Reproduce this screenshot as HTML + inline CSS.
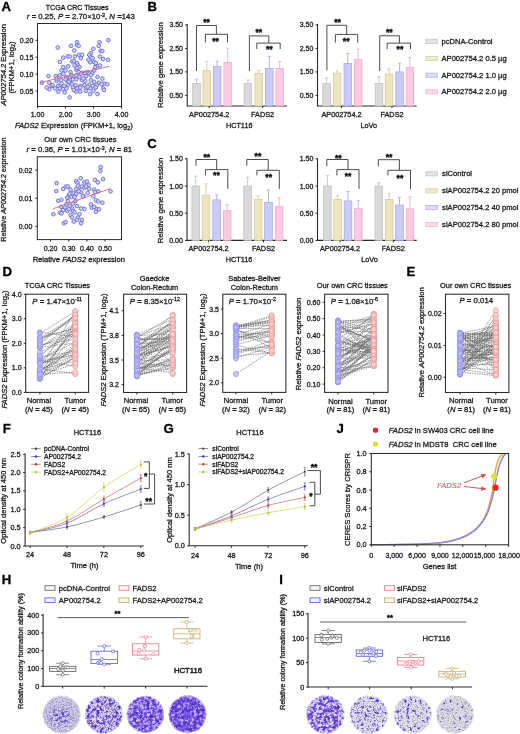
<!DOCTYPE html>
<html><head><meta charset="utf-8"><title>Figure</title>
<style>
html,body{margin:0;padding:0;background:#fff;}
body{width:520px;height:734px;overflow:hidden;}
svg{display:block;filter:blur(0.25px);}
svg text{font-family:'Liberation Sans', Arial, Helvetica, sans-serif;stroke-width:0.3px;}
</style></head><body>
<svg width="520" height="734" viewBox="0 0 520 734" fill="#1e1e1e">
<rect x="0" y="0" width="520" height="734" fill="#fff"/>
<text x="1.60" y="10.60" font-size="13.2" font-weight="bold" fill="#000" stroke="#000">A</text>
<text x="147.60" y="10.60" font-size="13.2" font-weight="bold" fill="#000" stroke="#000">B</text>
<text x="147.20" y="148.30" font-size="13.2" font-weight="bold" fill="#000" stroke="#000">C</text>
<text x="2.60" y="276.30" font-size="13.2" font-weight="bold" fill="#000" stroke="#000">D</text>
<text x="406.40" y="276.40" font-size="13.2" font-weight="bold" fill="#000" stroke="#000">E</text>
<text x="2.80" y="433.00" font-size="13.2" font-weight="bold" fill="#000" stroke="#000">F</text>
<text x="163.40" y="433.00" font-size="13.2" font-weight="bold" fill="#000" stroke="#000">G</text>
<text x="1.80" y="584.20" font-size="13.2" font-weight="bold" fill="#000" stroke="#000">H</text>
<text x="279.30" y="584.20" font-size="13.2" font-weight="bold" fill="#000" stroke="#000">I</text>
<text x="336.60" y="433.00" font-size="13.2" font-weight="bold" fill="#000" stroke="#000">J</text>
<rect x="37.50" y="23.50" width="84.00" height="83.00" fill="none" stroke="#2a2a2a" stroke-width="1"/>
<line x1="37.50" y1="106.50" x2="37.50" y2="108.50" stroke="#2a2a2a" stroke-width="1"/>
<text x="37.50" y="117.20" font-size="7.0" text-anchor="middle" stroke="#1e1e1e">1.00</text>
<line x1="65.50" y1="106.50" x2="65.50" y2="108.50" stroke="#2a2a2a" stroke-width="1"/>
<text x="65.50" y="117.20" font-size="7.0" text-anchor="middle" stroke="#1e1e1e">2.00</text>
<line x1="93.50" y1="106.50" x2="93.50" y2="108.50" stroke="#2a2a2a" stroke-width="1"/>
<text x="93.50" y="117.20" font-size="7.0" text-anchor="middle" stroke="#1e1e1e">3.00</text>
<line x1="121.50" y1="106.50" x2="121.50" y2="108.50" stroke="#2a2a2a" stroke-width="1"/>
<text x="121.50" y="117.20" font-size="7.0" text-anchor="middle" stroke="#1e1e1e">4.00</text>
<line x1="35.50" y1="40.30" x2="37.50" y2="40.30" stroke="#2a2a2a" stroke-width="1"/>
<text x="33.40" y="42.80" font-size="7.0" text-anchor="end" stroke="#1e1e1e">0.20</text>
<line x1="35.50" y1="57.20" x2="37.50" y2="57.20" stroke="#2a2a2a" stroke-width="1"/>
<text x="33.40" y="59.70" font-size="7.0" text-anchor="end" stroke="#1e1e1e">0.15</text>
<line x1="35.50" y1="74.10" x2="37.50" y2="74.10" stroke="#2a2a2a" stroke-width="1"/>
<text x="33.40" y="76.60" font-size="7.0" text-anchor="end" stroke="#1e1e1e">0.10</text>
<line x1="35.50" y1="91.00" x2="37.50" y2="91.00" stroke="#2a2a2a" stroke-width="1"/>
<text x="33.40" y="93.50" font-size="7.0" text-anchor="end" stroke="#1e1e1e">0.05</text>
<text x="77.10" y="9.50" font-size="7.1" text-anchor="middle" stroke="#1e1e1e">TCGA CRC Tissues</text>
<text x="80.80" y="19.00" font-size="7.8" text-anchor="middle" stroke="#1e1e1e"><tspan font-style="italic">r</tspan> = 0.25, <tspan font-style="italic">P</tspan> = 2.70×10<tspan font-size="5.2" dy="-2.34">-3</tspan><tspan dy="2.34">, </tspan><tspan font-style="italic">N</tspan> =143</text>
<text transform="translate(5.90,64.80) rotate(-90)" font-size="7.6" text-anchor="middle" stroke="#1e1e1e"><tspan font-style="italic">AP002754.2</tspan> Expression</text>
<text transform="translate(13.60,67.50) rotate(-90)" font-size="7.6" text-anchor="middle" stroke="#1e1e1e">(FPKM+1, log<tspan font-size="5.5" dy="1.65">2</tspan><tspan dy="-1.65">)</tspan></text>
<text x="73.90" y="128.30" font-size="7.6" text-anchor="middle" stroke="#1e1e1e"><tspan font-style="italic">FADS2</tspan> Expression (FPKM+1, log<tspan font-size="5.5" dy="1.65">2</tspan><tspan dy="-1.65">)</tspan></text>
<circle cx="108.41" cy="40.16" r="1.85" fill="#d2d2f6" stroke="#6c6cd4" stroke-width="0.9"/>
<circle cx="99.58" cy="42.28" r="1.85" fill="#d2d2f6" stroke="#6c6cd4" stroke-width="0.9"/>
<circle cx="77.03" cy="42.28" r="1.85" fill="#d2d2f6" stroke="#6c6cd4" stroke-width="0.9"/>
<circle cx="57.75" cy="47.51" r="1.85" fill="#d2d2f6" stroke="#6c6cd4" stroke-width="0.9"/>
<circle cx="70.99" cy="45.88" r="1.85" fill="#d2d2f6" stroke="#6c6cd4" stroke-width="0.9"/>
<circle cx="77.03" cy="45.06" r="1.85" fill="#d2d2f6" stroke="#6c6cd4" stroke-width="0.9"/>
<circle cx="78.67" cy="45.88" r="1.85" fill="#d2d2f6" stroke="#6c6cd4" stroke-width="0.9"/>
<circle cx="98.76" cy="45.88" r="1.85" fill="#d2d2f6" stroke="#6c6cd4" stroke-width="0.9"/>
<circle cx="93.37" cy="48.82" r="1.85" fill="#d2d2f6" stroke="#6c6cd4" stroke-width="0.9"/>
<circle cx="74.25" cy="50.45" r="1.85" fill="#d2d2f6" stroke="#6c6cd4" stroke-width="0.9"/>
<circle cx="100.73" cy="50.78" r="1.85" fill="#d2d2f6" stroke="#6c6cd4" stroke-width="0.9"/>
<circle cx="102.36" cy="51.10" r="1.85" fill="#d2d2f6" stroke="#6c6cd4" stroke-width="0.9"/>
<circle cx="90.92" cy="53.23" r="1.85" fill="#d2d2f6" stroke="#6c6cd4" stroke-width="0.9"/>
<circle cx="89.29" cy="54.86" r="1.85" fill="#d2d2f6" stroke="#6c6cd4" stroke-width="0.9"/>
<circle cx="79.16" cy="54.86" r="1.85" fill="#d2d2f6" stroke="#6c6cd4" stroke-width="0.9"/>
<circle cx="81.93" cy="54.86" r="1.85" fill="#d2d2f6" stroke="#6c6cd4" stroke-width="0.9"/>
<circle cx="67.72" cy="56.50" r="1.85" fill="#d2d2f6" stroke="#6c6cd4" stroke-width="0.9"/>
<circle cx="69.68" cy="56.50" r="1.85" fill="#d2d2f6" stroke="#6c6cd4" stroke-width="0.9"/>
<circle cx="74.91" cy="56.50" r="1.85" fill="#d2d2f6" stroke="#6c6cd4" stroke-width="0.9"/>
<circle cx="63.14" cy="57.64" r="1.85" fill="#d2d2f6" stroke="#6c6cd4" stroke-width="0.9"/>
<circle cx="80.79" cy="58.13" r="1.85" fill="#d2d2f6" stroke="#6c6cd4" stroke-width="0.9"/>
<circle cx="90.92" cy="57.31" r="1.85" fill="#d2d2f6" stroke="#6c6cd4" stroke-width="0.9"/>
<circle cx="92.56" cy="58.13" r="1.85" fill="#d2d2f6" stroke="#6c6cd4" stroke-width="0.9"/>
<circle cx="99.91" cy="56.50" r="1.85" fill="#d2d2f6" stroke="#6c6cd4" stroke-width="0.9"/>
<circle cx="103.18" cy="58.95" r="1.85" fill="#d2d2f6" stroke="#6c6cd4" stroke-width="0.9"/>
<circle cx="108.08" cy="59.76" r="1.85" fill="#d2d2f6" stroke="#6c6cd4" stroke-width="0.9"/>
<circle cx="59.88" cy="61.89" r="1.85" fill="#d2d2f6" stroke="#6c6cd4" stroke-width="0.9"/>
<circle cx="72.13" cy="61.40" r="1.85" fill="#d2d2f6" stroke="#6c6cd4" stroke-width="0.9"/>
<circle cx="73.76" cy="60.91" r="1.85" fill="#d2d2f6" stroke="#6c6cd4" stroke-width="0.9"/>
<circle cx="77.03" cy="63.03" r="1.85" fill="#d2d2f6" stroke="#6c6cd4" stroke-width="0.9"/>
<circle cx="90.10" cy="62.22" r="1.85" fill="#d2d2f6" stroke="#6c6cd4" stroke-width="0.9"/>
<circle cx="88.47" cy="59.76" r="1.85" fill="#d2d2f6" stroke="#6c6cd4" stroke-width="0.9"/>
<circle cx="94.19" cy="62.22" r="1.85" fill="#d2d2f6" stroke="#6c6cd4" stroke-width="0.9"/>
<circle cx="95.82" cy="63.03" r="1.85" fill="#d2d2f6" stroke="#6c6cd4" stroke-width="0.9"/>
<circle cx="77.85" cy="65.48" r="1.85" fill="#d2d2f6" stroke="#6c6cd4" stroke-width="0.9"/>
<circle cx="79.48" cy="67.12" r="1.85" fill="#d2d2f6" stroke="#6c6cd4" stroke-width="0.9"/>
<circle cx="97.46" cy="66.30" r="1.85" fill="#d2d2f6" stroke="#6c6cd4" stroke-width="0.9"/>
<circle cx="99.91" cy="65.48" r="1.85" fill="#d2d2f6" stroke="#6c6cd4" stroke-width="0.9"/>
<circle cx="63.14" cy="67.12" r="1.85" fill="#d2d2f6" stroke="#6c6cd4" stroke-width="0.9"/>
<circle cx="68.05" cy="66.30" r="1.85" fill="#d2d2f6" stroke="#6c6cd4" stroke-width="0.9"/>
<circle cx="95.01" cy="67.12" r="1.85" fill="#d2d2f6" stroke="#6c6cd4" stroke-width="0.9"/>
<circle cx="61.51" cy="70.39" r="1.85" fill="#d2d2f6" stroke="#6c6cd4" stroke-width="0.9"/>
<circle cx="65.59" cy="70.39" r="1.85" fill="#d2d2f6" stroke="#6c6cd4" stroke-width="0.9"/>
<circle cx="70.50" cy="72.02" r="1.85" fill="#d2d2f6" stroke="#6c6cd4" stroke-width="0.9"/>
<circle cx="76.22" cy="69.57" r="1.85" fill="#d2d2f6" stroke="#6c6cd4" stroke-width="0.9"/>
<circle cx="78.67" cy="72.02" r="1.85" fill="#d2d2f6" stroke="#6c6cd4" stroke-width="0.9"/>
<circle cx="82.75" cy="72.84" r="1.85" fill="#d2d2f6" stroke="#6c6cd4" stroke-width="0.9"/>
<circle cx="85.20" cy="72.84" r="1.85" fill="#d2d2f6" stroke="#6c6cd4" stroke-width="0.9"/>
<circle cx="87.65" cy="72.02" r="1.85" fill="#d2d2f6" stroke="#6c6cd4" stroke-width="0.9"/>
<circle cx="89.29" cy="73.65" r="1.85" fill="#d2d2f6" stroke="#6c6cd4" stroke-width="0.9"/>
<circle cx="92.56" cy="72.84" r="1.85" fill="#d2d2f6" stroke="#6c6cd4" stroke-width="0.9"/>
<circle cx="48.44" cy="76.10" r="1.85" fill="#d2d2f6" stroke="#6c6cd4" stroke-width="0.9"/>
<circle cx="55.79" cy="76.10" r="1.85" fill="#d2d2f6" stroke="#6c6cd4" stroke-width="0.9"/>
<circle cx="59.88" cy="75.29" r="1.85" fill="#d2d2f6" stroke="#6c6cd4" stroke-width="0.9"/>
<circle cx="63.14" cy="73.65" r="1.85" fill="#d2d2f6" stroke="#6c6cd4" stroke-width="0.9"/>
<circle cx="66.41" cy="76.92" r="1.85" fill="#d2d2f6" stroke="#6c6cd4" stroke-width="0.9"/>
<circle cx="69.68" cy="77.74" r="1.85" fill="#d2d2f6" stroke="#6c6cd4" stroke-width="0.9"/>
<circle cx="73.76" cy="76.10" r="1.85" fill="#d2d2f6" stroke="#6c6cd4" stroke-width="0.9"/>
<circle cx="76.22" cy="75.29" r="1.85" fill="#d2d2f6" stroke="#6c6cd4" stroke-width="0.9"/>
<circle cx="79.48" cy="76.92" r="1.85" fill="#d2d2f6" stroke="#6c6cd4" stroke-width="0.9"/>
<circle cx="86.02" cy="76.10" r="1.85" fill="#d2d2f6" stroke="#6c6cd4" stroke-width="0.9"/>
<circle cx="90.92" cy="75.29" r="1.85" fill="#d2d2f6" stroke="#6c6cd4" stroke-width="0.9"/>
<circle cx="97.46" cy="76.92" r="1.85" fill="#d2d2f6" stroke="#6c6cd4" stroke-width="0.9"/>
<circle cx="102.36" cy="78.56" r="1.85" fill="#d2d2f6" stroke="#6c6cd4" stroke-width="0.9"/>
<circle cx="41.90" cy="82.64" r="1.85" fill="#d2d2f6" stroke="#6c6cd4" stroke-width="0.9"/>
<circle cx="49.25" cy="82.64" r="1.85" fill="#d2d2f6" stroke="#6c6cd4" stroke-width="0.9"/>
<circle cx="56.61" cy="81.01" r="1.85" fill="#d2d2f6" stroke="#6c6cd4" stroke-width="0.9"/>
<circle cx="61.18" cy="80.19" r="1.85" fill="#d2d2f6" stroke="#6c6cd4" stroke-width="0.9"/>
<circle cx="67.23" cy="81.01" r="1.85" fill="#d2d2f6" stroke="#6c6cd4" stroke-width="0.9"/>
<circle cx="70.50" cy="80.19" r="1.85" fill="#d2d2f6" stroke="#6c6cd4" stroke-width="0.9"/>
<circle cx="72.95" cy="79.37" r="1.85" fill="#d2d2f6" stroke="#6c6cd4" stroke-width="0.9"/>
<circle cx="76.22" cy="79.37" r="1.85" fill="#d2d2f6" stroke="#6c6cd4" stroke-width="0.9"/>
<circle cx="81.93" cy="80.19" r="1.85" fill="#d2d2f6" stroke="#6c6cd4" stroke-width="0.9"/>
<circle cx="85.20" cy="81.01" r="1.85" fill="#d2d2f6" stroke="#6c6cd4" stroke-width="0.9"/>
<circle cx="94.19" cy="81.82" r="1.85" fill="#d2d2f6" stroke="#6c6cd4" stroke-width="0.9"/>
<circle cx="99.09" cy="82.64" r="1.85" fill="#d2d2f6" stroke="#6c6cd4" stroke-width="0.9"/>
<circle cx="103.99" cy="83.46" r="1.85" fill="#d2d2f6" stroke="#6c6cd4" stroke-width="0.9"/>
<circle cx="107.26" cy="84.27" r="1.85" fill="#d2d2f6" stroke="#6c6cd4" stroke-width="0.9"/>
<circle cx="51.71" cy="85.91" r="1.85" fill="#d2d2f6" stroke="#6c6cd4" stroke-width="0.9"/>
<circle cx="58.24" cy="85.91" r="1.85" fill="#d2d2f6" stroke="#6c6cd4" stroke-width="0.9"/>
<circle cx="60.69" cy="85.09" r="1.85" fill="#d2d2f6" stroke="#6c6cd4" stroke-width="0.9"/>
<circle cx="63.96" cy="85.91" r="1.85" fill="#d2d2f6" stroke="#6c6cd4" stroke-width="0.9"/>
<circle cx="68.05" cy="85.09" r="1.85" fill="#d2d2f6" stroke="#6c6cd4" stroke-width="0.9"/>
<circle cx="72.13" cy="84.27" r="1.85" fill="#d2d2f6" stroke="#6c6cd4" stroke-width="0.9"/>
<circle cx="75.40" cy="85.09" r="1.85" fill="#d2d2f6" stroke="#6c6cd4" stroke-width="0.9"/>
<circle cx="80.30" cy="85.91" r="1.85" fill="#d2d2f6" stroke="#6c6cd4" stroke-width="0.9"/>
<circle cx="84.39" cy="85.09" r="1.85" fill="#d2d2f6" stroke="#6c6cd4" stroke-width="0.9"/>
<circle cx="89.29" cy="84.76" r="1.85" fill="#d2d2f6" stroke="#6c6cd4" stroke-width="0.9"/>
<circle cx="92.56" cy="85.91" r="1.85" fill="#d2d2f6" stroke="#6c6cd4" stroke-width="0.9"/>
<circle cx="96.64" cy="85.09" r="1.85" fill="#d2d2f6" stroke="#6c6cd4" stroke-width="0.9"/>
<circle cx="101.54" cy="84.27" r="1.85" fill="#d2d2f6" stroke="#6c6cd4" stroke-width="0.9"/>
<circle cx="49.25" cy="89.18" r="1.85" fill="#d2d2f6" stroke="#6c6cd4" stroke-width="0.9"/>
<circle cx="54.97" cy="88.36" r="1.85" fill="#d2d2f6" stroke="#6c6cd4" stroke-width="0.9"/>
<circle cx="59.88" cy="88.36" r="1.85" fill="#d2d2f6" stroke="#6c6cd4" stroke-width="0.9"/>
<circle cx="63.14" cy="89.18" r="1.85" fill="#d2d2f6" stroke="#6c6cd4" stroke-width="0.9"/>
<circle cx="72.95" cy="87.54" r="1.85" fill="#d2d2f6" stroke="#6c6cd4" stroke-width="0.9"/>
<circle cx="77.03" cy="88.36" r="1.85" fill="#d2d2f6" stroke="#6c6cd4" stroke-width="0.9"/>
<circle cx="80.30" cy="87.54" r="1.85" fill="#d2d2f6" stroke="#6c6cd4" stroke-width="0.9"/>
<circle cx="86.02" cy="88.36" r="1.85" fill="#d2d2f6" stroke="#6c6cd4" stroke-width="0.9"/>
<circle cx="90.10" cy="88.36" r="1.85" fill="#d2d2f6" stroke="#6c6cd4" stroke-width="0.9"/>
<circle cx="95.82" cy="87.54" r="1.85" fill="#d2d2f6" stroke="#6c6cd4" stroke-width="0.9"/>
<circle cx="103.18" cy="88.36" r="1.85" fill="#d2d2f6" stroke="#6c6cd4" stroke-width="0.9"/>
<circle cx="58.24" cy="91.63" r="1.85" fill="#d2d2f6" stroke="#6c6cd4" stroke-width="0.9"/>
<circle cx="64.78" cy="92.44" r="1.85" fill="#d2d2f6" stroke="#6c6cd4" stroke-width="0.9"/>
<circle cx="76.22" cy="91.63" r="1.85" fill="#d2d2f6" stroke="#6c6cd4" stroke-width="0.9"/>
<circle cx="80.30" cy="91.63" r="1.85" fill="#d2d2f6" stroke="#6c6cd4" stroke-width="0.9"/>
<circle cx="86.02" cy="90.81" r="1.85" fill="#d2d2f6" stroke="#6c6cd4" stroke-width="0.9"/>
<circle cx="93.37" cy="90.81" r="1.85" fill="#d2d2f6" stroke="#6c6cd4" stroke-width="0.9"/>
<circle cx="103.99" cy="89.99" r="1.85" fill="#d2d2f6" stroke="#6c6cd4" stroke-width="0.9"/>
<circle cx="69.68" cy="97.35" r="1.85" fill="#d2d2f6" stroke="#6c6cd4" stroke-width="0.9"/>
<circle cx="90.10" cy="94.08" r="1.85" fill="#d2d2f6" stroke="#6c6cd4" stroke-width="0.9"/>
<circle cx="97.46" cy="94.08" r="1.85" fill="#d2d2f6" stroke="#6c6cd4" stroke-width="0.9"/>
<circle cx="52.52" cy="85.09" r="1.85" fill="#d2d2f6" stroke="#6c6cd4" stroke-width="0.9"/>
<circle cx="46.80" cy="87.54" r="1.85" fill="#d2d2f6" stroke="#6c6cd4" stroke-width="0.9"/>
<circle cx="74.58" cy="65.48" r="1.85" fill="#d2d2f6" stroke="#6c6cd4" stroke-width="0.9"/>
<circle cx="77.03" cy="67.93" r="1.85" fill="#d2d2f6" stroke="#6c6cd4" stroke-width="0.9"/>
<circle cx="71.31" cy="75.29" r="1.85" fill="#d2d2f6" stroke="#6c6cd4" stroke-width="0.9"/>
<circle cx="68.86" cy="81.82" r="1.85" fill="#d2d2f6" stroke="#6c6cd4" stroke-width="0.9"/>
<circle cx="81.12" cy="73.65" r="1.85" fill="#d2d2f6" stroke="#6c6cd4" stroke-width="0.9"/>
<circle cx="83.57" cy="78.56" r="1.85" fill="#d2d2f6" stroke="#6c6cd4" stroke-width="0.9"/>
<circle cx="90.92" cy="80.19" r="1.85" fill="#d2d2f6" stroke="#6c6cd4" stroke-width="0.9"/>
<circle cx="61.51" cy="83.46" r="1.85" fill="#d2d2f6" stroke="#6c6cd4" stroke-width="0.9"/>
<circle cx="66.41" cy="88.36" r="1.85" fill="#d2d2f6" stroke="#6c6cd4" stroke-width="0.9"/>
<circle cx="87.65" cy="86.73" r="1.85" fill="#d2d2f6" stroke="#6c6cd4" stroke-width="0.9"/>
<circle cx="73.76" cy="89.99" r="1.85" fill="#d2d2f6" stroke="#6c6cd4" stroke-width="0.9"/>
<circle cx="94.19" cy="70.39" r="1.85" fill="#d2d2f6" stroke="#6c6cd4" stroke-width="0.9"/>
<circle cx="56.61" cy="78.56" r="1.85" fill="#d2d2f6" stroke="#6c6cd4" stroke-width="0.9"/>
<circle cx="65.59" cy="79.37" r="1.85" fill="#d2d2f6" stroke="#6c6cd4" stroke-width="0.9"/>
<line x1="40.00" y1="82.60" x2="109.00" y2="66.40" stroke="#e0647a" stroke-width="0.9"/>
<rect x="37.30" y="156.80" width="84.20" height="82.80" fill="none" stroke="#2a2a2a" stroke-width="1"/>
<line x1="50.50" y1="239.60" x2="50.50" y2="241.60" stroke="#2a2a2a" stroke-width="1"/>
<text x="50.50" y="251.00" font-size="7.0" text-anchor="middle" stroke="#1e1e1e">0.20</text>
<line x1="68.70" y1="239.60" x2="68.70" y2="241.60" stroke="#2a2a2a" stroke-width="1"/>
<text x="68.70" y="251.00" font-size="7.0" text-anchor="middle" stroke="#1e1e1e">0.30</text>
<line x1="86.90" y1="239.60" x2="86.90" y2="241.60" stroke="#2a2a2a" stroke-width="1"/>
<text x="86.90" y="251.00" font-size="7.0" text-anchor="middle" stroke="#1e1e1e">0.40</text>
<line x1="105.10" y1="239.60" x2="105.10" y2="241.60" stroke="#2a2a2a" stroke-width="1"/>
<text x="105.10" y="251.00" font-size="7.0" text-anchor="middle" stroke="#1e1e1e">0.50</text>
<line x1="35.30" y1="170.10" x2="37.30" y2="170.10" stroke="#2a2a2a" stroke-width="1"/>
<text x="32.40" y="172.60" font-size="7.0" text-anchor="end" stroke="#1e1e1e">0.02</text>
<line x1="35.30" y1="198.20" x2="37.30" y2="198.20" stroke="#2a2a2a" stroke-width="1"/>
<text x="32.40" y="200.70" font-size="7.0" text-anchor="end" stroke="#1e1e1e">0.01</text>
<line x1="35.30" y1="226.30" x2="37.30" y2="226.30" stroke="#2a2a2a" stroke-width="1"/>
<text x="32.40" y="228.80" font-size="7.0" text-anchor="end" stroke="#1e1e1e">0.00</text>
<text x="80.40" y="141.50" font-size="7.5" text-anchor="middle" stroke="#1e1e1e">Our own CRC tissues</text>
<text x="79.30" y="151.90" font-size="7.8" text-anchor="middle" stroke="#1e1e1e"><tspan font-style="italic">r</tspan> = 0.36, <tspan font-style="italic">P</tspan> = 1.01×10<tspan font-size="5.2" dy="-2.34">-3</tspan><tspan dy="2.34">, </tspan><tspan font-style="italic">N</tspan> = 81</text>
<text transform="translate(6.40,189.60) rotate(-90)" font-size="7.2" text-anchor="middle" stroke="#1e1e1e">Relative <tspan font-style="italic">AP002754.2</tspan> expression</text>
<text x="78.80" y="262.00" font-size="7.6" text-anchor="middle" stroke="#1e1e1e">Relative <tspan font-style="italic">FADS2</tspan> expression</text>
<circle cx="100.73" cy="167.13" r="1.85" fill="#d2d2f6" stroke="#6c6cd4" stroke-width="0.9"/>
<circle cx="100.40" cy="170.89" r="1.85" fill="#d2d2f6" stroke="#6c6cd4" stroke-width="0.9"/>
<circle cx="80.79" cy="178.24" r="1.85" fill="#d2d2f6" stroke="#6c6cd4" stroke-width="0.9"/>
<circle cx="103.18" cy="179.06" r="1.85" fill="#d2d2f6" stroke="#6c6cd4" stroke-width="0.9"/>
<circle cx="56.61" cy="183.14" r="1.85" fill="#d2d2f6" stroke="#6c6cd4" stroke-width="0.9"/>
<circle cx="76.22" cy="181.18" r="1.85" fill="#d2d2f6" stroke="#6c6cd4" stroke-width="0.9"/>
<circle cx="77.52" cy="182.82" r="1.85" fill="#d2d2f6" stroke="#6c6cd4" stroke-width="0.9"/>
<circle cx="95.01" cy="179.88" r="1.85" fill="#d2d2f6" stroke="#6c6cd4" stroke-width="0.9"/>
<circle cx="97.78" cy="182.33" r="1.85" fill="#d2d2f6" stroke="#6c6cd4" stroke-width="0.9"/>
<circle cx="84.39" cy="182.33" r="1.85" fill="#d2d2f6" stroke="#6c6cd4" stroke-width="0.9"/>
<circle cx="86.84" cy="181.51" r="1.85" fill="#d2d2f6" stroke="#6c6cd4" stroke-width="0.9"/>
<circle cx="88.47" cy="184.78" r="1.85" fill="#d2d2f6" stroke="#6c6cd4" stroke-width="0.9"/>
<circle cx="65.59" cy="186.74" r="1.85" fill="#d2d2f6" stroke="#6c6cd4" stroke-width="0.9"/>
<circle cx="63.14" cy="188.86" r="1.85" fill="#d2d2f6" stroke="#6c6cd4" stroke-width="0.9"/>
<circle cx="67.72" cy="186.41" r="1.85" fill="#d2d2f6" stroke="#6c6cd4" stroke-width="0.9"/>
<circle cx="70.50" cy="189.68" r="1.85" fill="#d2d2f6" stroke="#6c6cd4" stroke-width="0.9"/>
<circle cx="76.22" cy="188.86" r="1.85" fill="#d2d2f6" stroke="#6c6cd4" stroke-width="0.9"/>
<circle cx="79.81" cy="187.23" r="1.85" fill="#d2d2f6" stroke="#6c6cd4" stroke-width="0.9"/>
<circle cx="81.93" cy="186.41" r="1.85" fill="#d2d2f6" stroke="#6c6cd4" stroke-width="0.9"/>
<circle cx="84.39" cy="188.05" r="1.85" fill="#d2d2f6" stroke="#6c6cd4" stroke-width="0.9"/>
<circle cx="86.02" cy="186.41" r="1.85" fill="#d2d2f6" stroke="#6c6cd4" stroke-width="0.9"/>
<circle cx="56.28" cy="190.99" r="1.85" fill="#d2d2f6" stroke="#6c6cd4" stroke-width="0.9"/>
<circle cx="94.19" cy="189.68" r="1.85" fill="#d2d2f6" stroke="#6c6cd4" stroke-width="0.9"/>
<circle cx="98.27" cy="191.31" r="1.85" fill="#d2d2f6" stroke="#6c6cd4" stroke-width="0.9"/>
<circle cx="95.01" cy="192.13" r="1.85" fill="#d2d2f6" stroke="#6c6cd4" stroke-width="0.9"/>
<circle cx="110.53" cy="191.31" r="1.85" fill="#d2d2f6" stroke="#6c6cd4" stroke-width="0.9"/>
<circle cx="73.76" cy="192.95" r="1.85" fill="#d2d2f6" stroke="#6c6cd4" stroke-width="0.9"/>
<circle cx="76.22" cy="193.76" r="1.85" fill="#d2d2f6" stroke="#6c6cd4" stroke-width="0.9"/>
<circle cx="68.86" cy="195.40" r="1.85" fill="#d2d2f6" stroke="#6c6cd4" stroke-width="0.9"/>
<circle cx="83.57" cy="196.22" r="1.85" fill="#d2d2f6" stroke="#6c6cd4" stroke-width="0.9"/>
<circle cx="81.12" cy="192.13" r="1.85" fill="#d2d2f6" stroke="#6c6cd4" stroke-width="0.9"/>
<circle cx="71.31" cy="197.03" r="1.85" fill="#d2d2f6" stroke="#6c6cd4" stroke-width="0.9"/>
<circle cx="67.23" cy="197.85" r="1.85" fill="#d2d2f6" stroke="#6c6cd4" stroke-width="0.9"/>
<circle cx="74.58" cy="197.03" r="1.85" fill="#d2d2f6" stroke="#6c6cd4" stroke-width="0.9"/>
<circle cx="58.24" cy="200.79" r="1.85" fill="#d2d2f6" stroke="#6c6cd4" stroke-width="0.9"/>
<circle cx="61.51" cy="199.81" r="1.85" fill="#d2d2f6" stroke="#6c6cd4" stroke-width="0.9"/>
<circle cx="68.05" cy="201.12" r="1.85" fill="#d2d2f6" stroke="#6c6cd4" stroke-width="0.9"/>
<circle cx="95.82" cy="200.30" r="1.85" fill="#d2d2f6" stroke="#6c6cd4" stroke-width="0.9"/>
<circle cx="98.27" cy="201.44" r="1.85" fill="#d2d2f6" stroke="#6c6cd4" stroke-width="0.9"/>
<circle cx="102.36" cy="202.75" r="1.85" fill="#d2d2f6" stroke="#6c6cd4" stroke-width="0.9"/>
<circle cx="75.40" cy="201.12" r="1.85" fill="#d2d2f6" stroke="#6c6cd4" stroke-width="0.9"/>
<circle cx="61.18" cy="206.84" r="1.85" fill="#d2d2f6" stroke="#6c6cd4" stroke-width="0.9"/>
<circle cx="64.78" cy="207.65" r="1.85" fill="#d2d2f6" stroke="#6c6cd4" stroke-width="0.9"/>
<circle cx="69.68" cy="206.02" r="1.85" fill="#d2d2f6" stroke="#6c6cd4" stroke-width="0.9"/>
<circle cx="72.13" cy="208.47" r="1.85" fill="#d2d2f6" stroke="#6c6cd4" stroke-width="0.9"/>
<circle cx="77.03" cy="206.02" r="1.85" fill="#d2d2f6" stroke="#6c6cd4" stroke-width="0.9"/>
<circle cx="81.12" cy="208.47" r="1.85" fill="#d2d2f6" stroke="#6c6cd4" stroke-width="0.9"/>
<circle cx="84.39" cy="208.96" r="1.85" fill="#d2d2f6" stroke="#6c6cd4" stroke-width="0.9"/>
<circle cx="91.74" cy="207.65" r="1.85" fill="#d2d2f6" stroke="#6c6cd4" stroke-width="0.9"/>
<circle cx="94.19" cy="206.84" r="1.85" fill="#d2d2f6" stroke="#6c6cd4" stroke-width="0.9"/>
<circle cx="96.64" cy="209.29" r="1.85" fill="#d2d2f6" stroke="#6c6cd4" stroke-width="0.9"/>
<circle cx="99.09" cy="209.29" r="1.85" fill="#d2d2f6" stroke="#6c6cd4" stroke-width="0.9"/>
<circle cx="63.14" cy="210.10" r="1.85" fill="#d2d2f6" stroke="#6c6cd4" stroke-width="0.9"/>
<circle cx="67.23" cy="210.92" r="1.85" fill="#d2d2f6" stroke="#6c6cd4" stroke-width="0.9"/>
<circle cx="59.88" cy="212.56" r="1.85" fill="#d2d2f6" stroke="#6c6cd4" stroke-width="0.9"/>
<circle cx="72.95" cy="210.92" r="1.85" fill="#d2d2f6" stroke="#6c6cd4" stroke-width="0.9"/>
<circle cx="95.82" cy="211.74" r="1.85" fill="#d2d2f6" stroke="#6c6cd4" stroke-width="0.9"/>
<circle cx="53.34" cy="214.19" r="1.85" fill="#d2d2f6" stroke="#6c6cd4" stroke-width="0.9"/>
<circle cx="61.51" cy="213.37" r="1.85" fill="#d2d2f6" stroke="#6c6cd4" stroke-width="0.9"/>
<circle cx="70.50" cy="215.01" r="1.85" fill="#d2d2f6" stroke="#6c6cd4" stroke-width="0.9"/>
<circle cx="72.13" cy="217.46" r="1.85" fill="#d2d2f6" stroke="#6c6cd4" stroke-width="0.9"/>
<circle cx="77.85" cy="217.46" r="1.85" fill="#d2d2f6" stroke="#6c6cd4" stroke-width="0.9"/>
<circle cx="73.76" cy="221.54" r="1.85" fill="#d2d2f6" stroke="#6c6cd4" stroke-width="0.9"/>
<circle cx="77.03" cy="219.91" r="1.85" fill="#d2d2f6" stroke="#6c6cd4" stroke-width="0.9"/>
<circle cx="81.93" cy="219.91" r="1.85" fill="#d2d2f6" stroke="#6c6cd4" stroke-width="0.9"/>
<circle cx="81.12" cy="223.18" r="1.85" fill="#d2d2f6" stroke="#6c6cd4" stroke-width="0.9"/>
<circle cx="63.96" cy="223.18" r="1.85" fill="#d2d2f6" stroke="#6c6cd4" stroke-width="0.9"/>
<circle cx="65.59" cy="222.03" r="1.85" fill="#d2d2f6" stroke="#6c6cd4" stroke-width="0.9"/>
<circle cx="82.75" cy="196.22" r="1.85" fill="#d2d2f6" stroke="#6c6cd4" stroke-width="0.9"/>
<circle cx="89.29" cy="188.86" r="1.85" fill="#d2d2f6" stroke="#6c6cd4" stroke-width="0.9"/>
<circle cx="78.67" cy="191.31" r="1.85" fill="#d2d2f6" stroke="#6c6cd4" stroke-width="0.9"/>
<circle cx="69.68" cy="193.76" r="1.85" fill="#d2d2f6" stroke="#6c6cd4" stroke-width="0.9"/>
<circle cx="87.65" cy="192.95" r="1.85" fill="#d2d2f6" stroke="#6c6cd4" stroke-width="0.9"/>
<circle cx="66.41" cy="204.39" r="1.85" fill="#d2d2f6" stroke="#6c6cd4" stroke-width="0.9"/>
<circle cx="74.58" cy="212.56" r="1.85" fill="#d2d2f6" stroke="#6c6cd4" stroke-width="0.9"/>
<circle cx="79.48" cy="214.19" r="1.85" fill="#d2d2f6" stroke="#6c6cd4" stroke-width="0.9"/>
<circle cx="93.37" cy="196.22" r="1.85" fill="#d2d2f6" stroke="#6c6cd4" stroke-width="0.9"/>
<circle cx="77.85" cy="185.59" r="1.85" fill="#d2d2f6" stroke="#6c6cd4" stroke-width="0.9"/>
<circle cx="72.95" cy="203.57" r="1.85" fill="#d2d2f6" stroke="#6c6cd4" stroke-width="0.9"/>
<circle cx="90.92" cy="204.39" r="1.85" fill="#d2d2f6" stroke="#6c6cd4" stroke-width="0.9"/>
<circle cx="68.86" cy="209.29" r="1.85" fill="#d2d2f6" stroke="#6c6cd4" stroke-width="0.9"/>
<line x1="53.10" y1="208.70" x2="110.40" y2="188.50" stroke="#e0647a" stroke-width="0.9"/>
<line x1="187.20" y1="24.00" x2="187.20" y2="106.50" stroke="#2a2a2a" stroke-width="1.1"/>
<line x1="187.20" y1="106.00" x2="287.00" y2="106.00" stroke="#2a2a2a" stroke-width="1.1"/>
<line x1="185.20" y1="24.95" x2="187.20" y2="24.95" stroke="#2a2a2a" stroke-width="1"/>
<text x="183.00" y="27.45" font-size="7.0" text-anchor="end" stroke="#1e1e1e">3.50</text>
<line x1="185.20" y1="48.42" x2="187.20" y2="48.42" stroke="#2a2a2a" stroke-width="1"/>
<text x="183.00" y="50.92" font-size="7.0" text-anchor="end" stroke="#1e1e1e">2.50</text>
<line x1="185.20" y1="71.89" x2="187.20" y2="71.89" stroke="#2a2a2a" stroke-width="1"/>
<text x="183.00" y="74.39" font-size="7.0" text-anchor="end" stroke="#1e1e1e">1.50</text>
<line x1="185.20" y1="95.36" x2="187.20" y2="95.36" stroke="#2a2a2a" stroke-width="1"/>
<text x="183.00" y="97.86" font-size="7.0" text-anchor="end" stroke="#1e1e1e">0.50</text>
<line x1="317.50" y1="24.00" x2="317.50" y2="106.50" stroke="#2a2a2a" stroke-width="1.1"/>
<line x1="317.50" y1="106.00" x2="416.70" y2="106.00" stroke="#2a2a2a" stroke-width="1.1"/>
<line x1="315.50" y1="24.95" x2="317.50" y2="24.95" stroke="#2a2a2a" stroke-width="1"/>
<text x="313.30" y="27.45" font-size="7.0" text-anchor="end" stroke="#1e1e1e">3.50</text>
<line x1="315.50" y1="48.42" x2="317.50" y2="48.42" stroke="#2a2a2a" stroke-width="1"/>
<text x="313.30" y="50.92" font-size="7.0" text-anchor="end" stroke="#1e1e1e">2.50</text>
<line x1="315.50" y1="71.89" x2="317.50" y2="71.89" stroke="#2a2a2a" stroke-width="1"/>
<text x="313.30" y="74.39" font-size="7.0" text-anchor="end" stroke="#1e1e1e">1.50</text>
<line x1="315.50" y1="95.36" x2="317.50" y2="95.36" stroke="#2a2a2a" stroke-width="1"/>
<text x="313.30" y="97.86" font-size="7.0" text-anchor="end" stroke="#1e1e1e">0.50</text>
<line x1="196.50" y1="79.17" x2="196.50" y2="83.63" stroke="#bdbdbd" stroke-width="0.8"/>
<line x1="194.90" y1="79.17" x2="198.10" y2="79.17" stroke="#bdbdbd" stroke-width="0.8"/>
<rect x="192.70" y="83.63" width="7.60" height="22.37" fill="#d9d9d9" stroke="#bdbdbd" stroke-width="0.7"/>
<line x1="206.80" y1="61.57" x2="206.80" y2="70.72" stroke="#d3c792" stroke-width="0.8"/>
<line x1="205.20" y1="61.57" x2="208.40" y2="61.57" stroke="#d3c792" stroke-width="0.8"/>
<rect x="203.00" y="70.72" width="7.60" height="35.28" fill="#ede5bf" stroke="#d3c792" stroke-width="0.7"/>
<line x1="217.20" y1="61.10" x2="217.20" y2="66.50" stroke="#a3a3e6" stroke-width="0.8"/>
<line x1="215.60" y1="61.10" x2="218.80" y2="61.10" stroke="#a3a3e6" stroke-width="0.8"/>
<rect x="213.40" y="66.50" width="7.60" height="39.50" fill="#cbcbf8" stroke="#a3a3e6" stroke-width="0.7"/>
<line x1="227.70" y1="48.19" x2="227.70" y2="62.51" stroke="#eea5c6" stroke-width="0.8"/>
<line x1="226.10" y1="48.19" x2="229.30" y2="48.19" stroke="#eea5c6" stroke-width="0.8"/>
<rect x="223.90" y="62.51" width="7.60" height="43.49" fill="#fdcae2" stroke="#eea5c6" stroke-width="0.7"/>
<line x1="247.90" y1="80.11" x2="247.90" y2="83.63" stroke="#bdbdbd" stroke-width="0.8"/>
<line x1="246.30" y1="80.11" x2="249.50" y2="80.11" stroke="#bdbdbd" stroke-width="0.8"/>
<rect x="244.10" y="83.63" width="7.60" height="22.37" fill="#d9d9d9" stroke="#bdbdbd" stroke-width="0.7"/>
<line x1="258.70" y1="70.25" x2="258.70" y2="73.30" stroke="#d3c792" stroke-width="0.8"/>
<line x1="257.10" y1="70.25" x2="260.30" y2="70.25" stroke="#d3c792" stroke-width="0.8"/>
<rect x="254.90" y="73.30" width="7.60" height="32.70" fill="#ede5bf" stroke="#d3c792" stroke-width="0.7"/>
<line x1="269.30" y1="56.40" x2="269.30" y2="68.61" stroke="#a3a3e6" stroke-width="0.8"/>
<line x1="267.70" y1="56.40" x2="270.90" y2="56.40" stroke="#a3a3e6" stroke-width="0.8"/>
<rect x="265.50" y="68.61" width="7.60" height="37.39" fill="#cbcbf8" stroke="#a3a3e6" stroke-width="0.7"/>
<line x1="279.70" y1="61.57" x2="279.70" y2="68.37" stroke="#eea5c6" stroke-width="0.8"/>
<line x1="278.10" y1="61.57" x2="281.30" y2="61.57" stroke="#eea5c6" stroke-width="0.8"/>
<rect x="275.90" y="68.37" width="7.60" height="37.63" fill="#fdcae2" stroke="#eea5c6" stroke-width="0.7"/>
<line x1="326.60" y1="78.00" x2="326.60" y2="83.63" stroke="#bdbdbd" stroke-width="0.8"/>
<line x1="325.00" y1="78.00" x2="328.20" y2="78.00" stroke="#bdbdbd" stroke-width="0.8"/>
<rect x="322.80" y="83.63" width="7.60" height="22.37" fill="#d9d9d9" stroke="#bdbdbd" stroke-width="0.7"/>
<line x1="337.10" y1="70.96" x2="337.10" y2="73.07" stroke="#d3c792" stroke-width="0.8"/>
<line x1="335.50" y1="70.96" x2="338.70" y2="70.96" stroke="#d3c792" stroke-width="0.8"/>
<rect x="333.30" y="73.07" width="7.60" height="32.93" fill="#ede5bf" stroke="#d3c792" stroke-width="0.7"/>
<line x1="347.80" y1="53.35" x2="347.80" y2="63.45" stroke="#a3a3e6" stroke-width="0.8"/>
<line x1="346.20" y1="53.35" x2="349.40" y2="53.35" stroke="#a3a3e6" stroke-width="0.8"/>
<rect x="344.00" y="63.45" width="7.60" height="42.55" fill="#cbcbf8" stroke="#a3a3e6" stroke-width="0.7"/>
<line x1="358.10" y1="49.13" x2="358.10" y2="59.69" stroke="#eea5c6" stroke-width="0.8"/>
<line x1="356.50" y1="49.13" x2="359.70" y2="49.13" stroke="#eea5c6" stroke-width="0.8"/>
<rect x="354.30" y="59.69" width="7.60" height="46.31" fill="#fdcae2" stroke="#eea5c6" stroke-width="0.7"/>
<line x1="379.00" y1="76.82" x2="379.00" y2="83.63" stroke="#bdbdbd" stroke-width="0.8"/>
<line x1="377.40" y1="76.82" x2="380.60" y2="76.82" stroke="#bdbdbd" stroke-width="0.8"/>
<rect x="375.20" y="83.63" width="7.60" height="22.37" fill="#d9d9d9" stroke="#bdbdbd" stroke-width="0.7"/>
<line x1="389.10" y1="69.08" x2="389.10" y2="74.01" stroke="#d3c792" stroke-width="0.8"/>
<line x1="387.50" y1="69.08" x2="390.70" y2="69.08" stroke="#d3c792" stroke-width="0.8"/>
<rect x="385.30" y="74.01" width="7.60" height="31.99" fill="#ede5bf" stroke="#d3c792" stroke-width="0.7"/>
<line x1="399.60" y1="63.21" x2="399.60" y2="71.89" stroke="#a3a3e6" stroke-width="0.8"/>
<line x1="398.00" y1="63.21" x2="401.20" y2="63.21" stroke="#a3a3e6" stroke-width="0.8"/>
<rect x="395.80" y="71.89" width="7.60" height="34.11" fill="#cbcbf8" stroke="#a3a3e6" stroke-width="0.7"/>
<line x1="409.90" y1="57.58" x2="409.90" y2="67.67" stroke="#eea5c6" stroke-width="0.8"/>
<line x1="408.30" y1="57.58" x2="411.50" y2="57.58" stroke="#eea5c6" stroke-width="0.8"/>
<rect x="406.10" y="67.67" width="7.60" height="38.33" fill="#fdcae2" stroke="#eea5c6" stroke-width="0.7"/>
<line x1="209.20" y1="106.00" x2="209.20" y2="108.00" stroke="#2a2a2a" stroke-width="1"/>
<line x1="262.60" y1="106.00" x2="262.60" y2="108.00" stroke="#2a2a2a" stroke-width="1"/>
<line x1="341.50" y1="106.00" x2="341.50" y2="108.00" stroke="#2a2a2a" stroke-width="1"/>
<line x1="392.00" y1="106.00" x2="392.00" y2="108.00" stroke="#2a2a2a" stroke-width="1"/>
<polyline points="196.50,71.00 196.50,25.50 216.40,25.50 216.40,34.30" fill="none" stroke="#3a3a3a" stroke-width="0.9"/>
<polyline points="205.40,42.40 205.40,34.30 227.50,34.30 227.50,42.40" fill="none" stroke="#3a3a3a" stroke-width="0.9"/>
<text x="206.50" y="25.39" font-size="8.6" text-anchor="middle" font-weight="bold" fill="#111" stroke="#111" style="stroke-width:0.45px;stroke-linejoin:round">**</text>
<text x="215.60" y="43.89" font-size="8.6" text-anchor="middle" font-weight="bold" fill="#111" stroke="#111" style="stroke-width:0.45px;stroke-linejoin:round">**</text>
<polyline points="249.40,71.00 249.40,35.90 268.80,35.90 268.80,43.10" fill="none" stroke="#3a3a3a" stroke-width="0.9"/>
<polyline points="256.80,49.00 256.80,43.10 280.20,43.10 280.20,49.00" fill="none" stroke="#3a3a3a" stroke-width="0.9"/>
<text x="258.80" y="35.39" font-size="8.6" text-anchor="middle" font-weight="bold" fill="#111" stroke="#111" style="stroke-width:0.45px;stroke-linejoin:round">**</text>
<text x="269.30" y="51.99" font-size="8.6" text-anchor="middle" font-weight="bold" fill="#111" stroke="#111" style="stroke-width:0.45px;stroke-linejoin:round">**</text>
<polyline points="326.90,70.30 326.90,25.30 346.70,25.30 346.70,34.40" fill="none" stroke="#3a3a3a" stroke-width="0.9"/>
<polyline points="335.40,42.60 335.40,34.40 357.70,34.40 357.70,42.60" fill="none" stroke="#3a3a3a" stroke-width="0.9"/>
<text x="337.50" y="25.49" font-size="8.6" text-anchor="middle" font-weight="bold" fill="#111" stroke="#111" style="stroke-width:0.45px;stroke-linejoin:round">**</text>
<text x="346.20" y="44.09" font-size="8.6" text-anchor="middle" font-weight="bold" fill="#111" stroke="#111" style="stroke-width:0.45px;stroke-linejoin:round">**</text>
<polyline points="379.70,71.00 379.70,35.80 399.40,35.80 399.40,43.10" fill="none" stroke="#3a3a3a" stroke-width="0.9"/>
<polyline points="387.20,49.00 387.20,43.10 410.50,43.10 410.50,49.00" fill="none" stroke="#3a3a3a" stroke-width="0.9"/>
<text x="389.30" y="35.49" font-size="8.6" text-anchor="middle" font-weight="bold" fill="#111" stroke="#111" style="stroke-width:0.45px;stroke-linejoin:round">**</text>
<text x="399.90" y="51.99" font-size="8.6" text-anchor="middle" font-weight="bold" fill="#111" stroke="#111" style="stroke-width:0.45px;stroke-linejoin:round">**</text>
<text x="209.20" y="116.90" font-size="7.3" text-anchor="middle" stroke="#1e1e1e">AP002754.2</text>
<text x="262.60" y="116.90" font-size="7.3" text-anchor="middle" stroke="#1e1e1e">FADS2</text>
<text x="341.50" y="116.90" font-size="7.3" text-anchor="middle" stroke="#1e1e1e">AP002754.2</text>
<text x="392.00" y="116.90" font-size="7.3" text-anchor="middle" stroke="#1e1e1e">FADS2</text>
<text x="239.20" y="127.90" font-size="7.3" text-anchor="middle" stroke="#1e1e1e">HCT116</text>
<text x="368.80" y="127.90" font-size="7.3" text-anchor="middle" stroke="#1e1e1e">LoVo</text>
<text transform="translate(162.90,65.00) rotate(-90)" font-size="7.6" text-anchor="middle" stroke="#1e1e1e">Relative gene expression</text>
<rect x="425.90" y="39.30" width="11.60" height="4.20" fill="#e4e4e4" stroke="#c6c6c6" stroke-width="0.8"/>
<text x="441.50" y="43.70" font-size="7.6" stroke="#1e1e1e">pcDNA-Control</text>
<rect x="425.90" y="56.40" width="11.60" height="4.20" fill="#efebcf" stroke="#d8d2a2" stroke-width="0.8"/>
<text x="441.50" y="60.80" font-size="7.6" stroke="#1e1e1e">AP002754.2 0.5 µg</text>
<rect x="425.90" y="73.10" width="11.60" height="4.20" fill="#dcdcf8" stroke="#b4b4ea" stroke-width="0.8"/>
<text x="441.50" y="77.50" font-size="7.6" stroke="#1e1e1e">AP002754.2 1.0 µg</text>
<rect x="425.90" y="89.70" width="11.60" height="4.20" fill="#fcdcea" stroke="#efb4ce" stroke-width="0.8"/>
<text x="441.50" y="94.10" font-size="7.6" stroke="#1e1e1e">AP002754.2 2.0 µg</text>
<line x1="187.00" y1="158.30" x2="187.00" y2="240.90" stroke="#2a2a2a" stroke-width="1.1"/>
<line x1="187.00" y1="240.40" x2="287.00" y2="240.40" stroke="#2a2a2a" stroke-width="1.1"/>
<line x1="185.00" y1="158.80" x2="187.00" y2="158.80" stroke="#2a2a2a" stroke-width="1"/>
<text x="182.80" y="161.30" font-size="7.0" text-anchor="end" stroke="#1e1e1e">1.50</text>
<line x1="185.00" y1="186.00" x2="187.00" y2="186.00" stroke="#2a2a2a" stroke-width="1"/>
<text x="182.80" y="188.50" font-size="7.0" text-anchor="end" stroke="#1e1e1e">1.00</text>
<line x1="185.00" y1="213.20" x2="187.00" y2="213.20" stroke="#2a2a2a" stroke-width="1"/>
<text x="182.80" y="215.70" font-size="7.0" text-anchor="end" stroke="#1e1e1e">0.50</text>
<line x1="185.00" y1="240.40" x2="187.00" y2="240.40" stroke="#2a2a2a" stroke-width="1"/>
<text x="182.80" y="242.90" font-size="7.0" text-anchor="end" stroke="#1e1e1e">0.00</text>
<line x1="317.50" y1="158.30" x2="317.50" y2="240.90" stroke="#2a2a2a" stroke-width="1.1"/>
<line x1="317.50" y1="240.40" x2="416.70" y2="240.40" stroke="#2a2a2a" stroke-width="1.1"/>
<line x1="315.50" y1="158.80" x2="317.50" y2="158.80" stroke="#2a2a2a" stroke-width="1"/>
<text x="313.30" y="161.30" font-size="7.0" text-anchor="end" stroke="#1e1e1e">1.50</text>
<line x1="315.50" y1="186.00" x2="317.50" y2="186.00" stroke="#2a2a2a" stroke-width="1"/>
<text x="313.30" y="188.50" font-size="7.0" text-anchor="end" stroke="#1e1e1e">1.00</text>
<line x1="315.50" y1="213.20" x2="317.50" y2="213.20" stroke="#2a2a2a" stroke-width="1"/>
<text x="313.30" y="215.70" font-size="7.0" text-anchor="end" stroke="#1e1e1e">0.50</text>
<line x1="315.50" y1="240.40" x2="317.50" y2="240.40" stroke="#2a2a2a" stroke-width="1"/>
<text x="313.30" y="242.90" font-size="7.0" text-anchor="end" stroke="#1e1e1e">0.00</text>
<line x1="195.70" y1="176.21" x2="195.70" y2="186.00" stroke="#bdbdbd" stroke-width="0.8"/>
<line x1="194.10" y1="176.21" x2="197.30" y2="176.21" stroke="#bdbdbd" stroke-width="0.8"/>
<rect x="191.90" y="186.00" width="7.60" height="54.40" fill="#d9d9d9" stroke="#bdbdbd" stroke-width="0.7"/>
<line x1="206.00" y1="183.82" x2="206.00" y2="195.25" stroke="#d3c792" stroke-width="0.8"/>
<line x1="204.40" y1="183.82" x2="207.60" y2="183.82" stroke="#d3c792" stroke-width="0.8"/>
<rect x="202.20" y="195.25" width="7.60" height="45.15" fill="#ede5bf" stroke="#d3c792" stroke-width="0.7"/>
<line x1="216.60" y1="194.98" x2="216.60" y2="199.87" stroke="#a3a3e6" stroke-width="0.8"/>
<line x1="215.00" y1="194.98" x2="218.20" y2="194.98" stroke="#a3a3e6" stroke-width="0.8"/>
<rect x="212.80" y="199.87" width="7.60" height="40.53" fill="#cbcbf8" stroke="#a3a3e6" stroke-width="0.7"/>
<line x1="227.20" y1="204.50" x2="227.20" y2="210.75" stroke="#eea5c6" stroke-width="0.8"/>
<line x1="225.60" y1="204.50" x2="228.80" y2="204.50" stroke="#eea5c6" stroke-width="0.8"/>
<rect x="223.40" y="210.75" width="7.60" height="29.65" fill="#fdcae2" stroke="#eea5c6" stroke-width="0.7"/>
<line x1="247.60" y1="177.30" x2="247.60" y2="186.00" stroke="#bdbdbd" stroke-width="0.8"/>
<line x1="246.00" y1="177.30" x2="249.20" y2="177.30" stroke="#bdbdbd" stroke-width="0.8"/>
<rect x="243.80" y="186.00" width="7.60" height="54.40" fill="#d9d9d9" stroke="#bdbdbd" stroke-width="0.7"/>
<line x1="258.10" y1="195.79" x2="258.10" y2="199.33" stroke="#d3c792" stroke-width="0.8"/>
<line x1="256.50" y1="195.79" x2="259.70" y2="195.79" stroke="#d3c792" stroke-width="0.8"/>
<rect x="254.30" y="199.33" width="7.60" height="41.07" fill="#ede5bf" stroke="#d3c792" stroke-width="0.7"/>
<line x1="268.50" y1="190.08" x2="268.50" y2="202.32" stroke="#a3a3e6" stroke-width="0.8"/>
<line x1="266.90" y1="190.08" x2="270.10" y2="190.08" stroke="#a3a3e6" stroke-width="0.8"/>
<rect x="264.70" y="202.32" width="7.60" height="38.08" fill="#cbcbf8" stroke="#a3a3e6" stroke-width="0.7"/>
<line x1="279.10" y1="197.97" x2="279.10" y2="206.67" stroke="#eea5c6" stroke-width="0.8"/>
<line x1="277.50" y1="197.97" x2="280.70" y2="197.97" stroke="#eea5c6" stroke-width="0.8"/>
<rect x="275.30" y="206.67" width="7.60" height="33.73" fill="#fdcae2" stroke="#eea5c6" stroke-width="0.7"/>
<line x1="327.40" y1="175.66" x2="327.40" y2="186.00" stroke="#bdbdbd" stroke-width="0.8"/>
<line x1="325.80" y1="175.66" x2="329.00" y2="175.66" stroke="#bdbdbd" stroke-width="0.8"/>
<rect x="323.60" y="186.00" width="7.60" height="54.40" fill="#d9d9d9" stroke="#bdbdbd" stroke-width="0.7"/>
<line x1="337.60" y1="195.52" x2="337.60" y2="199.33" stroke="#d3c792" stroke-width="0.8"/>
<line x1="336.00" y1="195.52" x2="339.20" y2="195.52" stroke="#d3c792" stroke-width="0.8"/>
<rect x="333.80" y="199.33" width="7.60" height="41.07" fill="#ede5bf" stroke="#d3c792" stroke-width="0.7"/>
<line x1="348.00" y1="191.44" x2="348.00" y2="200.96" stroke="#a3a3e6" stroke-width="0.8"/>
<line x1="346.40" y1="191.44" x2="349.60" y2="191.44" stroke="#a3a3e6" stroke-width="0.8"/>
<rect x="344.20" y="200.96" width="7.60" height="39.44" fill="#cbcbf8" stroke="#a3a3e6" stroke-width="0.7"/>
<line x1="358.30" y1="200.42" x2="358.30" y2="208.30" stroke="#eea5c6" stroke-width="0.8"/>
<line x1="356.70" y1="200.42" x2="359.90" y2="200.42" stroke="#eea5c6" stroke-width="0.8"/>
<rect x="354.50" y="208.30" width="7.60" height="32.10" fill="#fdcae2" stroke="#eea5c6" stroke-width="0.7"/>
<line x1="378.80" y1="182.74" x2="378.80" y2="186.00" stroke="#bdbdbd" stroke-width="0.8"/>
<line x1="377.20" y1="182.74" x2="380.40" y2="182.74" stroke="#bdbdbd" stroke-width="0.8"/>
<rect x="375.00" y="186.00" width="7.60" height="54.40" fill="#d9d9d9" stroke="#bdbdbd" stroke-width="0.7"/>
<line x1="389.20" y1="193.34" x2="389.20" y2="199.60" stroke="#d3c792" stroke-width="0.8"/>
<line x1="387.60" y1="193.34" x2="390.80" y2="193.34" stroke="#d3c792" stroke-width="0.8"/>
<rect x="385.40" y="199.60" width="7.60" height="40.80" fill="#ede5bf" stroke="#d3c792" stroke-width="0.7"/>
<line x1="399.50" y1="197.42" x2="399.50" y2="205.04" stroke="#a3a3e6" stroke-width="0.8"/>
<line x1="397.90" y1="197.42" x2="401.10" y2="197.42" stroke="#a3a3e6" stroke-width="0.8"/>
<rect x="395.70" y="205.04" width="7.60" height="35.36" fill="#cbcbf8" stroke="#a3a3e6" stroke-width="0.7"/>
<line x1="410.00" y1="196.88" x2="410.00" y2="208.85" stroke="#eea5c6" stroke-width="0.8"/>
<line x1="408.40" y1="196.88" x2="411.60" y2="196.88" stroke="#eea5c6" stroke-width="0.8"/>
<rect x="406.20" y="208.85" width="7.60" height="31.55" fill="#fdcae2" stroke="#eea5c6" stroke-width="0.7"/>
<line x1="208.60" y1="240.40" x2="208.60" y2="242.40" stroke="#2a2a2a" stroke-width="1"/>
<line x1="263.50" y1="240.40" x2="263.50" y2="242.40" stroke="#2a2a2a" stroke-width="1"/>
<line x1="340.00" y1="240.40" x2="340.00" y2="242.40" stroke="#2a2a2a" stroke-width="1"/>
<line x1="393.30" y1="240.40" x2="393.30" y2="242.40" stroke="#2a2a2a" stroke-width="1"/>
<polyline points="196.00,165.80 196.00,159.50 216.70,159.50 216.70,169.60" fill="none" stroke="#3a3a3a" stroke-width="0.9"/>
<polyline points="205.40,175.40 205.40,169.60 227.80,169.60 227.80,188.90" fill="none" stroke="#3a3a3a" stroke-width="0.9"/>
<text x="206.80" y="159.59" font-size="8.6" text-anchor="middle" font-weight="bold" fill="#111" stroke="#111" style="stroke-width:0.45px;stroke-linejoin:round">**</text>
<text x="216.40" y="178.19" font-size="8.6" text-anchor="middle" font-weight="bold" fill="#111" stroke="#111" style="stroke-width:0.45px;stroke-linejoin:round">**</text>
<polyline points="246.80,165.80 246.80,159.50 268.20,159.50 268.20,170.30" fill="none" stroke="#3a3a3a" stroke-width="0.9"/>
<polyline points="256.90,175.40 256.90,170.30 279.30,170.30 279.30,188.90" fill="none" stroke="#3a3a3a" stroke-width="0.9"/>
<text x="257.90" y="159.39" font-size="8.6" text-anchor="middle" font-weight="bold" fill="#111" stroke="#111" style="stroke-width:0.45px;stroke-linejoin:round">**</text>
<text x="268.70" y="180.29" font-size="8.6" text-anchor="middle" font-weight="bold" fill="#111" stroke="#111" style="stroke-width:0.45px;stroke-linejoin:round">**</text>
<polyline points="326.80,166.30 326.80,159.50 348.00,159.50 348.00,169.60" fill="none" stroke="#3a3a3a" stroke-width="0.9"/>
<polyline points="336.90,175.40 336.90,169.60 359.00,169.60 359.00,188.90" fill="none" stroke="#3a3a3a" stroke-width="0.9"/>
<text x="338.30" y="160.59" font-size="8.6" text-anchor="middle" font-weight="bold" fill="#111" stroke="#111" style="stroke-width:0.45px;stroke-linejoin:round">**</text>
<text x="348.00" y="179.09" font-size="8.6" text-anchor="middle" font-weight="bold" fill="#111" stroke="#111" style="stroke-width:0.45px;stroke-linejoin:round">**</text>
<polyline points="378.30,166.30 378.30,159.70 399.40,159.70 399.40,170.30" fill="none" stroke="#3a3a3a" stroke-width="0.9"/>
<polyline points="387.90,175.40 387.90,170.30 410.50,170.30 410.50,189.20" fill="none" stroke="#3a3a3a" stroke-width="0.9"/>
<text x="389.10" y="160.09" font-size="8.6" text-anchor="middle" font-weight="bold" fill="#111" stroke="#111" style="stroke-width:0.45px;stroke-linejoin:round">**</text>
<text x="399.90" y="180.79" font-size="8.6" text-anchor="middle" font-weight="bold" fill="#111" stroke="#111" style="stroke-width:0.45px;stroke-linejoin:round">**</text>
<text x="208.60" y="250.80" font-size="7.3" text-anchor="middle" stroke="#1e1e1e">AP002754.2</text>
<text x="263.50" y="250.80" font-size="7.3" text-anchor="middle" stroke="#1e1e1e">FADS2</text>
<text x="340.00" y="250.80" font-size="7.3" text-anchor="middle" stroke="#1e1e1e">AP002754.2</text>
<text x="393.30" y="250.80" font-size="7.3" text-anchor="middle" stroke="#1e1e1e">FADS2</text>
<text x="239.00" y="262.20" font-size="7.3" text-anchor="middle" stroke="#1e1e1e">HCT116</text>
<text x="369.50" y="262.20" font-size="7.3" text-anchor="middle" stroke="#1e1e1e">LoVo</text>
<text transform="translate(162.90,200.50) rotate(-90)" font-size="7.6" text-anchor="middle" stroke="#1e1e1e">Relative gene expression</text>
<rect x="425.90" y="171.70" width="11.60" height="4.20" fill="#e4e4e4" stroke="#c6c6c6" stroke-width="0.8"/>
<text x="442.10" y="176.10" font-size="7.6" stroke="#1e1e1e">siControl</text>
<rect x="425.90" y="188.70" width="11.60" height="4.20" fill="#efebcf" stroke="#d8d2a2" stroke-width="0.8"/>
<text x="442.10" y="193.10" font-size="7.6" stroke="#1e1e1e">siAP002754.2 20 pmol</text>
<rect x="425.90" y="205.50" width="11.60" height="4.20" fill="#dcdcf8" stroke="#b4b4ea" stroke-width="0.8"/>
<text x="442.10" y="209.90" font-size="7.6" stroke="#1e1e1e">siAP002754.2 40 pmol</text>
<rect x="425.90" y="222.50" width="11.60" height="4.20" fill="#fcdcea" stroke="#efb4ce" stroke-width="0.8"/>
<text x="442.10" y="226.90" font-size="7.6" stroke="#1e1e1e">siAP002754.2 80 pmol</text>
<line x1="39.90" y1="378.90" x2="75.30" y2="321.47" stroke="#666666" stroke-width="0.62" stroke-dasharray="1.6 0.8"/>
<line x1="39.90" y1="332.25" x2="75.30" y2="336.89" stroke="#666666" stroke-width="0.62" stroke-dasharray="1.6 0.8"/>
<line x1="39.90" y1="368.89" x2="75.30" y2="311.38" stroke="#666666" stroke-width="0.62" stroke-dasharray="1.6 0.8"/>
<line x1="39.90" y1="368.56" x2="75.30" y2="373.99" stroke="#666666" stroke-width="0.62" stroke-dasharray="1.6 0.8"/>
<line x1="39.90" y1="368.99" x2="75.30" y2="330.45" stroke="#666666" stroke-width="0.62" stroke-dasharray="1.6 0.8"/>
<line x1="39.90" y1="333.60" x2="75.30" y2="311.40" stroke="#666666" stroke-width="0.62" stroke-dasharray="1.6 0.8"/>
<line x1="39.90" y1="374.75" x2="75.30" y2="354.73" stroke="#666666" stroke-width="0.62" stroke-dasharray="1.6 0.8"/>
<line x1="39.90" y1="356.90" x2="75.30" y2="351.28" stroke="#666666" stroke-width="0.62" stroke-dasharray="1.6 0.8"/>
<line x1="39.90" y1="363.69" x2="75.30" y2="354.20" stroke="#666666" stroke-width="0.62" stroke-dasharray="1.6 0.8"/>
<line x1="39.90" y1="369.18" x2="75.30" y2="361.21" stroke="#666666" stroke-width="0.62" stroke-dasharray="1.6 0.8"/>
<line x1="39.90" y1="358.83" x2="75.30" y2="342.61" stroke="#666666" stroke-width="0.62" stroke-dasharray="1.6 0.8"/>
<line x1="39.90" y1="340.49" x2="75.30" y2="315.91" stroke="#666666" stroke-width="0.62" stroke-dasharray="1.6 0.8"/>
<line x1="39.90" y1="347.17" x2="75.30" y2="343.01" stroke="#666666" stroke-width="0.62" stroke-dasharray="1.6 0.8"/>
<line x1="39.90" y1="360.49" x2="75.30" y2="366.11" stroke="#666666" stroke-width="0.62" stroke-dasharray="1.6 0.8"/>
<line x1="39.90" y1="361.21" x2="75.30" y2="354.96" stroke="#666666" stroke-width="0.62" stroke-dasharray="1.6 0.8"/>
<line x1="39.90" y1="347.70" x2="75.30" y2="322.88" stroke="#666666" stroke-width="0.62" stroke-dasharray="1.6 0.8"/>
<line x1="39.90" y1="378.59" x2="75.30" y2="356.44" stroke="#666666" stroke-width="0.62" stroke-dasharray="1.6 0.8"/>
<line x1="39.90" y1="362.78" x2="75.30" y2="323.48" stroke="#666666" stroke-width="0.62" stroke-dasharray="1.6 0.8"/>
<line x1="39.90" y1="378.46" x2="75.30" y2="357.16" stroke="#666666" stroke-width="0.62" stroke-dasharray="1.6 0.8"/>
<line x1="39.90" y1="352.57" x2="75.30" y2="332.11" stroke="#666666" stroke-width="0.62" stroke-dasharray="1.6 0.8"/>
<line x1="39.90" y1="370.46" x2="75.30" y2="349.11" stroke="#666666" stroke-width="0.62" stroke-dasharray="1.6 0.8"/>
<line x1="39.90" y1="375.83" x2="75.30" y2="345.44" stroke="#666666" stroke-width="0.62" stroke-dasharray="1.6 0.8"/>
<line x1="39.90" y1="344.93" x2="75.30" y2="339.29" stroke="#666666" stroke-width="0.62" stroke-dasharray="1.6 0.8"/>
<line x1="39.90" y1="356.73" x2="75.30" y2="323.42" stroke="#666666" stroke-width="0.62" stroke-dasharray="1.6 0.8"/>
<line x1="39.90" y1="355.65" x2="75.30" y2="328.94" stroke="#666666" stroke-width="0.62" stroke-dasharray="1.6 0.8"/>
<line x1="39.90" y1="338.32" x2="75.30" y2="328.10" stroke="#666666" stroke-width="0.62" stroke-dasharray="1.6 0.8"/>
<line x1="39.90" y1="346.66" x2="75.30" y2="328.85" stroke="#666666" stroke-width="0.62" stroke-dasharray="1.6 0.8"/>
<line x1="39.90" y1="374.98" x2="75.30" y2="357.91" stroke="#666666" stroke-width="0.62" stroke-dasharray="1.6 0.8"/>
<line x1="39.90" y1="377.41" x2="75.30" y2="332.09" stroke="#666666" stroke-width="0.62" stroke-dasharray="1.6 0.8"/>
<line x1="39.90" y1="338.05" x2="75.30" y2="316.05" stroke="#666666" stroke-width="0.62" stroke-dasharray="1.6 0.8"/>
<line x1="39.90" y1="345.98" x2="75.30" y2="333.33" stroke="#666666" stroke-width="0.62" stroke-dasharray="1.6 0.8"/>
<line x1="39.90" y1="342.77" x2="75.30" y2="315.65" stroke="#666666" stroke-width="0.62" stroke-dasharray="1.6 0.8"/>
<line x1="39.90" y1="372.35" x2="75.30" y2="343.58" stroke="#666666" stroke-width="0.62" stroke-dasharray="1.6 0.8"/>
<line x1="39.90" y1="344.46" x2="75.30" y2="314.59" stroke="#666666" stroke-width="0.62" stroke-dasharray="1.6 0.8"/>
<line x1="39.90" y1="337.40" x2="75.30" y2="328.18" stroke="#666666" stroke-width="0.62" stroke-dasharray="1.6 0.8"/>
<line x1="39.90" y1="372.39" x2="75.30" y2="326.94" stroke="#666666" stroke-width="0.62" stroke-dasharray="1.6 0.8"/>
<line x1="39.90" y1="363.15" x2="75.30" y2="352.21" stroke="#666666" stroke-width="0.62" stroke-dasharray="1.6 0.8"/>
<line x1="39.90" y1="375.75" x2="75.30" y2="363.53" stroke="#666666" stroke-width="0.62" stroke-dasharray="1.6 0.8"/>
<line x1="39.90" y1="362.55" x2="75.30" y2="333.93" stroke="#666666" stroke-width="0.62" stroke-dasharray="1.6 0.8"/>
<line x1="39.90" y1="340.44" x2="75.30" y2="318.17" stroke="#666666" stroke-width="0.62" stroke-dasharray="1.6 0.8"/>
<line x1="39.90" y1="374.67" x2="75.30" y2="346.80" stroke="#666666" stroke-width="0.62" stroke-dasharray="1.6 0.8"/>
<line x1="39.90" y1="369.36" x2="75.30" y2="354.88" stroke="#666666" stroke-width="0.62" stroke-dasharray="1.6 0.8"/>
<line x1="39.90" y1="373.66" x2="75.30" y2="326.42" stroke="#666666" stroke-width="0.62" stroke-dasharray="1.6 0.8"/>
<line x1="39.90" y1="364.01" x2="75.30" y2="349.05" stroke="#666666" stroke-width="0.62" stroke-dasharray="1.6 0.8"/>
<line x1="39.90" y1="374.44" x2="75.30" y2="372.14" stroke="#666666" stroke-width="0.62" stroke-dasharray="1.6 0.8"/>
<circle cx="75.30" cy="321.47" r="2.55" fill="#f8d4d4" stroke="#e79c9c" stroke-width="0.85" fill-opacity="0.7"/>
<circle cx="75.30" cy="336.89" r="2.55" fill="#f8d4d4" stroke="#e79c9c" stroke-width="0.85" fill-opacity="0.7"/>
<circle cx="75.30" cy="311.38" r="2.55" fill="#f8d4d4" stroke="#e79c9c" stroke-width="0.85" fill-opacity="0.7"/>
<circle cx="75.30" cy="373.99" r="2.55" fill="#f8d4d4" stroke="#e79c9c" stroke-width="0.85" fill-opacity="0.7"/>
<circle cx="75.30" cy="330.45" r="2.55" fill="#f8d4d4" stroke="#e79c9c" stroke-width="0.85" fill-opacity="0.7"/>
<circle cx="75.30" cy="311.40" r="2.55" fill="#f8d4d4" stroke="#e79c9c" stroke-width="0.85" fill-opacity="0.7"/>
<circle cx="75.30" cy="354.73" r="2.55" fill="#f8d4d4" stroke="#e79c9c" stroke-width="0.85" fill-opacity="0.7"/>
<circle cx="75.30" cy="351.28" r="2.55" fill="#f8d4d4" stroke="#e79c9c" stroke-width="0.85" fill-opacity="0.7"/>
<circle cx="75.30" cy="354.20" r="2.55" fill="#f8d4d4" stroke="#e79c9c" stroke-width="0.85" fill-opacity="0.7"/>
<circle cx="75.30" cy="361.21" r="2.55" fill="#f8d4d4" stroke="#e79c9c" stroke-width="0.85" fill-opacity="0.7"/>
<circle cx="75.30" cy="342.61" r="2.55" fill="#f8d4d4" stroke="#e79c9c" stroke-width="0.85" fill-opacity="0.7"/>
<circle cx="75.30" cy="315.91" r="2.55" fill="#f8d4d4" stroke="#e79c9c" stroke-width="0.85" fill-opacity="0.7"/>
<circle cx="75.30" cy="343.01" r="2.55" fill="#f8d4d4" stroke="#e79c9c" stroke-width="0.85" fill-opacity="0.7"/>
<circle cx="75.30" cy="366.11" r="2.55" fill="#f8d4d4" stroke="#e79c9c" stroke-width="0.85" fill-opacity="0.7"/>
<circle cx="75.30" cy="354.96" r="2.55" fill="#f8d4d4" stroke="#e79c9c" stroke-width="0.85" fill-opacity="0.7"/>
<circle cx="75.30" cy="322.88" r="2.55" fill="#f8d4d4" stroke="#e79c9c" stroke-width="0.85" fill-opacity="0.7"/>
<circle cx="75.30" cy="356.44" r="2.55" fill="#f8d4d4" stroke="#e79c9c" stroke-width="0.85" fill-opacity="0.7"/>
<circle cx="75.30" cy="323.48" r="2.55" fill="#f8d4d4" stroke="#e79c9c" stroke-width="0.85" fill-opacity="0.7"/>
<circle cx="75.30" cy="357.16" r="2.55" fill="#f8d4d4" stroke="#e79c9c" stroke-width="0.85" fill-opacity="0.7"/>
<circle cx="75.30" cy="332.11" r="2.55" fill="#f8d4d4" stroke="#e79c9c" stroke-width="0.85" fill-opacity="0.7"/>
<circle cx="75.30" cy="349.11" r="2.55" fill="#f8d4d4" stroke="#e79c9c" stroke-width="0.85" fill-opacity="0.7"/>
<circle cx="75.30" cy="345.44" r="2.55" fill="#f8d4d4" stroke="#e79c9c" stroke-width="0.85" fill-opacity="0.7"/>
<circle cx="75.30" cy="339.29" r="2.55" fill="#f8d4d4" stroke="#e79c9c" stroke-width="0.85" fill-opacity="0.7"/>
<circle cx="75.30" cy="323.42" r="2.55" fill="#f8d4d4" stroke="#e79c9c" stroke-width="0.85" fill-opacity="0.7"/>
<circle cx="75.30" cy="328.94" r="2.55" fill="#f8d4d4" stroke="#e79c9c" stroke-width="0.85" fill-opacity="0.7"/>
<circle cx="75.30" cy="328.10" r="2.55" fill="#f8d4d4" stroke="#e79c9c" stroke-width="0.85" fill-opacity="0.7"/>
<circle cx="75.30" cy="328.85" r="2.55" fill="#f8d4d4" stroke="#e79c9c" stroke-width="0.85" fill-opacity="0.7"/>
<circle cx="75.30" cy="357.91" r="2.55" fill="#f8d4d4" stroke="#e79c9c" stroke-width="0.85" fill-opacity="0.7"/>
<circle cx="75.30" cy="332.09" r="2.55" fill="#f8d4d4" stroke="#e79c9c" stroke-width="0.85" fill-opacity="0.7"/>
<circle cx="75.30" cy="316.05" r="2.55" fill="#f8d4d4" stroke="#e79c9c" stroke-width="0.85" fill-opacity="0.7"/>
<circle cx="75.30" cy="333.33" r="2.55" fill="#f8d4d4" stroke="#e79c9c" stroke-width="0.85" fill-opacity="0.7"/>
<circle cx="75.30" cy="315.65" r="2.55" fill="#f8d4d4" stroke="#e79c9c" stroke-width="0.85" fill-opacity="0.7"/>
<circle cx="75.30" cy="343.58" r="2.55" fill="#f8d4d4" stroke="#e79c9c" stroke-width="0.85" fill-opacity="0.7"/>
<circle cx="75.30" cy="314.59" r="2.55" fill="#f8d4d4" stroke="#e79c9c" stroke-width="0.85" fill-opacity="0.7"/>
<circle cx="75.30" cy="328.18" r="2.55" fill="#f8d4d4" stroke="#e79c9c" stroke-width="0.85" fill-opacity="0.7"/>
<circle cx="75.30" cy="326.94" r="2.55" fill="#f8d4d4" stroke="#e79c9c" stroke-width="0.85" fill-opacity="0.7"/>
<circle cx="75.30" cy="352.21" r="2.55" fill="#f8d4d4" stroke="#e79c9c" stroke-width="0.85" fill-opacity="0.7"/>
<circle cx="75.30" cy="363.53" r="2.55" fill="#f8d4d4" stroke="#e79c9c" stroke-width="0.85" fill-opacity="0.7"/>
<circle cx="75.30" cy="333.93" r="2.55" fill="#f8d4d4" stroke="#e79c9c" stroke-width="0.85" fill-opacity="0.7"/>
<circle cx="75.30" cy="318.17" r="2.55" fill="#f8d4d4" stroke="#e79c9c" stroke-width="0.85" fill-opacity="0.7"/>
<circle cx="75.30" cy="346.80" r="2.55" fill="#f8d4d4" stroke="#e79c9c" stroke-width="0.85" fill-opacity="0.7"/>
<circle cx="75.30" cy="354.88" r="2.55" fill="#f8d4d4" stroke="#e79c9c" stroke-width="0.85" fill-opacity="0.7"/>
<circle cx="75.30" cy="326.42" r="2.55" fill="#f8d4d4" stroke="#e79c9c" stroke-width="0.85" fill-opacity="0.7"/>
<circle cx="75.30" cy="349.05" r="2.55" fill="#f8d4d4" stroke="#e79c9c" stroke-width="0.85" fill-opacity="0.7"/>
<circle cx="75.30" cy="372.14" r="2.55" fill="#f8d4d4" stroke="#e79c9c" stroke-width="0.85" fill-opacity="0.7"/>
<circle cx="39.90" cy="378.90" r="2.55" fill="#babaf4" stroke="#9898ea" stroke-width="0.85" fill-opacity="0.7"/>
<circle cx="39.90" cy="332.25" r="2.55" fill="#babaf4" stroke="#9898ea" stroke-width="0.85" fill-opacity="0.7"/>
<circle cx="39.90" cy="368.89" r="2.55" fill="#babaf4" stroke="#9898ea" stroke-width="0.85" fill-opacity="0.7"/>
<circle cx="39.90" cy="368.56" r="2.55" fill="#babaf4" stroke="#9898ea" stroke-width="0.85" fill-opacity="0.7"/>
<circle cx="39.90" cy="368.99" r="2.55" fill="#babaf4" stroke="#9898ea" stroke-width="0.85" fill-opacity="0.7"/>
<circle cx="39.90" cy="333.60" r="2.55" fill="#babaf4" stroke="#9898ea" stroke-width="0.85" fill-opacity="0.7"/>
<circle cx="39.90" cy="374.75" r="2.55" fill="#babaf4" stroke="#9898ea" stroke-width="0.85" fill-opacity="0.7"/>
<circle cx="39.90" cy="356.90" r="2.55" fill="#babaf4" stroke="#9898ea" stroke-width="0.85" fill-opacity="0.7"/>
<circle cx="39.90" cy="363.69" r="2.55" fill="#babaf4" stroke="#9898ea" stroke-width="0.85" fill-opacity="0.7"/>
<circle cx="39.90" cy="369.18" r="2.55" fill="#babaf4" stroke="#9898ea" stroke-width="0.85" fill-opacity="0.7"/>
<circle cx="39.90" cy="358.83" r="2.55" fill="#babaf4" stroke="#9898ea" stroke-width="0.85" fill-opacity="0.7"/>
<circle cx="39.90" cy="340.49" r="2.55" fill="#babaf4" stroke="#9898ea" stroke-width="0.85" fill-opacity="0.7"/>
<circle cx="39.90" cy="347.17" r="2.55" fill="#babaf4" stroke="#9898ea" stroke-width="0.85" fill-opacity="0.7"/>
<circle cx="39.90" cy="360.49" r="2.55" fill="#babaf4" stroke="#9898ea" stroke-width="0.85" fill-opacity="0.7"/>
<circle cx="39.90" cy="361.21" r="2.55" fill="#babaf4" stroke="#9898ea" stroke-width="0.85" fill-opacity="0.7"/>
<circle cx="39.90" cy="347.70" r="2.55" fill="#babaf4" stroke="#9898ea" stroke-width="0.85" fill-opacity="0.7"/>
<circle cx="39.90" cy="378.59" r="2.55" fill="#babaf4" stroke="#9898ea" stroke-width="0.85" fill-opacity="0.7"/>
<circle cx="39.90" cy="362.78" r="2.55" fill="#babaf4" stroke="#9898ea" stroke-width="0.85" fill-opacity="0.7"/>
<circle cx="39.90" cy="378.46" r="2.55" fill="#babaf4" stroke="#9898ea" stroke-width="0.85" fill-opacity="0.7"/>
<circle cx="39.90" cy="352.57" r="2.55" fill="#babaf4" stroke="#9898ea" stroke-width="0.85" fill-opacity="0.7"/>
<circle cx="39.90" cy="370.46" r="2.55" fill="#babaf4" stroke="#9898ea" stroke-width="0.85" fill-opacity="0.7"/>
<circle cx="39.90" cy="375.83" r="2.55" fill="#babaf4" stroke="#9898ea" stroke-width="0.85" fill-opacity="0.7"/>
<circle cx="39.90" cy="344.93" r="2.55" fill="#babaf4" stroke="#9898ea" stroke-width="0.85" fill-opacity="0.7"/>
<circle cx="39.90" cy="356.73" r="2.55" fill="#babaf4" stroke="#9898ea" stroke-width="0.85" fill-opacity="0.7"/>
<circle cx="39.90" cy="355.65" r="2.55" fill="#babaf4" stroke="#9898ea" stroke-width="0.85" fill-opacity="0.7"/>
<circle cx="39.90" cy="338.32" r="2.55" fill="#babaf4" stroke="#9898ea" stroke-width="0.85" fill-opacity="0.7"/>
<circle cx="39.90" cy="346.66" r="2.55" fill="#babaf4" stroke="#9898ea" stroke-width="0.85" fill-opacity="0.7"/>
<circle cx="39.90" cy="374.98" r="2.55" fill="#babaf4" stroke="#9898ea" stroke-width="0.85" fill-opacity="0.7"/>
<circle cx="39.90" cy="377.41" r="2.55" fill="#babaf4" stroke="#9898ea" stroke-width="0.85" fill-opacity="0.7"/>
<circle cx="39.90" cy="338.05" r="2.55" fill="#babaf4" stroke="#9898ea" stroke-width="0.85" fill-opacity="0.7"/>
<circle cx="39.90" cy="345.98" r="2.55" fill="#babaf4" stroke="#9898ea" stroke-width="0.85" fill-opacity="0.7"/>
<circle cx="39.90" cy="342.77" r="2.55" fill="#babaf4" stroke="#9898ea" stroke-width="0.85" fill-opacity="0.7"/>
<circle cx="39.90" cy="372.35" r="2.55" fill="#babaf4" stroke="#9898ea" stroke-width="0.85" fill-opacity="0.7"/>
<circle cx="39.90" cy="344.46" r="2.55" fill="#babaf4" stroke="#9898ea" stroke-width="0.85" fill-opacity="0.7"/>
<circle cx="39.90" cy="337.40" r="2.55" fill="#babaf4" stroke="#9898ea" stroke-width="0.85" fill-opacity="0.7"/>
<circle cx="39.90" cy="372.39" r="2.55" fill="#babaf4" stroke="#9898ea" stroke-width="0.85" fill-opacity="0.7"/>
<circle cx="39.90" cy="363.15" r="2.55" fill="#babaf4" stroke="#9898ea" stroke-width="0.85" fill-opacity="0.7"/>
<circle cx="39.90" cy="375.75" r="2.55" fill="#babaf4" stroke="#9898ea" stroke-width="0.85" fill-opacity="0.7"/>
<circle cx="39.90" cy="362.55" r="2.55" fill="#babaf4" stroke="#9898ea" stroke-width="0.85" fill-opacity="0.7"/>
<circle cx="39.90" cy="340.44" r="2.55" fill="#babaf4" stroke="#9898ea" stroke-width="0.85" fill-opacity="0.7"/>
<circle cx="39.90" cy="374.67" r="2.55" fill="#babaf4" stroke="#9898ea" stroke-width="0.85" fill-opacity="0.7"/>
<circle cx="39.90" cy="369.36" r="2.55" fill="#babaf4" stroke="#9898ea" stroke-width="0.85" fill-opacity="0.7"/>
<circle cx="39.90" cy="373.66" r="2.55" fill="#babaf4" stroke="#9898ea" stroke-width="0.85" fill-opacity="0.7"/>
<circle cx="39.90" cy="364.01" r="2.55" fill="#babaf4" stroke="#9898ea" stroke-width="0.85" fill-opacity="0.7"/>
<circle cx="39.90" cy="374.44" r="2.55" fill="#babaf4" stroke="#9898ea" stroke-width="0.85" fill-opacity="0.7"/>
<rect x="25.70" y="294.20" width="62.90" height="98.20" fill="none" stroke="#2a2a2a" stroke-width="1.05"/>
<line x1="23.70" y1="294.20" x2="25.70" y2="294.20" stroke="#2a2a2a" stroke-width="1"/>
<text x="21.60" y="296.70" font-size="7.0" text-anchor="end" stroke="#1e1e1e">4.0</text>
<line x1="23.70" y1="318.75" x2="25.70" y2="318.75" stroke="#2a2a2a" stroke-width="1"/>
<text x="21.60" y="321.25" font-size="7.0" text-anchor="end" stroke="#1e1e1e">3.0</text>
<line x1="23.70" y1="343.30" x2="25.70" y2="343.30" stroke="#2a2a2a" stroke-width="1"/>
<text x="21.60" y="345.80" font-size="7.0" text-anchor="end" stroke="#1e1e1e">2.0</text>
<line x1="23.70" y1="367.85" x2="25.70" y2="367.85" stroke="#2a2a2a" stroke-width="1"/>
<text x="21.60" y="370.35" font-size="7.0" text-anchor="end" stroke="#1e1e1e">1.0</text>
<line x1="23.70" y1="392.40" x2="25.70" y2="392.40" stroke="#2a2a2a" stroke-width="1"/>
<text x="21.60" y="394.90" font-size="7.0" text-anchor="end" stroke="#1e1e1e">0.0</text>
<line x1="39.90" y1="392.40" x2="39.90" y2="394.40" stroke="#2a2a2a" stroke-width="1"/>
<line x1="75.30" y1="392.40" x2="75.30" y2="394.40" stroke="#2a2a2a" stroke-width="1"/>
<text x="57.30" y="287.50" font-size="7.4" text-anchor="middle" stroke="#1e1e1e">TCGA CRC Tissues</text>
<text x="32.30" y="303.80" font-size="7.8" stroke="#1e1e1e"><tspan font-style="italic">P</tspan> = 1.47×10<tspan font-size="5.3" dy="-2.38">-11</tspan></text>
<text transform="translate(6.90,349.50) rotate(-90)" font-size="7.6" text-anchor="middle" stroke="#1e1e1e"><tspan font-style="italic">FADS2</tspan> Expression (FPKM+1, log<tspan font-size="5.5" dy="1.65">2</tspan><tspan dy="-1.65">)</tspan></text>
<text x="38.90" y="402.90" font-size="7.6" text-anchor="middle" stroke="#1e1e1e">Normal</text>
<text x="75.30" y="402.90" font-size="7.6" text-anchor="middle" stroke="#1e1e1e">Tumor</text>
<text x="38.90" y="412.10" font-size="7.6" text-anchor="middle" stroke="#1e1e1e">(<tspan font-style="italic">N</tspan> = 45)</text>
<text x="75.30" y="412.10" font-size="7.6" text-anchor="middle" stroke="#1e1e1e">(<tspan font-style="italic">N</tspan> = 45)</text>
<line x1="136.90" y1="376.40" x2="172.70" y2="337.45" stroke="#666666" stroke-width="0.62" stroke-dasharray="1.6 0.8"/>
<line x1="136.90" y1="334.58" x2="172.70" y2="363.32" stroke="#666666" stroke-width="0.62" stroke-dasharray="1.6 0.8"/>
<line x1="136.90" y1="348.10" x2="172.70" y2="314.90" stroke="#666666" stroke-width="0.62" stroke-dasharray="1.6 0.8"/>
<line x1="136.90" y1="340.82" x2="172.70" y2="373.94" stroke="#666666" stroke-width="0.62" stroke-dasharray="1.6 0.8"/>
<line x1="136.90" y1="374.89" x2="172.70" y2="368.26" stroke="#666666" stroke-width="0.62" stroke-dasharray="1.6 0.8"/>
<line x1="136.90" y1="355.73" x2="172.70" y2="342.40" stroke="#666666" stroke-width="0.62" stroke-dasharray="1.6 0.8"/>
<line x1="136.90" y1="350.84" x2="172.70" y2="326.84" stroke="#666666" stroke-width="0.62" stroke-dasharray="1.6 0.8"/>
<line x1="136.90" y1="340.07" x2="172.70" y2="337.08" stroke="#666666" stroke-width="0.62" stroke-dasharray="1.6 0.8"/>
<line x1="136.90" y1="362.73" x2="172.70" y2="338.46" stroke="#666666" stroke-width="0.62" stroke-dasharray="1.6 0.8"/>
<line x1="136.90" y1="346.49" x2="172.70" y2="321.80" stroke="#666666" stroke-width="0.62" stroke-dasharray="1.6 0.8"/>
<line x1="136.90" y1="346.79" x2="172.70" y2="322.98" stroke="#666666" stroke-width="0.62" stroke-dasharray="1.6 0.8"/>
<line x1="136.90" y1="365.76" x2="172.70" y2="348.88" stroke="#666666" stroke-width="0.62" stroke-dasharray="1.6 0.8"/>
<line x1="136.90" y1="356.68" x2="172.70" y2="335.61" stroke="#666666" stroke-width="0.62" stroke-dasharray="1.6 0.8"/>
<line x1="136.90" y1="374.48" x2="172.70" y2="367.19" stroke="#666666" stroke-width="0.62" stroke-dasharray="1.6 0.8"/>
<line x1="136.90" y1="338.84" x2="172.70" y2="339.54" stroke="#666666" stroke-width="0.62" stroke-dasharray="1.6 0.8"/>
<line x1="136.90" y1="374.78" x2="172.70" y2="360.54" stroke="#666666" stroke-width="0.62" stroke-dasharray="1.6 0.8"/>
<line x1="136.90" y1="338.14" x2="172.70" y2="315.72" stroke="#666666" stroke-width="0.62" stroke-dasharray="1.6 0.8"/>
<line x1="136.90" y1="371.18" x2="172.70" y2="350.38" stroke="#666666" stroke-width="0.62" stroke-dasharray="1.6 0.8"/>
<line x1="136.90" y1="343.32" x2="172.70" y2="322.32" stroke="#666666" stroke-width="0.62" stroke-dasharray="1.6 0.8"/>
<line x1="136.90" y1="368.12" x2="172.70" y2="342.86" stroke="#666666" stroke-width="0.62" stroke-dasharray="1.6 0.8"/>
<line x1="136.90" y1="349.21" x2="172.70" y2="335.55" stroke="#666666" stroke-width="0.62" stroke-dasharray="1.6 0.8"/>
<line x1="136.90" y1="368.38" x2="172.70" y2="360.05" stroke="#666666" stroke-width="0.62" stroke-dasharray="1.6 0.8"/>
<line x1="136.90" y1="334.68" x2="172.70" y2="319.37" stroke="#666666" stroke-width="0.62" stroke-dasharray="1.6 0.8"/>
<line x1="136.90" y1="374.00" x2="172.70" y2="347.85" stroke="#666666" stroke-width="0.62" stroke-dasharray="1.6 0.8"/>
<line x1="136.90" y1="368.26" x2="172.70" y2="364.63" stroke="#666666" stroke-width="0.62" stroke-dasharray="1.6 0.8"/>
<line x1="136.90" y1="352.44" x2="172.70" y2="327.74" stroke="#666666" stroke-width="0.62" stroke-dasharray="1.6 0.8"/>
<line x1="136.90" y1="361.79" x2="172.70" y2="338.47" stroke="#666666" stroke-width="0.62" stroke-dasharray="1.6 0.8"/>
<line x1="136.90" y1="361.81" x2="172.70" y2="333.92" stroke="#666666" stroke-width="0.62" stroke-dasharray="1.6 0.8"/>
<line x1="136.90" y1="361.97" x2="172.70" y2="331.07" stroke="#666666" stroke-width="0.62" stroke-dasharray="1.6 0.8"/>
<line x1="136.90" y1="375.77" x2="172.70" y2="363.75" stroke="#666666" stroke-width="0.62" stroke-dasharray="1.6 0.8"/>
<line x1="136.90" y1="336.37" x2="172.70" y2="323.93" stroke="#666666" stroke-width="0.62" stroke-dasharray="1.6 0.8"/>
<line x1="136.90" y1="335.43" x2="172.70" y2="334.33" stroke="#666666" stroke-width="0.62" stroke-dasharray="1.6 0.8"/>
<line x1="136.90" y1="363.76" x2="172.70" y2="365.59" stroke="#666666" stroke-width="0.62" stroke-dasharray="1.6 0.8"/>
<line x1="136.90" y1="371.01" x2="172.70" y2="350.03" stroke="#666666" stroke-width="0.62" stroke-dasharray="1.6 0.8"/>
<line x1="136.90" y1="370.81" x2="172.70" y2="341.64" stroke="#666666" stroke-width="0.62" stroke-dasharray="1.6 0.8"/>
<line x1="136.90" y1="374.12" x2="172.70" y2="348.06" stroke="#666666" stroke-width="0.62" stroke-dasharray="1.6 0.8"/>
<line x1="136.90" y1="349.22" x2="172.70" y2="333.35" stroke="#666666" stroke-width="0.62" stroke-dasharray="1.6 0.8"/>
<line x1="136.90" y1="356.92" x2="172.70" y2="344.41" stroke="#666666" stroke-width="0.62" stroke-dasharray="1.6 0.8"/>
<line x1="136.90" y1="372.17" x2="172.70" y2="359.14" stroke="#666666" stroke-width="0.62" stroke-dasharray="1.6 0.8"/>
<line x1="136.90" y1="352.75" x2="172.70" y2="336.90" stroke="#666666" stroke-width="0.62" stroke-dasharray="1.6 0.8"/>
<line x1="136.90" y1="373.82" x2="172.70" y2="357.42" stroke="#666666" stroke-width="0.62" stroke-dasharray="1.6 0.8"/>
<line x1="136.90" y1="349.14" x2="172.70" y2="320.43" stroke="#666666" stroke-width="0.62" stroke-dasharray="1.6 0.8"/>
<line x1="136.90" y1="376.14" x2="172.70" y2="364.97" stroke="#666666" stroke-width="0.62" stroke-dasharray="1.6 0.8"/>
<line x1="136.90" y1="368.25" x2="172.70" y2="362.62" stroke="#666666" stroke-width="0.62" stroke-dasharray="1.6 0.8"/>
<line x1="136.90" y1="367.78" x2="172.70" y2="372.84" stroke="#666666" stroke-width="0.62" stroke-dasharray="1.6 0.8"/>
<line x1="136.90" y1="356.85" x2="172.70" y2="327.15" stroke="#666666" stroke-width="0.62" stroke-dasharray="1.6 0.8"/>
<line x1="136.90" y1="344.78" x2="172.70" y2="326.55" stroke="#666666" stroke-width="0.62" stroke-dasharray="1.6 0.8"/>
<line x1="136.90" y1="355.51" x2="172.70" y2="338.77" stroke="#666666" stroke-width="0.62" stroke-dasharray="1.6 0.8"/>
<line x1="136.90" y1="348.55" x2="172.70" y2="342.55" stroke="#666666" stroke-width="0.62" stroke-dasharray="1.6 0.8"/>
<line x1="136.90" y1="356.71" x2="172.70" y2="345.76" stroke="#666666" stroke-width="0.62" stroke-dasharray="1.6 0.8"/>
<line x1="136.90" y1="357.42" x2="172.70" y2="345.56" stroke="#666666" stroke-width="0.62" stroke-dasharray="1.6 0.8"/>
<line x1="136.90" y1="350.47" x2="172.70" y2="334.16" stroke="#666666" stroke-width="0.62" stroke-dasharray="1.6 0.8"/>
<line x1="136.90" y1="375.58" x2="172.70" y2="345.27" stroke="#666666" stroke-width="0.62" stroke-dasharray="1.6 0.8"/>
<line x1="136.90" y1="358.92" x2="172.70" y2="327.61" stroke="#666666" stroke-width="0.62" stroke-dasharray="1.6 0.8"/>
<line x1="136.90" y1="355.23" x2="172.70" y2="346.88" stroke="#666666" stroke-width="0.62" stroke-dasharray="1.6 0.8"/>
<line x1="136.90" y1="339.97" x2="172.70" y2="330.30" stroke="#666666" stroke-width="0.62" stroke-dasharray="1.6 0.8"/>
<line x1="136.90" y1="360.71" x2="172.70" y2="359.71" stroke="#666666" stroke-width="0.62" stroke-dasharray="1.6 0.8"/>
<line x1="136.90" y1="339.86" x2="172.70" y2="338.18" stroke="#666666" stroke-width="0.62" stroke-dasharray="1.6 0.8"/>
<line x1="136.90" y1="360.87" x2="172.70" y2="351.70" stroke="#666666" stroke-width="0.62" stroke-dasharray="1.6 0.8"/>
<line x1="136.90" y1="370.01" x2="172.70" y2="349.15" stroke="#666666" stroke-width="0.62" stroke-dasharray="1.6 0.8"/>
<line x1="136.90" y1="353.93" x2="172.70" y2="323.62" stroke="#666666" stroke-width="0.62" stroke-dasharray="1.6 0.8"/>
<line x1="136.90" y1="344.01" x2="172.70" y2="340.75" stroke="#666666" stroke-width="0.62" stroke-dasharray="1.6 0.8"/>
<line x1="136.90" y1="353.18" x2="172.70" y2="334.61" stroke="#666666" stroke-width="0.62" stroke-dasharray="1.6 0.8"/>
<line x1="136.90" y1="365.89" x2="172.70" y2="334.17" stroke="#666666" stroke-width="0.62" stroke-dasharray="1.6 0.8"/>
<line x1="136.90" y1="363.82" x2="172.70" y2="353.24" stroke="#666666" stroke-width="0.62" stroke-dasharray="1.6 0.8"/>
<circle cx="172.70" cy="337.45" r="2.55" fill="#f8d4d4" stroke="#e79c9c" stroke-width="0.85" fill-opacity="0.7"/>
<circle cx="172.70" cy="363.32" r="2.55" fill="#f8d4d4" stroke="#e79c9c" stroke-width="0.85" fill-opacity="0.7"/>
<circle cx="172.70" cy="314.90" r="2.55" fill="#f8d4d4" stroke="#e79c9c" stroke-width="0.85" fill-opacity="0.7"/>
<circle cx="172.70" cy="373.94" r="2.55" fill="#f8d4d4" stroke="#e79c9c" stroke-width="0.85" fill-opacity="0.7"/>
<circle cx="172.70" cy="368.26" r="2.55" fill="#f8d4d4" stroke="#e79c9c" stroke-width="0.85" fill-opacity="0.7"/>
<circle cx="172.70" cy="342.40" r="2.55" fill="#f8d4d4" stroke="#e79c9c" stroke-width="0.85" fill-opacity="0.7"/>
<circle cx="172.70" cy="326.84" r="2.55" fill="#f8d4d4" stroke="#e79c9c" stroke-width="0.85" fill-opacity="0.7"/>
<circle cx="172.70" cy="337.08" r="2.55" fill="#f8d4d4" stroke="#e79c9c" stroke-width="0.85" fill-opacity="0.7"/>
<circle cx="172.70" cy="338.46" r="2.55" fill="#f8d4d4" stroke="#e79c9c" stroke-width="0.85" fill-opacity="0.7"/>
<circle cx="172.70" cy="321.80" r="2.55" fill="#f8d4d4" stroke="#e79c9c" stroke-width="0.85" fill-opacity="0.7"/>
<circle cx="172.70" cy="322.98" r="2.55" fill="#f8d4d4" stroke="#e79c9c" stroke-width="0.85" fill-opacity="0.7"/>
<circle cx="172.70" cy="348.88" r="2.55" fill="#f8d4d4" stroke="#e79c9c" stroke-width="0.85" fill-opacity="0.7"/>
<circle cx="172.70" cy="335.61" r="2.55" fill="#f8d4d4" stroke="#e79c9c" stroke-width="0.85" fill-opacity="0.7"/>
<circle cx="172.70" cy="367.19" r="2.55" fill="#f8d4d4" stroke="#e79c9c" stroke-width="0.85" fill-opacity="0.7"/>
<circle cx="172.70" cy="339.54" r="2.55" fill="#f8d4d4" stroke="#e79c9c" stroke-width="0.85" fill-opacity="0.7"/>
<circle cx="172.70" cy="360.54" r="2.55" fill="#f8d4d4" stroke="#e79c9c" stroke-width="0.85" fill-opacity="0.7"/>
<circle cx="172.70" cy="315.72" r="2.55" fill="#f8d4d4" stroke="#e79c9c" stroke-width="0.85" fill-opacity="0.7"/>
<circle cx="172.70" cy="350.38" r="2.55" fill="#f8d4d4" stroke="#e79c9c" stroke-width="0.85" fill-opacity="0.7"/>
<circle cx="172.70" cy="322.32" r="2.55" fill="#f8d4d4" stroke="#e79c9c" stroke-width="0.85" fill-opacity="0.7"/>
<circle cx="172.70" cy="342.86" r="2.55" fill="#f8d4d4" stroke="#e79c9c" stroke-width="0.85" fill-opacity="0.7"/>
<circle cx="172.70" cy="335.55" r="2.55" fill="#f8d4d4" stroke="#e79c9c" stroke-width="0.85" fill-opacity="0.7"/>
<circle cx="172.70" cy="360.05" r="2.55" fill="#f8d4d4" stroke="#e79c9c" stroke-width="0.85" fill-opacity="0.7"/>
<circle cx="172.70" cy="319.37" r="2.55" fill="#f8d4d4" stroke="#e79c9c" stroke-width="0.85" fill-opacity="0.7"/>
<circle cx="172.70" cy="347.85" r="2.55" fill="#f8d4d4" stroke="#e79c9c" stroke-width="0.85" fill-opacity="0.7"/>
<circle cx="172.70" cy="364.63" r="2.55" fill="#f8d4d4" stroke="#e79c9c" stroke-width="0.85" fill-opacity="0.7"/>
<circle cx="172.70" cy="327.74" r="2.55" fill="#f8d4d4" stroke="#e79c9c" stroke-width="0.85" fill-opacity="0.7"/>
<circle cx="172.70" cy="338.47" r="2.55" fill="#f8d4d4" stroke="#e79c9c" stroke-width="0.85" fill-opacity="0.7"/>
<circle cx="172.70" cy="333.92" r="2.55" fill="#f8d4d4" stroke="#e79c9c" stroke-width="0.85" fill-opacity="0.7"/>
<circle cx="172.70" cy="331.07" r="2.55" fill="#f8d4d4" stroke="#e79c9c" stroke-width="0.85" fill-opacity="0.7"/>
<circle cx="172.70" cy="363.75" r="2.55" fill="#f8d4d4" stroke="#e79c9c" stroke-width="0.85" fill-opacity="0.7"/>
<circle cx="172.70" cy="323.93" r="2.55" fill="#f8d4d4" stroke="#e79c9c" stroke-width="0.85" fill-opacity="0.7"/>
<circle cx="172.70" cy="334.33" r="2.55" fill="#f8d4d4" stroke="#e79c9c" stroke-width="0.85" fill-opacity="0.7"/>
<circle cx="172.70" cy="365.59" r="2.55" fill="#f8d4d4" stroke="#e79c9c" stroke-width="0.85" fill-opacity="0.7"/>
<circle cx="172.70" cy="350.03" r="2.55" fill="#f8d4d4" stroke="#e79c9c" stroke-width="0.85" fill-opacity="0.7"/>
<circle cx="172.70" cy="341.64" r="2.55" fill="#f8d4d4" stroke="#e79c9c" stroke-width="0.85" fill-opacity="0.7"/>
<circle cx="172.70" cy="348.06" r="2.55" fill="#f8d4d4" stroke="#e79c9c" stroke-width="0.85" fill-opacity="0.7"/>
<circle cx="172.70" cy="333.35" r="2.55" fill="#f8d4d4" stroke="#e79c9c" stroke-width="0.85" fill-opacity="0.7"/>
<circle cx="172.70" cy="344.41" r="2.55" fill="#f8d4d4" stroke="#e79c9c" stroke-width="0.85" fill-opacity="0.7"/>
<circle cx="172.70" cy="359.14" r="2.55" fill="#f8d4d4" stroke="#e79c9c" stroke-width="0.85" fill-opacity="0.7"/>
<circle cx="172.70" cy="336.90" r="2.55" fill="#f8d4d4" stroke="#e79c9c" stroke-width="0.85" fill-opacity="0.7"/>
<circle cx="172.70" cy="357.42" r="2.55" fill="#f8d4d4" stroke="#e79c9c" stroke-width="0.85" fill-opacity="0.7"/>
<circle cx="172.70" cy="320.43" r="2.55" fill="#f8d4d4" stroke="#e79c9c" stroke-width="0.85" fill-opacity="0.7"/>
<circle cx="172.70" cy="364.97" r="2.55" fill="#f8d4d4" stroke="#e79c9c" stroke-width="0.85" fill-opacity="0.7"/>
<circle cx="172.70" cy="362.62" r="2.55" fill="#f8d4d4" stroke="#e79c9c" stroke-width="0.85" fill-opacity="0.7"/>
<circle cx="172.70" cy="372.84" r="2.55" fill="#f8d4d4" stroke="#e79c9c" stroke-width="0.85" fill-opacity="0.7"/>
<circle cx="172.70" cy="327.15" r="2.55" fill="#f8d4d4" stroke="#e79c9c" stroke-width="0.85" fill-opacity="0.7"/>
<circle cx="172.70" cy="326.55" r="2.55" fill="#f8d4d4" stroke="#e79c9c" stroke-width="0.85" fill-opacity="0.7"/>
<circle cx="172.70" cy="338.77" r="2.55" fill="#f8d4d4" stroke="#e79c9c" stroke-width="0.85" fill-opacity="0.7"/>
<circle cx="172.70" cy="342.55" r="2.55" fill="#f8d4d4" stroke="#e79c9c" stroke-width="0.85" fill-opacity="0.7"/>
<circle cx="172.70" cy="345.76" r="2.55" fill="#f8d4d4" stroke="#e79c9c" stroke-width="0.85" fill-opacity="0.7"/>
<circle cx="172.70" cy="345.56" r="2.55" fill="#f8d4d4" stroke="#e79c9c" stroke-width="0.85" fill-opacity="0.7"/>
<circle cx="172.70" cy="334.16" r="2.55" fill="#f8d4d4" stroke="#e79c9c" stroke-width="0.85" fill-opacity="0.7"/>
<circle cx="172.70" cy="345.27" r="2.55" fill="#f8d4d4" stroke="#e79c9c" stroke-width="0.85" fill-opacity="0.7"/>
<circle cx="172.70" cy="327.61" r="2.55" fill="#f8d4d4" stroke="#e79c9c" stroke-width="0.85" fill-opacity="0.7"/>
<circle cx="172.70" cy="346.88" r="2.55" fill="#f8d4d4" stroke="#e79c9c" stroke-width="0.85" fill-opacity="0.7"/>
<circle cx="172.70" cy="330.30" r="2.55" fill="#f8d4d4" stroke="#e79c9c" stroke-width="0.85" fill-opacity="0.7"/>
<circle cx="172.70" cy="359.71" r="2.55" fill="#f8d4d4" stroke="#e79c9c" stroke-width="0.85" fill-opacity="0.7"/>
<circle cx="172.70" cy="338.18" r="2.55" fill="#f8d4d4" stroke="#e79c9c" stroke-width="0.85" fill-opacity="0.7"/>
<circle cx="172.70" cy="351.70" r="2.55" fill="#f8d4d4" stroke="#e79c9c" stroke-width="0.85" fill-opacity="0.7"/>
<circle cx="172.70" cy="349.15" r="2.55" fill="#f8d4d4" stroke="#e79c9c" stroke-width="0.85" fill-opacity="0.7"/>
<circle cx="172.70" cy="323.62" r="2.55" fill="#f8d4d4" stroke="#e79c9c" stroke-width="0.85" fill-opacity="0.7"/>
<circle cx="172.70" cy="340.75" r="2.55" fill="#f8d4d4" stroke="#e79c9c" stroke-width="0.85" fill-opacity="0.7"/>
<circle cx="172.70" cy="334.61" r="2.55" fill="#f8d4d4" stroke="#e79c9c" stroke-width="0.85" fill-opacity="0.7"/>
<circle cx="172.70" cy="334.17" r="2.55" fill="#f8d4d4" stroke="#e79c9c" stroke-width="0.85" fill-opacity="0.7"/>
<circle cx="172.70" cy="353.24" r="2.55" fill="#f8d4d4" stroke="#e79c9c" stroke-width="0.85" fill-opacity="0.7"/>
<circle cx="136.90" cy="376.40" r="2.55" fill="#babaf4" stroke="#9898ea" stroke-width="0.85" fill-opacity="0.7"/>
<circle cx="136.90" cy="334.58" r="2.55" fill="#babaf4" stroke="#9898ea" stroke-width="0.85" fill-opacity="0.7"/>
<circle cx="136.90" cy="348.10" r="2.55" fill="#babaf4" stroke="#9898ea" stroke-width="0.85" fill-opacity="0.7"/>
<circle cx="136.90" cy="340.82" r="2.55" fill="#babaf4" stroke="#9898ea" stroke-width="0.85" fill-opacity="0.7"/>
<circle cx="136.90" cy="374.89" r="2.55" fill="#babaf4" stroke="#9898ea" stroke-width="0.85" fill-opacity="0.7"/>
<circle cx="136.90" cy="355.73" r="2.55" fill="#babaf4" stroke="#9898ea" stroke-width="0.85" fill-opacity="0.7"/>
<circle cx="136.90" cy="350.84" r="2.55" fill="#babaf4" stroke="#9898ea" stroke-width="0.85" fill-opacity="0.7"/>
<circle cx="136.90" cy="340.07" r="2.55" fill="#babaf4" stroke="#9898ea" stroke-width="0.85" fill-opacity="0.7"/>
<circle cx="136.90" cy="362.73" r="2.55" fill="#babaf4" stroke="#9898ea" stroke-width="0.85" fill-opacity="0.7"/>
<circle cx="136.90" cy="346.49" r="2.55" fill="#babaf4" stroke="#9898ea" stroke-width="0.85" fill-opacity="0.7"/>
<circle cx="136.90" cy="346.79" r="2.55" fill="#babaf4" stroke="#9898ea" stroke-width="0.85" fill-opacity="0.7"/>
<circle cx="136.90" cy="365.76" r="2.55" fill="#babaf4" stroke="#9898ea" stroke-width="0.85" fill-opacity="0.7"/>
<circle cx="136.90" cy="356.68" r="2.55" fill="#babaf4" stroke="#9898ea" stroke-width="0.85" fill-opacity="0.7"/>
<circle cx="136.90" cy="374.48" r="2.55" fill="#babaf4" stroke="#9898ea" stroke-width="0.85" fill-opacity="0.7"/>
<circle cx="136.90" cy="338.84" r="2.55" fill="#babaf4" stroke="#9898ea" stroke-width="0.85" fill-opacity="0.7"/>
<circle cx="136.90" cy="374.78" r="2.55" fill="#babaf4" stroke="#9898ea" stroke-width="0.85" fill-opacity="0.7"/>
<circle cx="136.90" cy="338.14" r="2.55" fill="#babaf4" stroke="#9898ea" stroke-width="0.85" fill-opacity="0.7"/>
<circle cx="136.90" cy="371.18" r="2.55" fill="#babaf4" stroke="#9898ea" stroke-width="0.85" fill-opacity="0.7"/>
<circle cx="136.90" cy="343.32" r="2.55" fill="#babaf4" stroke="#9898ea" stroke-width="0.85" fill-opacity="0.7"/>
<circle cx="136.90" cy="368.12" r="2.55" fill="#babaf4" stroke="#9898ea" stroke-width="0.85" fill-opacity="0.7"/>
<circle cx="136.90" cy="349.21" r="2.55" fill="#babaf4" stroke="#9898ea" stroke-width="0.85" fill-opacity="0.7"/>
<circle cx="136.90" cy="368.38" r="2.55" fill="#babaf4" stroke="#9898ea" stroke-width="0.85" fill-opacity="0.7"/>
<circle cx="136.90" cy="334.68" r="2.55" fill="#babaf4" stroke="#9898ea" stroke-width="0.85" fill-opacity="0.7"/>
<circle cx="136.90" cy="374.00" r="2.55" fill="#babaf4" stroke="#9898ea" stroke-width="0.85" fill-opacity="0.7"/>
<circle cx="136.90" cy="368.26" r="2.55" fill="#babaf4" stroke="#9898ea" stroke-width="0.85" fill-opacity="0.7"/>
<circle cx="136.90" cy="352.44" r="2.55" fill="#babaf4" stroke="#9898ea" stroke-width="0.85" fill-opacity="0.7"/>
<circle cx="136.90" cy="361.79" r="2.55" fill="#babaf4" stroke="#9898ea" stroke-width="0.85" fill-opacity="0.7"/>
<circle cx="136.90" cy="361.81" r="2.55" fill="#babaf4" stroke="#9898ea" stroke-width="0.85" fill-opacity="0.7"/>
<circle cx="136.90" cy="361.97" r="2.55" fill="#babaf4" stroke="#9898ea" stroke-width="0.85" fill-opacity="0.7"/>
<circle cx="136.90" cy="375.77" r="2.55" fill="#babaf4" stroke="#9898ea" stroke-width="0.85" fill-opacity="0.7"/>
<circle cx="136.90" cy="336.37" r="2.55" fill="#babaf4" stroke="#9898ea" stroke-width="0.85" fill-opacity="0.7"/>
<circle cx="136.90" cy="335.43" r="2.55" fill="#babaf4" stroke="#9898ea" stroke-width="0.85" fill-opacity="0.7"/>
<circle cx="136.90" cy="363.76" r="2.55" fill="#babaf4" stroke="#9898ea" stroke-width="0.85" fill-opacity="0.7"/>
<circle cx="136.90" cy="371.01" r="2.55" fill="#babaf4" stroke="#9898ea" stroke-width="0.85" fill-opacity="0.7"/>
<circle cx="136.90" cy="370.81" r="2.55" fill="#babaf4" stroke="#9898ea" stroke-width="0.85" fill-opacity="0.7"/>
<circle cx="136.90" cy="374.12" r="2.55" fill="#babaf4" stroke="#9898ea" stroke-width="0.85" fill-opacity="0.7"/>
<circle cx="136.90" cy="349.22" r="2.55" fill="#babaf4" stroke="#9898ea" stroke-width="0.85" fill-opacity="0.7"/>
<circle cx="136.90" cy="356.92" r="2.55" fill="#babaf4" stroke="#9898ea" stroke-width="0.85" fill-opacity="0.7"/>
<circle cx="136.90" cy="372.17" r="2.55" fill="#babaf4" stroke="#9898ea" stroke-width="0.85" fill-opacity="0.7"/>
<circle cx="136.90" cy="352.75" r="2.55" fill="#babaf4" stroke="#9898ea" stroke-width="0.85" fill-opacity="0.7"/>
<circle cx="136.90" cy="373.82" r="2.55" fill="#babaf4" stroke="#9898ea" stroke-width="0.85" fill-opacity="0.7"/>
<circle cx="136.90" cy="349.14" r="2.55" fill="#babaf4" stroke="#9898ea" stroke-width="0.85" fill-opacity="0.7"/>
<circle cx="136.90" cy="376.14" r="2.55" fill="#babaf4" stroke="#9898ea" stroke-width="0.85" fill-opacity="0.7"/>
<circle cx="136.90" cy="368.25" r="2.55" fill="#babaf4" stroke="#9898ea" stroke-width="0.85" fill-opacity="0.7"/>
<circle cx="136.90" cy="367.78" r="2.55" fill="#babaf4" stroke="#9898ea" stroke-width="0.85" fill-opacity="0.7"/>
<circle cx="136.90" cy="356.85" r="2.55" fill="#babaf4" stroke="#9898ea" stroke-width="0.85" fill-opacity="0.7"/>
<circle cx="136.90" cy="344.78" r="2.55" fill="#babaf4" stroke="#9898ea" stroke-width="0.85" fill-opacity="0.7"/>
<circle cx="136.90" cy="355.51" r="2.55" fill="#babaf4" stroke="#9898ea" stroke-width="0.85" fill-opacity="0.7"/>
<circle cx="136.90" cy="348.55" r="2.55" fill="#babaf4" stroke="#9898ea" stroke-width="0.85" fill-opacity="0.7"/>
<circle cx="136.90" cy="356.71" r="2.55" fill="#babaf4" stroke="#9898ea" stroke-width="0.85" fill-opacity="0.7"/>
<circle cx="136.90" cy="357.42" r="2.55" fill="#babaf4" stroke="#9898ea" stroke-width="0.85" fill-opacity="0.7"/>
<circle cx="136.90" cy="350.47" r="2.55" fill="#babaf4" stroke="#9898ea" stroke-width="0.85" fill-opacity="0.7"/>
<circle cx="136.90" cy="375.58" r="2.55" fill="#babaf4" stroke="#9898ea" stroke-width="0.85" fill-opacity="0.7"/>
<circle cx="136.90" cy="358.92" r="2.55" fill="#babaf4" stroke="#9898ea" stroke-width="0.85" fill-opacity="0.7"/>
<circle cx="136.90" cy="355.23" r="2.55" fill="#babaf4" stroke="#9898ea" stroke-width="0.85" fill-opacity="0.7"/>
<circle cx="136.90" cy="339.97" r="2.55" fill="#babaf4" stroke="#9898ea" stroke-width="0.85" fill-opacity="0.7"/>
<circle cx="136.90" cy="360.71" r="2.55" fill="#babaf4" stroke="#9898ea" stroke-width="0.85" fill-opacity="0.7"/>
<circle cx="136.90" cy="339.86" r="2.55" fill="#babaf4" stroke="#9898ea" stroke-width="0.85" fill-opacity="0.7"/>
<circle cx="136.90" cy="360.87" r="2.55" fill="#babaf4" stroke="#9898ea" stroke-width="0.85" fill-opacity="0.7"/>
<circle cx="136.90" cy="370.01" r="2.55" fill="#babaf4" stroke="#9898ea" stroke-width="0.85" fill-opacity="0.7"/>
<circle cx="136.90" cy="353.93" r="2.55" fill="#babaf4" stroke="#9898ea" stroke-width="0.85" fill-opacity="0.7"/>
<circle cx="136.90" cy="344.01" r="2.55" fill="#babaf4" stroke="#9898ea" stroke-width="0.85" fill-opacity="0.7"/>
<circle cx="136.90" cy="353.18" r="2.55" fill="#babaf4" stroke="#9898ea" stroke-width="0.85" fill-opacity="0.7"/>
<circle cx="136.90" cy="365.89" r="2.55" fill="#babaf4" stroke="#9898ea" stroke-width="0.85" fill-opacity="0.7"/>
<circle cx="136.90" cy="363.82" r="2.55" fill="#babaf4" stroke="#9898ea" stroke-width="0.85" fill-opacity="0.7"/>
<rect x="123.60" y="294.20" width="63.00" height="98.30" fill="none" stroke="#2a2a2a" stroke-width="1.05"/>
<line x1="121.60" y1="310.80" x2="123.60" y2="310.80" stroke="#2a2a2a" stroke-width="1"/>
<text x="118.90" y="313.30" font-size="7.0" text-anchor="end" stroke="#1e1e1e">4.1</text>
<line x1="121.60" y1="335.40" x2="123.60" y2="335.40" stroke="#2a2a2a" stroke-width="1"/>
<text x="118.90" y="337.90" font-size="7.0" text-anchor="end" stroke="#1e1e1e">3.8</text>
<line x1="121.60" y1="360.00" x2="123.60" y2="360.00" stroke="#2a2a2a" stroke-width="1"/>
<text x="118.90" y="362.50" font-size="7.0" text-anchor="end" stroke="#1e1e1e">3.5</text>
<line x1="121.60" y1="384.60" x2="123.60" y2="384.60" stroke="#2a2a2a" stroke-width="1"/>
<text x="118.90" y="387.10" font-size="7.0" text-anchor="end" stroke="#1e1e1e">3.2</text>
<line x1="136.90" y1="392.50" x2="136.90" y2="394.50" stroke="#2a2a2a" stroke-width="1"/>
<line x1="172.70" y1="392.50" x2="172.70" y2="394.50" stroke="#2a2a2a" stroke-width="1"/>
<text x="154.60" y="281.30" font-size="7.4" text-anchor="middle" stroke="#1e1e1e">Gaedcke</text>
<text x="154.60" y="289.60" font-size="7.4" text-anchor="middle" stroke="#1e1e1e">Colon-Rectum</text>
<text x="129.80" y="303.80" font-size="7.8" stroke="#1e1e1e"><tspan font-style="italic">P</tspan> = 8.35×10<tspan font-size="5.3" dy="-2.38">-12</tspan></text>
<text transform="translate(105.60,350.00) rotate(-90)" font-size="7.6" text-anchor="middle" stroke="#1e1e1e"><tspan font-style="italic">FADS2</tspan> Expression (TPM+1, log<tspan font-size="5.5" dy="1.65">2</tspan><tspan dy="-1.65">)</tspan></text>
<text x="135.90" y="402.90" font-size="7.6" text-anchor="middle" stroke="#1e1e1e">Normal</text>
<text x="172.30" y="402.90" font-size="7.6" text-anchor="middle" stroke="#1e1e1e">Tumor</text>
<text x="135.90" y="412.10" font-size="7.6" text-anchor="middle" stroke="#1e1e1e">(<tspan font-style="italic">N</tspan> = 65)</text>
<text x="172.30" y="412.10" font-size="7.6" text-anchor="middle" stroke="#1e1e1e">(<tspan font-style="italic">N</tspan> = 65)</text>
<line x1="235.90" y1="358.20" x2="271.70" y2="346.49" stroke="#666666" stroke-width="0.62" stroke-dasharray="1.6 0.8"/>
<line x1="235.90" y1="325.24" x2="271.70" y2="320.46" stroke="#666666" stroke-width="0.62" stroke-dasharray="1.6 0.8"/>
<line x1="235.90" y1="326.99" x2="271.70" y2="315.40" stroke="#666666" stroke-width="0.62" stroke-dasharray="1.6 0.8"/>
<line x1="235.90" y1="345.07" x2="271.70" y2="353.28" stroke="#666666" stroke-width="0.62" stroke-dasharray="1.6 0.8"/>
<line x1="235.90" y1="344.69" x2="271.70" y2="335.37" stroke="#666666" stroke-width="0.62" stroke-dasharray="1.6 0.8"/>
<line x1="235.90" y1="349.74" x2="271.70" y2="346.90" stroke="#666666" stroke-width="0.62" stroke-dasharray="1.6 0.8"/>
<line x1="235.90" y1="338.62" x2="271.70" y2="327.41" stroke="#666666" stroke-width="0.62" stroke-dasharray="1.6 0.8"/>
<line x1="235.90" y1="341.95" x2="271.70" y2="330.97" stroke="#666666" stroke-width="0.62" stroke-dasharray="1.6 0.8"/>
<line x1="235.90" y1="327.74" x2="271.70" y2="316.97" stroke="#666666" stroke-width="0.62" stroke-dasharray="1.6 0.8"/>
<line x1="235.90" y1="348.96" x2="271.70" y2="353.00" stroke="#666666" stroke-width="0.62" stroke-dasharray="1.6 0.8"/>
<line x1="235.90" y1="327.26" x2="271.70" y2="320.48" stroke="#666666" stroke-width="0.62" stroke-dasharray="1.6 0.8"/>
<line x1="235.90" y1="353.03" x2="271.70" y2="340.48" stroke="#666666" stroke-width="0.62" stroke-dasharray="1.6 0.8"/>
<line x1="235.90" y1="338.78" x2="271.70" y2="329.63" stroke="#666666" stroke-width="0.62" stroke-dasharray="1.6 0.8"/>
<line x1="235.90" y1="330.93" x2="271.70" y2="336.04" stroke="#666666" stroke-width="0.62" stroke-dasharray="1.6 0.8"/>
<line x1="235.90" y1="335.04" x2="271.70" y2="332.35" stroke="#666666" stroke-width="0.62" stroke-dasharray="1.6 0.8"/>
<line x1="235.90" y1="326.60" x2="271.70" y2="325.31" stroke="#666666" stroke-width="0.62" stroke-dasharray="1.6 0.8"/>
<line x1="235.90" y1="325.55" x2="271.70" y2="322.38" stroke="#666666" stroke-width="0.62" stroke-dasharray="1.6 0.8"/>
<line x1="235.90" y1="329.07" x2="271.70" y2="348.17" stroke="#666666" stroke-width="0.62" stroke-dasharray="1.6 0.8"/>
<line x1="235.90" y1="329.28" x2="271.70" y2="322.80" stroke="#666666" stroke-width="0.62" stroke-dasharray="1.6 0.8"/>
<line x1="235.90" y1="335.42" x2="271.70" y2="342.99" stroke="#666666" stroke-width="0.62" stroke-dasharray="1.6 0.8"/>
<line x1="235.90" y1="353.99" x2="271.70" y2="344.50" stroke="#666666" stroke-width="0.62" stroke-dasharray="1.6 0.8"/>
<line x1="235.90" y1="336.98" x2="271.70" y2="336.95" stroke="#666666" stroke-width="0.62" stroke-dasharray="1.6 0.8"/>
<line x1="235.90" y1="328.55" x2="271.70" y2="328.51" stroke="#666666" stroke-width="0.62" stroke-dasharray="1.6 0.8"/>
<line x1="235.90" y1="339.96" x2="271.70" y2="333.81" stroke="#666666" stroke-width="0.62" stroke-dasharray="1.6 0.8"/>
<line x1="235.90" y1="329.33" x2="271.70" y2="343.25" stroke="#666666" stroke-width="0.62" stroke-dasharray="1.6 0.8"/>
<line x1="235.90" y1="328.27" x2="271.70" y2="319.50" stroke="#666666" stroke-width="0.62" stroke-dasharray="1.6 0.8"/>
<line x1="235.90" y1="352.18" x2="271.70" y2="344.39" stroke="#666666" stroke-width="0.62" stroke-dasharray="1.6 0.8"/>
<line x1="235.90" y1="326.98" x2="271.70" y2="321.92" stroke="#666666" stroke-width="0.62" stroke-dasharray="1.6 0.8"/>
<line x1="235.90" y1="337.13" x2="271.70" y2="330.83" stroke="#666666" stroke-width="0.62" stroke-dasharray="1.6 0.8"/>
<line x1="235.90" y1="334.57" x2="271.70" y2="324.23" stroke="#666666" stroke-width="0.62" stroke-dasharray="1.6 0.8"/>
<line x1="235.90" y1="355.82" x2="271.70" y2="353.09" stroke="#666666" stroke-width="0.62" stroke-dasharray="1.6 0.8"/>
<line x1="235.90" y1="373.94" x2="271.70" y2="350.82" stroke="#666666" stroke-width="0.62" stroke-dasharray="1.6 0.8"/>
<circle cx="271.70" cy="346.49" r="2.55" fill="#f8d4d4" stroke="#e79c9c" stroke-width="0.85" fill-opacity="0.7"/>
<circle cx="271.70" cy="320.46" r="2.55" fill="#f8d4d4" stroke="#e79c9c" stroke-width="0.85" fill-opacity="0.7"/>
<circle cx="271.70" cy="315.40" r="2.55" fill="#f8d4d4" stroke="#e79c9c" stroke-width="0.85" fill-opacity="0.7"/>
<circle cx="271.70" cy="353.28" r="2.55" fill="#f8d4d4" stroke="#e79c9c" stroke-width="0.85" fill-opacity="0.7"/>
<circle cx="271.70" cy="335.37" r="2.55" fill="#f8d4d4" stroke="#e79c9c" stroke-width="0.85" fill-opacity="0.7"/>
<circle cx="271.70" cy="346.90" r="2.55" fill="#f8d4d4" stroke="#e79c9c" stroke-width="0.85" fill-opacity="0.7"/>
<circle cx="271.70" cy="327.41" r="2.55" fill="#f8d4d4" stroke="#e79c9c" stroke-width="0.85" fill-opacity="0.7"/>
<circle cx="271.70" cy="330.97" r="2.55" fill="#f8d4d4" stroke="#e79c9c" stroke-width="0.85" fill-opacity="0.7"/>
<circle cx="271.70" cy="316.97" r="2.55" fill="#f8d4d4" stroke="#e79c9c" stroke-width="0.85" fill-opacity="0.7"/>
<circle cx="271.70" cy="353.00" r="2.55" fill="#f8d4d4" stroke="#e79c9c" stroke-width="0.85" fill-opacity="0.7"/>
<circle cx="271.70" cy="320.48" r="2.55" fill="#f8d4d4" stroke="#e79c9c" stroke-width="0.85" fill-opacity="0.7"/>
<circle cx="271.70" cy="340.48" r="2.55" fill="#f8d4d4" stroke="#e79c9c" stroke-width="0.85" fill-opacity="0.7"/>
<circle cx="271.70" cy="329.63" r="2.55" fill="#f8d4d4" stroke="#e79c9c" stroke-width="0.85" fill-opacity="0.7"/>
<circle cx="271.70" cy="336.04" r="2.55" fill="#f8d4d4" stroke="#e79c9c" stroke-width="0.85" fill-opacity="0.7"/>
<circle cx="271.70" cy="332.35" r="2.55" fill="#f8d4d4" stroke="#e79c9c" stroke-width="0.85" fill-opacity="0.7"/>
<circle cx="271.70" cy="325.31" r="2.55" fill="#f8d4d4" stroke="#e79c9c" stroke-width="0.85" fill-opacity="0.7"/>
<circle cx="271.70" cy="322.38" r="2.55" fill="#f8d4d4" stroke="#e79c9c" stroke-width="0.85" fill-opacity="0.7"/>
<circle cx="271.70" cy="348.17" r="2.55" fill="#f8d4d4" stroke="#e79c9c" stroke-width="0.85" fill-opacity="0.7"/>
<circle cx="271.70" cy="322.80" r="2.55" fill="#f8d4d4" stroke="#e79c9c" stroke-width="0.85" fill-opacity="0.7"/>
<circle cx="271.70" cy="342.99" r="2.55" fill="#f8d4d4" stroke="#e79c9c" stroke-width="0.85" fill-opacity="0.7"/>
<circle cx="271.70" cy="344.50" r="2.55" fill="#f8d4d4" stroke="#e79c9c" stroke-width="0.85" fill-opacity="0.7"/>
<circle cx="271.70" cy="336.95" r="2.55" fill="#f8d4d4" stroke="#e79c9c" stroke-width="0.85" fill-opacity="0.7"/>
<circle cx="271.70" cy="328.51" r="2.55" fill="#f8d4d4" stroke="#e79c9c" stroke-width="0.85" fill-opacity="0.7"/>
<circle cx="271.70" cy="333.81" r="2.55" fill="#f8d4d4" stroke="#e79c9c" stroke-width="0.85" fill-opacity="0.7"/>
<circle cx="271.70" cy="343.25" r="2.55" fill="#f8d4d4" stroke="#e79c9c" stroke-width="0.85" fill-opacity="0.7"/>
<circle cx="271.70" cy="319.50" r="2.55" fill="#f8d4d4" stroke="#e79c9c" stroke-width="0.85" fill-opacity="0.7"/>
<circle cx="271.70" cy="344.39" r="2.55" fill="#f8d4d4" stroke="#e79c9c" stroke-width="0.85" fill-opacity="0.7"/>
<circle cx="271.70" cy="321.92" r="2.55" fill="#f8d4d4" stroke="#e79c9c" stroke-width="0.85" fill-opacity="0.7"/>
<circle cx="271.70" cy="330.83" r="2.55" fill="#f8d4d4" stroke="#e79c9c" stroke-width="0.85" fill-opacity="0.7"/>
<circle cx="271.70" cy="324.23" r="2.55" fill="#f8d4d4" stroke="#e79c9c" stroke-width="0.85" fill-opacity="0.7"/>
<circle cx="271.70" cy="353.09" r="2.55" fill="#f8d4d4" stroke="#e79c9c" stroke-width="0.85" fill-opacity="0.7"/>
<circle cx="271.70" cy="350.82" r="2.55" fill="#f8d4d4" stroke="#e79c9c" stroke-width="0.85" fill-opacity="0.7"/>
<circle cx="235.90" cy="358.20" r="2.55" fill="#babaf4" stroke="#9898ea" stroke-width="0.85" fill-opacity="0.7"/>
<circle cx="235.90" cy="325.24" r="2.55" fill="#babaf4" stroke="#9898ea" stroke-width="0.85" fill-opacity="0.7"/>
<circle cx="235.90" cy="326.99" r="2.55" fill="#babaf4" stroke="#9898ea" stroke-width="0.85" fill-opacity="0.7"/>
<circle cx="235.90" cy="345.07" r="2.55" fill="#babaf4" stroke="#9898ea" stroke-width="0.85" fill-opacity="0.7"/>
<circle cx="235.90" cy="344.69" r="2.55" fill="#babaf4" stroke="#9898ea" stroke-width="0.85" fill-opacity="0.7"/>
<circle cx="235.90" cy="349.74" r="2.55" fill="#babaf4" stroke="#9898ea" stroke-width="0.85" fill-opacity="0.7"/>
<circle cx="235.90" cy="338.62" r="2.55" fill="#babaf4" stroke="#9898ea" stroke-width="0.85" fill-opacity="0.7"/>
<circle cx="235.90" cy="341.95" r="2.55" fill="#babaf4" stroke="#9898ea" stroke-width="0.85" fill-opacity="0.7"/>
<circle cx="235.90" cy="327.74" r="2.55" fill="#babaf4" stroke="#9898ea" stroke-width="0.85" fill-opacity="0.7"/>
<circle cx="235.90" cy="348.96" r="2.55" fill="#babaf4" stroke="#9898ea" stroke-width="0.85" fill-opacity="0.7"/>
<circle cx="235.90" cy="327.26" r="2.55" fill="#babaf4" stroke="#9898ea" stroke-width="0.85" fill-opacity="0.7"/>
<circle cx="235.90" cy="353.03" r="2.55" fill="#babaf4" stroke="#9898ea" stroke-width="0.85" fill-opacity="0.7"/>
<circle cx="235.90" cy="338.78" r="2.55" fill="#babaf4" stroke="#9898ea" stroke-width="0.85" fill-opacity="0.7"/>
<circle cx="235.90" cy="330.93" r="2.55" fill="#babaf4" stroke="#9898ea" stroke-width="0.85" fill-opacity="0.7"/>
<circle cx="235.90" cy="335.04" r="2.55" fill="#babaf4" stroke="#9898ea" stroke-width="0.85" fill-opacity="0.7"/>
<circle cx="235.90" cy="326.60" r="2.55" fill="#babaf4" stroke="#9898ea" stroke-width="0.85" fill-opacity="0.7"/>
<circle cx="235.90" cy="325.55" r="2.55" fill="#babaf4" stroke="#9898ea" stroke-width="0.85" fill-opacity="0.7"/>
<circle cx="235.90" cy="329.07" r="2.55" fill="#babaf4" stroke="#9898ea" stroke-width="0.85" fill-opacity="0.7"/>
<circle cx="235.90" cy="329.28" r="2.55" fill="#babaf4" stroke="#9898ea" stroke-width="0.85" fill-opacity="0.7"/>
<circle cx="235.90" cy="335.42" r="2.55" fill="#babaf4" stroke="#9898ea" stroke-width="0.85" fill-opacity="0.7"/>
<circle cx="235.90" cy="353.99" r="2.55" fill="#babaf4" stroke="#9898ea" stroke-width="0.85" fill-opacity="0.7"/>
<circle cx="235.90" cy="336.98" r="2.55" fill="#babaf4" stroke="#9898ea" stroke-width="0.85" fill-opacity="0.7"/>
<circle cx="235.90" cy="328.55" r="2.55" fill="#babaf4" stroke="#9898ea" stroke-width="0.85" fill-opacity="0.7"/>
<circle cx="235.90" cy="339.96" r="2.55" fill="#babaf4" stroke="#9898ea" stroke-width="0.85" fill-opacity="0.7"/>
<circle cx="235.90" cy="329.33" r="2.55" fill="#babaf4" stroke="#9898ea" stroke-width="0.85" fill-opacity="0.7"/>
<circle cx="235.90" cy="328.27" r="2.55" fill="#babaf4" stroke="#9898ea" stroke-width="0.85" fill-opacity="0.7"/>
<circle cx="235.90" cy="352.18" r="2.55" fill="#babaf4" stroke="#9898ea" stroke-width="0.85" fill-opacity="0.7"/>
<circle cx="235.90" cy="326.98" r="2.55" fill="#babaf4" stroke="#9898ea" stroke-width="0.85" fill-opacity="0.7"/>
<circle cx="235.90" cy="337.13" r="2.55" fill="#babaf4" stroke="#9898ea" stroke-width="0.85" fill-opacity="0.7"/>
<circle cx="235.90" cy="334.57" r="2.55" fill="#babaf4" stroke="#9898ea" stroke-width="0.85" fill-opacity="0.7"/>
<circle cx="235.90" cy="355.82" r="2.55" fill="#babaf4" stroke="#9898ea" stroke-width="0.85" fill-opacity="0.7"/>
<circle cx="235.90" cy="373.94" r="2.55" fill="#babaf4" stroke="#9898ea" stroke-width="0.85" fill-opacity="0.7"/>
<rect x="222.80" y="294.20" width="63.10" height="98.20" fill="none" stroke="#2a2a2a" stroke-width="1.05"/>
<line x1="220.80" y1="309.00" x2="222.80" y2="309.00" stroke="#2a2a2a" stroke-width="1"/>
<text x="219.00" y="311.50" font-size="7.0" text-anchor="end" stroke="#1e1e1e">3.5</text>
<line x1="220.80" y1="333.60" x2="222.80" y2="333.60" stroke="#2a2a2a" stroke-width="1"/>
<text x="219.00" y="336.10" font-size="7.0" text-anchor="end" stroke="#1e1e1e">3.0</text>
<line x1="220.80" y1="358.20" x2="222.80" y2="358.20" stroke="#2a2a2a" stroke-width="1"/>
<text x="219.00" y="360.70" font-size="7.0" text-anchor="end" stroke="#1e1e1e">2.5</text>
<line x1="220.80" y1="382.80" x2="222.80" y2="382.80" stroke="#2a2a2a" stroke-width="1"/>
<text x="219.00" y="385.30" font-size="7.0" text-anchor="end" stroke="#1e1e1e">2.0</text>
<line x1="235.90" y1="392.40" x2="235.90" y2="394.40" stroke="#2a2a2a" stroke-width="1"/>
<line x1="271.70" y1="392.40" x2="271.70" y2="394.40" stroke="#2a2a2a" stroke-width="1"/>
<text x="254.40" y="281.30" font-size="7.4" text-anchor="middle" stroke="#1e1e1e">Sabates-Bellver</text>
<text x="254.40" y="289.60" font-size="7.4" text-anchor="middle" stroke="#1e1e1e">Colon-Rectum</text>
<text x="228.70" y="303.80" font-size="7.8" stroke="#1e1e1e"><tspan font-style="italic">P</tspan> = 1.70×10<tspan font-size="5.3" dy="-2.38">-2</tspan></text>
<text transform="translate(205.40,350.00) rotate(-90)" font-size="7.6" text-anchor="middle" stroke="#1e1e1e"><tspan font-style="italic">FADS2</tspan> Expression (TPM+1, log<tspan font-size="5.5" dy="1.65">2</tspan><tspan dy="-1.65">)</tspan></text>
<text x="235.90" y="402.90" font-size="7.6" text-anchor="middle" stroke="#1e1e1e">Normal</text>
<text x="272.30" y="402.90" font-size="7.6" text-anchor="middle" stroke="#1e1e1e">Tumor</text>
<text x="235.90" y="412.10" font-size="7.6" text-anchor="middle" stroke="#1e1e1e">(<tspan font-style="italic">N</tspan> = 32)</text>
<text x="272.30" y="412.10" font-size="7.6" text-anchor="middle" stroke="#1e1e1e">(<tspan font-style="italic">N</tspan> = 32)</text>
<line x1="338.00" y1="382.46" x2="373.70" y2="351.36" stroke="#666666" stroke-width="0.62" stroke-dasharray="1.6 0.8"/>
<line x1="338.00" y1="320.30" x2="373.70" y2="349.86" stroke="#666666" stroke-width="0.62" stroke-dasharray="1.6 0.8"/>
<line x1="338.00" y1="345.37" x2="373.70" y2="313.75" stroke="#666666" stroke-width="0.62" stroke-dasharray="1.6 0.8"/>
<line x1="338.00" y1="376.24" x2="373.70" y2="366.10" stroke="#666666" stroke-width="0.62" stroke-dasharray="1.6 0.8"/>
<line x1="338.00" y1="327.60" x2="373.70" y2="340.17" stroke="#666666" stroke-width="0.62" stroke-dasharray="1.6 0.8"/>
<line x1="338.00" y1="349.39" x2="373.70" y2="353.07" stroke="#666666" stroke-width="0.62" stroke-dasharray="1.6 0.8"/>
<line x1="338.00" y1="371.33" x2="373.70" y2="366.09" stroke="#666666" stroke-width="0.62" stroke-dasharray="1.6 0.8"/>
<line x1="338.00" y1="371.04" x2="373.70" y2="358.91" stroke="#666666" stroke-width="0.62" stroke-dasharray="1.6 0.8"/>
<line x1="338.00" y1="373.68" x2="373.70" y2="355.90" stroke="#666666" stroke-width="0.62" stroke-dasharray="1.6 0.8"/>
<line x1="338.00" y1="357.07" x2="373.70" y2="343.81" stroke="#666666" stroke-width="0.62" stroke-dasharray="1.6 0.8"/>
<line x1="338.00" y1="365.86" x2="373.70" y2="335.91" stroke="#666666" stroke-width="0.62" stroke-dasharray="1.6 0.8"/>
<line x1="338.00" y1="331.72" x2="373.70" y2="331.50" stroke="#666666" stroke-width="0.62" stroke-dasharray="1.6 0.8"/>
<line x1="338.00" y1="348.52" x2="373.70" y2="339.52" stroke="#666666" stroke-width="0.62" stroke-dasharray="1.6 0.8"/>
<line x1="338.00" y1="376.61" x2="373.70" y2="346.51" stroke="#666666" stroke-width="0.62" stroke-dasharray="1.6 0.8"/>
<line x1="338.00" y1="320.90" x2="373.70" y2="329.64" stroke="#666666" stroke-width="0.62" stroke-dasharray="1.6 0.8"/>
<line x1="338.00" y1="348.45" x2="373.70" y2="357.15" stroke="#666666" stroke-width="0.62" stroke-dasharray="1.6 0.8"/>
<line x1="338.00" y1="329.54" x2="373.70" y2="317.51" stroke="#666666" stroke-width="0.62" stroke-dasharray="1.6 0.8"/>
<line x1="338.00" y1="330.88" x2="373.70" y2="320.76" stroke="#666666" stroke-width="0.62" stroke-dasharray="1.6 0.8"/>
<line x1="338.00" y1="364.06" x2="373.70" y2="347.32" stroke="#666666" stroke-width="0.62" stroke-dasharray="1.6 0.8"/>
<line x1="338.00" y1="341.24" x2="373.70" y2="348.72" stroke="#666666" stroke-width="0.62" stroke-dasharray="1.6 0.8"/>
<line x1="338.00" y1="366.81" x2="373.70" y2="335.36" stroke="#666666" stroke-width="0.62" stroke-dasharray="1.6 0.8"/>
<line x1="338.00" y1="369.30" x2="373.70" y2="314.30" stroke="#666666" stroke-width="0.62" stroke-dasharray="1.6 0.8"/>
<line x1="338.00" y1="367.57" x2="373.70" y2="347.99" stroke="#666666" stroke-width="0.62" stroke-dasharray="1.6 0.8"/>
<line x1="338.00" y1="370.21" x2="373.70" y2="333.60" stroke="#666666" stroke-width="0.62" stroke-dasharray="1.6 0.8"/>
<line x1="338.00" y1="379.80" x2="373.70" y2="359.78" stroke="#666666" stroke-width="0.62" stroke-dasharray="1.6 0.8"/>
<line x1="338.00" y1="381.77" x2="373.70" y2="341.45" stroke="#666666" stroke-width="0.62" stroke-dasharray="1.6 0.8"/>
<line x1="338.00" y1="321.17" x2="373.70" y2="319.86" stroke="#666666" stroke-width="0.62" stroke-dasharray="1.6 0.8"/>
<line x1="338.00" y1="322.40" x2="373.70" y2="321.77" stroke="#666666" stroke-width="0.62" stroke-dasharray="1.6 0.8"/>
<line x1="338.00" y1="333.20" x2="373.70" y2="354.33" stroke="#666666" stroke-width="0.62" stroke-dasharray="1.6 0.8"/>
<line x1="338.00" y1="340.48" x2="373.70" y2="352.84" stroke="#666666" stroke-width="0.62" stroke-dasharray="1.6 0.8"/>
<line x1="338.00" y1="364.89" x2="373.70" y2="351.35" stroke="#666666" stroke-width="0.62" stroke-dasharray="1.6 0.8"/>
<line x1="338.00" y1="324.10" x2="373.70" y2="350.97" stroke="#666666" stroke-width="0.62" stroke-dasharray="1.6 0.8"/>
<line x1="338.00" y1="370.87" x2="373.70" y2="344.55" stroke="#666666" stroke-width="0.62" stroke-dasharray="1.6 0.8"/>
<line x1="338.00" y1="377.14" x2="373.70" y2="361.57" stroke="#666666" stroke-width="0.62" stroke-dasharray="1.6 0.8"/>
<line x1="338.00" y1="355.80" x2="373.70" y2="343.36" stroke="#666666" stroke-width="0.62" stroke-dasharray="1.6 0.8"/>
<line x1="338.00" y1="321.50" x2="373.70" y2="318.54" stroke="#666666" stroke-width="0.62" stroke-dasharray="1.6 0.8"/>
<line x1="338.00" y1="368.37" x2="373.70" y2="363.47" stroke="#666666" stroke-width="0.62" stroke-dasharray="1.6 0.8"/>
<line x1="338.00" y1="366.83" x2="373.70" y2="336.88" stroke="#666666" stroke-width="0.62" stroke-dasharray="1.6 0.8"/>
<line x1="338.00" y1="353.17" x2="373.70" y2="336.49" stroke="#666666" stroke-width="0.62" stroke-dasharray="1.6 0.8"/>
<line x1="338.00" y1="376.50" x2="373.70" y2="328.51" stroke="#666666" stroke-width="0.62" stroke-dasharray="1.6 0.8"/>
<line x1="338.00" y1="374.04" x2="373.70" y2="338.18" stroke="#666666" stroke-width="0.62" stroke-dasharray="1.6 0.8"/>
<line x1="338.00" y1="333.18" x2="373.70" y2="323.41" stroke="#666666" stroke-width="0.62" stroke-dasharray="1.6 0.8"/>
<line x1="338.00" y1="375.65" x2="373.70" y2="355.62" stroke="#666666" stroke-width="0.62" stroke-dasharray="1.6 0.8"/>
<line x1="338.00" y1="350.47" x2="373.70" y2="341.40" stroke="#666666" stroke-width="0.62" stroke-dasharray="1.6 0.8"/>
<line x1="338.00" y1="340.25" x2="373.70" y2="351.42" stroke="#666666" stroke-width="0.62" stroke-dasharray="1.6 0.8"/>
<line x1="338.00" y1="353.25" x2="373.70" y2="346.44" stroke="#666666" stroke-width="0.62" stroke-dasharray="1.6 0.8"/>
<line x1="338.00" y1="358.28" x2="373.70" y2="357.89" stroke="#666666" stroke-width="0.62" stroke-dasharray="1.6 0.8"/>
<line x1="338.00" y1="321.83" x2="373.70" y2="333.45" stroke="#666666" stroke-width="0.62" stroke-dasharray="1.6 0.8"/>
<line x1="338.00" y1="325.62" x2="373.70" y2="341.32" stroke="#666666" stroke-width="0.62" stroke-dasharray="1.6 0.8"/>
<line x1="338.00" y1="359.59" x2="373.70" y2="334.38" stroke="#666666" stroke-width="0.62" stroke-dasharray="1.6 0.8"/>
<line x1="338.00" y1="375.71" x2="373.70" y2="364.62" stroke="#666666" stroke-width="0.62" stroke-dasharray="1.6 0.8"/>
<line x1="338.00" y1="359.92" x2="373.70" y2="336.87" stroke="#666666" stroke-width="0.62" stroke-dasharray="1.6 0.8"/>
<line x1="338.00" y1="350.60" x2="373.70" y2="325.69" stroke="#666666" stroke-width="0.62" stroke-dasharray="1.6 0.8"/>
<line x1="338.00" y1="338.98" x2="373.70" y2="315.73" stroke="#666666" stroke-width="0.62" stroke-dasharray="1.6 0.8"/>
<line x1="338.00" y1="381.56" x2="373.70" y2="358.69" stroke="#666666" stroke-width="0.62" stroke-dasharray="1.6 0.8"/>
<line x1="338.00" y1="327.36" x2="373.70" y2="315.05" stroke="#666666" stroke-width="0.62" stroke-dasharray="1.6 0.8"/>
<line x1="338.00" y1="346.06" x2="373.70" y2="326.42" stroke="#666666" stroke-width="0.62" stroke-dasharray="1.6 0.8"/>
<line x1="338.00" y1="380.32" x2="373.70" y2="344.67" stroke="#666666" stroke-width="0.62" stroke-dasharray="1.6 0.8"/>
<line x1="338.00" y1="373.65" x2="373.70" y2="349.32" stroke="#666666" stroke-width="0.62" stroke-dasharray="1.6 0.8"/>
<line x1="338.00" y1="361.64" x2="373.70" y2="327.87" stroke="#666666" stroke-width="0.62" stroke-dasharray="1.6 0.8"/>
<line x1="338.00" y1="374.80" x2="373.70" y2="348.44" stroke="#666666" stroke-width="0.62" stroke-dasharray="1.6 0.8"/>
<line x1="338.00" y1="367.18" x2="373.70" y2="346.79" stroke="#666666" stroke-width="0.62" stroke-dasharray="1.6 0.8"/>
<line x1="338.00" y1="351.52" x2="373.70" y2="342.74" stroke="#666666" stroke-width="0.62" stroke-dasharray="1.6 0.8"/>
<line x1="338.00" y1="381.57" x2="373.70" y2="354.27" stroke="#666666" stroke-width="0.62" stroke-dasharray="1.6 0.8"/>
<line x1="338.00" y1="326.08" x2="373.70" y2="341.22" stroke="#666666" stroke-width="0.62" stroke-dasharray="1.6 0.8"/>
<line x1="338.00" y1="332.01" x2="373.70" y2="336.58" stroke="#666666" stroke-width="0.62" stroke-dasharray="1.6 0.8"/>
<line x1="338.00" y1="373.68" x2="373.70" y2="347.97" stroke="#666666" stroke-width="0.62" stroke-dasharray="1.6 0.8"/>
<line x1="338.00" y1="322.88" x2="373.70" y2="355.47" stroke="#666666" stroke-width="0.62" stroke-dasharray="1.6 0.8"/>
<line x1="338.00" y1="325.95" x2="373.70" y2="330.23" stroke="#666666" stroke-width="0.62" stroke-dasharray="1.6 0.8"/>
<line x1="338.00" y1="366.17" x2="373.70" y2="353.14" stroke="#666666" stroke-width="0.62" stroke-dasharray="1.6 0.8"/>
<line x1="338.00" y1="346.71" x2="373.70" y2="353.71" stroke="#666666" stroke-width="0.62" stroke-dasharray="1.6 0.8"/>
<line x1="338.00" y1="360.64" x2="373.70" y2="329.24" stroke="#666666" stroke-width="0.62" stroke-dasharray="1.6 0.8"/>
<line x1="338.00" y1="337.98" x2="373.70" y2="349.40" stroke="#666666" stroke-width="0.62" stroke-dasharray="1.6 0.8"/>
<line x1="338.00" y1="356.99" x2="373.70" y2="344.17" stroke="#666666" stroke-width="0.62" stroke-dasharray="1.6 0.8"/>
<line x1="338.00" y1="354.74" x2="373.70" y2="350.44" stroke="#666666" stroke-width="0.62" stroke-dasharray="1.6 0.8"/>
<line x1="338.00" y1="335.50" x2="373.70" y2="351.27" stroke="#666666" stroke-width="0.62" stroke-dasharray="1.6 0.8"/>
<line x1="338.00" y1="332.36" x2="373.70" y2="323.92" stroke="#666666" stroke-width="0.62" stroke-dasharray="1.6 0.8"/>
<line x1="338.00" y1="345.66" x2="373.70" y2="322.35" stroke="#666666" stroke-width="0.62" stroke-dasharray="1.6 0.8"/>
<line x1="338.00" y1="353.51" x2="373.70" y2="335.49" stroke="#666666" stroke-width="0.62" stroke-dasharray="1.6 0.8"/>
<line x1="338.00" y1="345.88" x2="373.70" y2="340.52" stroke="#666666" stroke-width="0.62" stroke-dasharray="1.6 0.8"/>
<line x1="338.00" y1="345.52" x2="373.70" y2="334.28" stroke="#666666" stroke-width="0.62" stroke-dasharray="1.6 0.8"/>
<circle cx="373.70" cy="351.36" r="2.55" fill="#f8d4d4" stroke="#e79c9c" stroke-width="0.85" fill-opacity="0.7"/>
<circle cx="373.70" cy="349.86" r="2.55" fill="#f8d4d4" stroke="#e79c9c" stroke-width="0.85" fill-opacity="0.7"/>
<circle cx="373.70" cy="313.75" r="2.55" fill="#f8d4d4" stroke="#e79c9c" stroke-width="0.85" fill-opacity="0.7"/>
<circle cx="373.70" cy="366.10" r="2.55" fill="#f8d4d4" stroke="#e79c9c" stroke-width="0.85" fill-opacity="0.7"/>
<circle cx="373.70" cy="340.17" r="2.55" fill="#f8d4d4" stroke="#e79c9c" stroke-width="0.85" fill-opacity="0.7"/>
<circle cx="373.70" cy="353.07" r="2.55" fill="#f8d4d4" stroke="#e79c9c" stroke-width="0.85" fill-opacity="0.7"/>
<circle cx="373.70" cy="366.09" r="2.55" fill="#f8d4d4" stroke="#e79c9c" stroke-width="0.85" fill-opacity="0.7"/>
<circle cx="373.70" cy="358.91" r="2.55" fill="#f8d4d4" stroke="#e79c9c" stroke-width="0.85" fill-opacity="0.7"/>
<circle cx="373.70" cy="355.90" r="2.55" fill="#f8d4d4" stroke="#e79c9c" stroke-width="0.85" fill-opacity="0.7"/>
<circle cx="373.70" cy="343.81" r="2.55" fill="#f8d4d4" stroke="#e79c9c" stroke-width="0.85" fill-opacity="0.7"/>
<circle cx="373.70" cy="335.91" r="2.55" fill="#f8d4d4" stroke="#e79c9c" stroke-width="0.85" fill-opacity="0.7"/>
<circle cx="373.70" cy="331.50" r="2.55" fill="#f8d4d4" stroke="#e79c9c" stroke-width="0.85" fill-opacity="0.7"/>
<circle cx="373.70" cy="339.52" r="2.55" fill="#f8d4d4" stroke="#e79c9c" stroke-width="0.85" fill-opacity="0.7"/>
<circle cx="373.70" cy="346.51" r="2.55" fill="#f8d4d4" stroke="#e79c9c" stroke-width="0.85" fill-opacity="0.7"/>
<circle cx="373.70" cy="329.64" r="2.55" fill="#f8d4d4" stroke="#e79c9c" stroke-width="0.85" fill-opacity="0.7"/>
<circle cx="373.70" cy="357.15" r="2.55" fill="#f8d4d4" stroke="#e79c9c" stroke-width="0.85" fill-opacity="0.7"/>
<circle cx="373.70" cy="317.51" r="2.55" fill="#f8d4d4" stroke="#e79c9c" stroke-width="0.85" fill-opacity="0.7"/>
<circle cx="373.70" cy="320.76" r="2.55" fill="#f8d4d4" stroke="#e79c9c" stroke-width="0.85" fill-opacity="0.7"/>
<circle cx="373.70" cy="347.32" r="2.55" fill="#f8d4d4" stroke="#e79c9c" stroke-width="0.85" fill-opacity="0.7"/>
<circle cx="373.70" cy="348.72" r="2.55" fill="#f8d4d4" stroke="#e79c9c" stroke-width="0.85" fill-opacity="0.7"/>
<circle cx="373.70" cy="335.36" r="2.55" fill="#f8d4d4" stroke="#e79c9c" stroke-width="0.85" fill-opacity="0.7"/>
<circle cx="373.70" cy="314.30" r="2.55" fill="#f8d4d4" stroke="#e79c9c" stroke-width="0.85" fill-opacity="0.7"/>
<circle cx="373.70" cy="347.99" r="2.55" fill="#f8d4d4" stroke="#e79c9c" stroke-width="0.85" fill-opacity="0.7"/>
<circle cx="373.70" cy="333.60" r="2.55" fill="#f8d4d4" stroke="#e79c9c" stroke-width="0.85" fill-opacity="0.7"/>
<circle cx="373.70" cy="359.78" r="2.55" fill="#f8d4d4" stroke="#e79c9c" stroke-width="0.85" fill-opacity="0.7"/>
<circle cx="373.70" cy="341.45" r="2.55" fill="#f8d4d4" stroke="#e79c9c" stroke-width="0.85" fill-opacity="0.7"/>
<circle cx="373.70" cy="319.86" r="2.55" fill="#f8d4d4" stroke="#e79c9c" stroke-width="0.85" fill-opacity="0.7"/>
<circle cx="373.70" cy="321.77" r="2.55" fill="#f8d4d4" stroke="#e79c9c" stroke-width="0.85" fill-opacity="0.7"/>
<circle cx="373.70" cy="354.33" r="2.55" fill="#f8d4d4" stroke="#e79c9c" stroke-width="0.85" fill-opacity="0.7"/>
<circle cx="373.70" cy="352.84" r="2.55" fill="#f8d4d4" stroke="#e79c9c" stroke-width="0.85" fill-opacity="0.7"/>
<circle cx="373.70" cy="351.35" r="2.55" fill="#f8d4d4" stroke="#e79c9c" stroke-width="0.85" fill-opacity="0.7"/>
<circle cx="373.70" cy="350.97" r="2.55" fill="#f8d4d4" stroke="#e79c9c" stroke-width="0.85" fill-opacity="0.7"/>
<circle cx="373.70" cy="344.55" r="2.55" fill="#f8d4d4" stroke="#e79c9c" stroke-width="0.85" fill-opacity="0.7"/>
<circle cx="373.70" cy="361.57" r="2.55" fill="#f8d4d4" stroke="#e79c9c" stroke-width="0.85" fill-opacity="0.7"/>
<circle cx="373.70" cy="343.36" r="2.55" fill="#f8d4d4" stroke="#e79c9c" stroke-width="0.85" fill-opacity="0.7"/>
<circle cx="373.70" cy="318.54" r="2.55" fill="#f8d4d4" stroke="#e79c9c" stroke-width="0.85" fill-opacity="0.7"/>
<circle cx="373.70" cy="363.47" r="2.55" fill="#f8d4d4" stroke="#e79c9c" stroke-width="0.85" fill-opacity="0.7"/>
<circle cx="373.70" cy="336.88" r="2.55" fill="#f8d4d4" stroke="#e79c9c" stroke-width="0.85" fill-opacity="0.7"/>
<circle cx="373.70" cy="336.49" r="2.55" fill="#f8d4d4" stroke="#e79c9c" stroke-width="0.85" fill-opacity="0.7"/>
<circle cx="373.70" cy="328.51" r="2.55" fill="#f8d4d4" stroke="#e79c9c" stroke-width="0.85" fill-opacity="0.7"/>
<circle cx="373.70" cy="338.18" r="2.55" fill="#f8d4d4" stroke="#e79c9c" stroke-width="0.85" fill-opacity="0.7"/>
<circle cx="373.70" cy="323.41" r="2.55" fill="#f8d4d4" stroke="#e79c9c" stroke-width="0.85" fill-opacity="0.7"/>
<circle cx="373.70" cy="355.62" r="2.55" fill="#f8d4d4" stroke="#e79c9c" stroke-width="0.85" fill-opacity="0.7"/>
<circle cx="373.70" cy="341.40" r="2.55" fill="#f8d4d4" stroke="#e79c9c" stroke-width="0.85" fill-opacity="0.7"/>
<circle cx="373.70" cy="351.42" r="2.55" fill="#f8d4d4" stroke="#e79c9c" stroke-width="0.85" fill-opacity="0.7"/>
<circle cx="373.70" cy="346.44" r="2.55" fill="#f8d4d4" stroke="#e79c9c" stroke-width="0.85" fill-opacity="0.7"/>
<circle cx="373.70" cy="357.89" r="2.55" fill="#f8d4d4" stroke="#e79c9c" stroke-width="0.85" fill-opacity="0.7"/>
<circle cx="373.70" cy="333.45" r="2.55" fill="#f8d4d4" stroke="#e79c9c" stroke-width="0.85" fill-opacity="0.7"/>
<circle cx="373.70" cy="341.32" r="2.55" fill="#f8d4d4" stroke="#e79c9c" stroke-width="0.85" fill-opacity="0.7"/>
<circle cx="373.70" cy="334.38" r="2.55" fill="#f8d4d4" stroke="#e79c9c" stroke-width="0.85" fill-opacity="0.7"/>
<circle cx="373.70" cy="364.62" r="2.55" fill="#f8d4d4" stroke="#e79c9c" stroke-width="0.85" fill-opacity="0.7"/>
<circle cx="373.70" cy="336.87" r="2.55" fill="#f8d4d4" stroke="#e79c9c" stroke-width="0.85" fill-opacity="0.7"/>
<circle cx="373.70" cy="325.69" r="2.55" fill="#f8d4d4" stroke="#e79c9c" stroke-width="0.85" fill-opacity="0.7"/>
<circle cx="373.70" cy="315.73" r="2.55" fill="#f8d4d4" stroke="#e79c9c" stroke-width="0.85" fill-opacity="0.7"/>
<circle cx="373.70" cy="358.69" r="2.55" fill="#f8d4d4" stroke="#e79c9c" stroke-width="0.85" fill-opacity="0.7"/>
<circle cx="373.70" cy="315.05" r="2.55" fill="#f8d4d4" stroke="#e79c9c" stroke-width="0.85" fill-opacity="0.7"/>
<circle cx="373.70" cy="326.42" r="2.55" fill="#f8d4d4" stroke="#e79c9c" stroke-width="0.85" fill-opacity="0.7"/>
<circle cx="373.70" cy="344.67" r="2.55" fill="#f8d4d4" stroke="#e79c9c" stroke-width="0.85" fill-opacity="0.7"/>
<circle cx="373.70" cy="349.32" r="2.55" fill="#f8d4d4" stroke="#e79c9c" stroke-width="0.85" fill-opacity="0.7"/>
<circle cx="373.70" cy="327.87" r="2.55" fill="#f8d4d4" stroke="#e79c9c" stroke-width="0.85" fill-opacity="0.7"/>
<circle cx="373.70" cy="348.44" r="2.55" fill="#f8d4d4" stroke="#e79c9c" stroke-width="0.85" fill-opacity="0.7"/>
<circle cx="373.70" cy="346.79" r="2.55" fill="#f8d4d4" stroke="#e79c9c" stroke-width="0.85" fill-opacity="0.7"/>
<circle cx="373.70" cy="342.74" r="2.55" fill="#f8d4d4" stroke="#e79c9c" stroke-width="0.85" fill-opacity="0.7"/>
<circle cx="373.70" cy="354.27" r="2.55" fill="#f8d4d4" stroke="#e79c9c" stroke-width="0.85" fill-opacity="0.7"/>
<circle cx="373.70" cy="341.22" r="2.55" fill="#f8d4d4" stroke="#e79c9c" stroke-width="0.85" fill-opacity="0.7"/>
<circle cx="373.70" cy="336.58" r="2.55" fill="#f8d4d4" stroke="#e79c9c" stroke-width="0.85" fill-opacity="0.7"/>
<circle cx="373.70" cy="347.97" r="2.55" fill="#f8d4d4" stroke="#e79c9c" stroke-width="0.85" fill-opacity="0.7"/>
<circle cx="373.70" cy="355.47" r="2.55" fill="#f8d4d4" stroke="#e79c9c" stroke-width="0.85" fill-opacity="0.7"/>
<circle cx="373.70" cy="330.23" r="2.55" fill="#f8d4d4" stroke="#e79c9c" stroke-width="0.85" fill-opacity="0.7"/>
<circle cx="373.70" cy="353.14" r="2.55" fill="#f8d4d4" stroke="#e79c9c" stroke-width="0.85" fill-opacity="0.7"/>
<circle cx="373.70" cy="353.71" r="2.55" fill="#f8d4d4" stroke="#e79c9c" stroke-width="0.85" fill-opacity="0.7"/>
<circle cx="373.70" cy="329.24" r="2.55" fill="#f8d4d4" stroke="#e79c9c" stroke-width="0.85" fill-opacity="0.7"/>
<circle cx="373.70" cy="349.40" r="2.55" fill="#f8d4d4" stroke="#e79c9c" stroke-width="0.85" fill-opacity="0.7"/>
<circle cx="373.70" cy="344.17" r="2.55" fill="#f8d4d4" stroke="#e79c9c" stroke-width="0.85" fill-opacity="0.7"/>
<circle cx="373.70" cy="350.44" r="2.55" fill="#f8d4d4" stroke="#e79c9c" stroke-width="0.85" fill-opacity="0.7"/>
<circle cx="373.70" cy="351.27" r="2.55" fill="#f8d4d4" stroke="#e79c9c" stroke-width="0.85" fill-opacity="0.7"/>
<circle cx="373.70" cy="323.92" r="2.55" fill="#f8d4d4" stroke="#e79c9c" stroke-width="0.85" fill-opacity="0.7"/>
<circle cx="373.70" cy="322.35" r="2.55" fill="#f8d4d4" stroke="#e79c9c" stroke-width="0.85" fill-opacity="0.7"/>
<circle cx="373.70" cy="335.49" r="2.55" fill="#f8d4d4" stroke="#e79c9c" stroke-width="0.85" fill-opacity="0.7"/>
<circle cx="373.70" cy="340.52" r="2.55" fill="#f8d4d4" stroke="#e79c9c" stroke-width="0.85" fill-opacity="0.7"/>
<circle cx="373.70" cy="334.28" r="2.55" fill="#f8d4d4" stroke="#e79c9c" stroke-width="0.85" fill-opacity="0.7"/>
<circle cx="338.00" cy="382.46" r="2.55" fill="#babaf4" stroke="#9898ea" stroke-width="0.85" fill-opacity="0.7"/>
<circle cx="338.00" cy="320.30" r="2.55" fill="#babaf4" stroke="#9898ea" stroke-width="0.85" fill-opacity="0.7"/>
<circle cx="338.00" cy="345.37" r="2.55" fill="#babaf4" stroke="#9898ea" stroke-width="0.85" fill-opacity="0.7"/>
<circle cx="338.00" cy="376.24" r="2.55" fill="#babaf4" stroke="#9898ea" stroke-width="0.85" fill-opacity="0.7"/>
<circle cx="338.00" cy="327.60" r="2.55" fill="#babaf4" stroke="#9898ea" stroke-width="0.85" fill-opacity="0.7"/>
<circle cx="338.00" cy="349.39" r="2.55" fill="#babaf4" stroke="#9898ea" stroke-width="0.85" fill-opacity="0.7"/>
<circle cx="338.00" cy="371.33" r="2.55" fill="#babaf4" stroke="#9898ea" stroke-width="0.85" fill-opacity="0.7"/>
<circle cx="338.00" cy="371.04" r="2.55" fill="#babaf4" stroke="#9898ea" stroke-width="0.85" fill-opacity="0.7"/>
<circle cx="338.00" cy="373.68" r="2.55" fill="#babaf4" stroke="#9898ea" stroke-width="0.85" fill-opacity="0.7"/>
<circle cx="338.00" cy="357.07" r="2.55" fill="#babaf4" stroke="#9898ea" stroke-width="0.85" fill-opacity="0.7"/>
<circle cx="338.00" cy="365.86" r="2.55" fill="#babaf4" stroke="#9898ea" stroke-width="0.85" fill-opacity="0.7"/>
<circle cx="338.00" cy="331.72" r="2.55" fill="#babaf4" stroke="#9898ea" stroke-width="0.85" fill-opacity="0.7"/>
<circle cx="338.00" cy="348.52" r="2.55" fill="#babaf4" stroke="#9898ea" stroke-width="0.85" fill-opacity="0.7"/>
<circle cx="338.00" cy="376.61" r="2.55" fill="#babaf4" stroke="#9898ea" stroke-width="0.85" fill-opacity="0.7"/>
<circle cx="338.00" cy="320.90" r="2.55" fill="#babaf4" stroke="#9898ea" stroke-width="0.85" fill-opacity="0.7"/>
<circle cx="338.00" cy="348.45" r="2.55" fill="#babaf4" stroke="#9898ea" stroke-width="0.85" fill-opacity="0.7"/>
<circle cx="338.00" cy="329.54" r="2.55" fill="#babaf4" stroke="#9898ea" stroke-width="0.85" fill-opacity="0.7"/>
<circle cx="338.00" cy="330.88" r="2.55" fill="#babaf4" stroke="#9898ea" stroke-width="0.85" fill-opacity="0.7"/>
<circle cx="338.00" cy="364.06" r="2.55" fill="#babaf4" stroke="#9898ea" stroke-width="0.85" fill-opacity="0.7"/>
<circle cx="338.00" cy="341.24" r="2.55" fill="#babaf4" stroke="#9898ea" stroke-width="0.85" fill-opacity="0.7"/>
<circle cx="338.00" cy="366.81" r="2.55" fill="#babaf4" stroke="#9898ea" stroke-width="0.85" fill-opacity="0.7"/>
<circle cx="338.00" cy="369.30" r="2.55" fill="#babaf4" stroke="#9898ea" stroke-width="0.85" fill-opacity="0.7"/>
<circle cx="338.00" cy="367.57" r="2.55" fill="#babaf4" stroke="#9898ea" stroke-width="0.85" fill-opacity="0.7"/>
<circle cx="338.00" cy="370.21" r="2.55" fill="#babaf4" stroke="#9898ea" stroke-width="0.85" fill-opacity="0.7"/>
<circle cx="338.00" cy="379.80" r="2.55" fill="#babaf4" stroke="#9898ea" stroke-width="0.85" fill-opacity="0.7"/>
<circle cx="338.00" cy="381.77" r="2.55" fill="#babaf4" stroke="#9898ea" stroke-width="0.85" fill-opacity="0.7"/>
<circle cx="338.00" cy="321.17" r="2.55" fill="#babaf4" stroke="#9898ea" stroke-width="0.85" fill-opacity="0.7"/>
<circle cx="338.00" cy="322.40" r="2.55" fill="#babaf4" stroke="#9898ea" stroke-width="0.85" fill-opacity="0.7"/>
<circle cx="338.00" cy="333.20" r="2.55" fill="#babaf4" stroke="#9898ea" stroke-width="0.85" fill-opacity="0.7"/>
<circle cx="338.00" cy="340.48" r="2.55" fill="#babaf4" stroke="#9898ea" stroke-width="0.85" fill-opacity="0.7"/>
<circle cx="338.00" cy="364.89" r="2.55" fill="#babaf4" stroke="#9898ea" stroke-width="0.85" fill-opacity="0.7"/>
<circle cx="338.00" cy="324.10" r="2.55" fill="#babaf4" stroke="#9898ea" stroke-width="0.85" fill-opacity="0.7"/>
<circle cx="338.00" cy="370.87" r="2.55" fill="#babaf4" stroke="#9898ea" stroke-width="0.85" fill-opacity="0.7"/>
<circle cx="338.00" cy="377.14" r="2.55" fill="#babaf4" stroke="#9898ea" stroke-width="0.85" fill-opacity="0.7"/>
<circle cx="338.00" cy="355.80" r="2.55" fill="#babaf4" stroke="#9898ea" stroke-width="0.85" fill-opacity="0.7"/>
<circle cx="338.00" cy="321.50" r="2.55" fill="#babaf4" stroke="#9898ea" stroke-width="0.85" fill-opacity="0.7"/>
<circle cx="338.00" cy="368.37" r="2.55" fill="#babaf4" stroke="#9898ea" stroke-width="0.85" fill-opacity="0.7"/>
<circle cx="338.00" cy="366.83" r="2.55" fill="#babaf4" stroke="#9898ea" stroke-width="0.85" fill-opacity="0.7"/>
<circle cx="338.00" cy="353.17" r="2.55" fill="#babaf4" stroke="#9898ea" stroke-width="0.85" fill-opacity="0.7"/>
<circle cx="338.00" cy="376.50" r="2.55" fill="#babaf4" stroke="#9898ea" stroke-width="0.85" fill-opacity="0.7"/>
<circle cx="338.00" cy="374.04" r="2.55" fill="#babaf4" stroke="#9898ea" stroke-width="0.85" fill-opacity="0.7"/>
<circle cx="338.00" cy="333.18" r="2.55" fill="#babaf4" stroke="#9898ea" stroke-width="0.85" fill-opacity="0.7"/>
<circle cx="338.00" cy="375.65" r="2.55" fill="#babaf4" stroke="#9898ea" stroke-width="0.85" fill-opacity="0.7"/>
<circle cx="338.00" cy="350.47" r="2.55" fill="#babaf4" stroke="#9898ea" stroke-width="0.85" fill-opacity="0.7"/>
<circle cx="338.00" cy="340.25" r="2.55" fill="#babaf4" stroke="#9898ea" stroke-width="0.85" fill-opacity="0.7"/>
<circle cx="338.00" cy="353.25" r="2.55" fill="#babaf4" stroke="#9898ea" stroke-width="0.85" fill-opacity="0.7"/>
<circle cx="338.00" cy="358.28" r="2.55" fill="#babaf4" stroke="#9898ea" stroke-width="0.85" fill-opacity="0.7"/>
<circle cx="338.00" cy="321.83" r="2.55" fill="#babaf4" stroke="#9898ea" stroke-width="0.85" fill-opacity="0.7"/>
<circle cx="338.00" cy="325.62" r="2.55" fill="#babaf4" stroke="#9898ea" stroke-width="0.85" fill-opacity="0.7"/>
<circle cx="338.00" cy="359.59" r="2.55" fill="#babaf4" stroke="#9898ea" stroke-width="0.85" fill-opacity="0.7"/>
<circle cx="338.00" cy="375.71" r="2.55" fill="#babaf4" stroke="#9898ea" stroke-width="0.85" fill-opacity="0.7"/>
<circle cx="338.00" cy="359.92" r="2.55" fill="#babaf4" stroke="#9898ea" stroke-width="0.85" fill-opacity="0.7"/>
<circle cx="338.00" cy="350.60" r="2.55" fill="#babaf4" stroke="#9898ea" stroke-width="0.85" fill-opacity="0.7"/>
<circle cx="338.00" cy="338.98" r="2.55" fill="#babaf4" stroke="#9898ea" stroke-width="0.85" fill-opacity="0.7"/>
<circle cx="338.00" cy="381.56" r="2.55" fill="#babaf4" stroke="#9898ea" stroke-width="0.85" fill-opacity="0.7"/>
<circle cx="338.00" cy="327.36" r="2.55" fill="#babaf4" stroke="#9898ea" stroke-width="0.85" fill-opacity="0.7"/>
<circle cx="338.00" cy="346.06" r="2.55" fill="#babaf4" stroke="#9898ea" stroke-width="0.85" fill-opacity="0.7"/>
<circle cx="338.00" cy="380.32" r="2.55" fill="#babaf4" stroke="#9898ea" stroke-width="0.85" fill-opacity="0.7"/>
<circle cx="338.00" cy="373.65" r="2.55" fill="#babaf4" stroke="#9898ea" stroke-width="0.85" fill-opacity="0.7"/>
<circle cx="338.00" cy="361.64" r="2.55" fill="#babaf4" stroke="#9898ea" stroke-width="0.85" fill-opacity="0.7"/>
<circle cx="338.00" cy="374.80" r="2.55" fill="#babaf4" stroke="#9898ea" stroke-width="0.85" fill-opacity="0.7"/>
<circle cx="338.00" cy="367.18" r="2.55" fill="#babaf4" stroke="#9898ea" stroke-width="0.85" fill-opacity="0.7"/>
<circle cx="338.00" cy="351.52" r="2.55" fill="#babaf4" stroke="#9898ea" stroke-width="0.85" fill-opacity="0.7"/>
<circle cx="338.00" cy="381.57" r="2.55" fill="#babaf4" stroke="#9898ea" stroke-width="0.85" fill-opacity="0.7"/>
<circle cx="338.00" cy="326.08" r="2.55" fill="#babaf4" stroke="#9898ea" stroke-width="0.85" fill-opacity="0.7"/>
<circle cx="338.00" cy="332.01" r="2.55" fill="#babaf4" stroke="#9898ea" stroke-width="0.85" fill-opacity="0.7"/>
<circle cx="338.00" cy="373.68" r="2.55" fill="#babaf4" stroke="#9898ea" stroke-width="0.85" fill-opacity="0.7"/>
<circle cx="338.00" cy="322.88" r="2.55" fill="#babaf4" stroke="#9898ea" stroke-width="0.85" fill-opacity="0.7"/>
<circle cx="338.00" cy="325.95" r="2.55" fill="#babaf4" stroke="#9898ea" stroke-width="0.85" fill-opacity="0.7"/>
<circle cx="338.00" cy="366.17" r="2.55" fill="#babaf4" stroke="#9898ea" stroke-width="0.85" fill-opacity="0.7"/>
<circle cx="338.00" cy="346.71" r="2.55" fill="#babaf4" stroke="#9898ea" stroke-width="0.85" fill-opacity="0.7"/>
<circle cx="338.00" cy="360.64" r="2.55" fill="#babaf4" stroke="#9898ea" stroke-width="0.85" fill-opacity="0.7"/>
<circle cx="338.00" cy="337.98" r="2.55" fill="#babaf4" stroke="#9898ea" stroke-width="0.85" fill-opacity="0.7"/>
<circle cx="338.00" cy="356.99" r="2.55" fill="#babaf4" stroke="#9898ea" stroke-width="0.85" fill-opacity="0.7"/>
<circle cx="338.00" cy="354.74" r="2.55" fill="#babaf4" stroke="#9898ea" stroke-width="0.85" fill-opacity="0.7"/>
<circle cx="338.00" cy="335.50" r="2.55" fill="#babaf4" stroke="#9898ea" stroke-width="0.85" fill-opacity="0.7"/>
<circle cx="338.00" cy="332.36" r="2.55" fill="#babaf4" stroke="#9898ea" stroke-width="0.85" fill-opacity="0.7"/>
<circle cx="338.00" cy="345.66" r="2.55" fill="#babaf4" stroke="#9898ea" stroke-width="0.85" fill-opacity="0.7"/>
<circle cx="338.00" cy="353.51" r="2.55" fill="#babaf4" stroke="#9898ea" stroke-width="0.85" fill-opacity="0.7"/>
<circle cx="338.00" cy="345.88" r="2.55" fill="#babaf4" stroke="#9898ea" stroke-width="0.85" fill-opacity="0.7"/>
<circle cx="338.00" cy="345.52" r="2.55" fill="#babaf4" stroke="#9898ea" stroke-width="0.85" fill-opacity="0.7"/>
<rect x="324.60" y="294.20" width="63.40" height="98.20" fill="none" stroke="#2a2a2a" stroke-width="1.05"/>
<line x1="322.60" y1="302.30" x2="324.60" y2="302.30" stroke="#2a2a2a" stroke-width="1"/>
<text x="320.40" y="304.80" font-size="7.0" text-anchor="end" stroke="#1e1e1e">0.60</text>
<line x1="322.60" y1="318.66" x2="324.60" y2="318.66" stroke="#2a2a2a" stroke-width="1"/>
<text x="320.40" y="321.16" font-size="7.0" text-anchor="end" stroke="#1e1e1e">0.50</text>
<line x1="322.60" y1="335.02" x2="324.60" y2="335.02" stroke="#2a2a2a" stroke-width="1"/>
<text x="320.40" y="337.52" font-size="7.0" text-anchor="end" stroke="#1e1e1e">0.40</text>
<line x1="322.60" y1="351.38" x2="324.60" y2="351.38" stroke="#2a2a2a" stroke-width="1"/>
<text x="320.40" y="353.88" font-size="7.0" text-anchor="end" stroke="#1e1e1e">0.30</text>
<line x1="322.60" y1="367.74" x2="324.60" y2="367.74" stroke="#2a2a2a" stroke-width="1"/>
<text x="320.40" y="370.24" font-size="7.0" text-anchor="end" stroke="#1e1e1e">0.20</text>
<line x1="322.60" y1="384.10" x2="324.60" y2="384.10" stroke="#2a2a2a" stroke-width="1"/>
<text x="320.40" y="386.60" font-size="7.0" text-anchor="end" stroke="#1e1e1e">0.10</text>
<line x1="338.00" y1="392.40" x2="338.00" y2="394.40" stroke="#2a2a2a" stroke-width="1"/>
<line x1="373.70" y1="392.40" x2="373.70" y2="394.40" stroke="#2a2a2a" stroke-width="1"/>
<text x="352.30" y="287.50" font-size="7.4" text-anchor="middle" stroke="#1e1e1e">Our own CRC tissues</text>
<text x="330.80" y="303.80" font-size="7.8" stroke="#1e1e1e"><tspan font-style="italic">P</tspan> = 1.08×10<tspan font-size="5.3" dy="-2.38">-6</tspan></text>
<text transform="translate(301.20,344.00) rotate(-90)" font-size="7.6" text-anchor="middle" stroke="#1e1e1e">Relative <tspan font-style="italic">FADS2</tspan> expression</text>
<text x="340.40" y="403.50" font-size="7.6" text-anchor="middle" stroke="#1e1e1e">Normal</text>
<text x="376.30" y="403.50" font-size="7.6" text-anchor="middle" stroke="#1e1e1e">Tumor</text>
<text x="340.40" y="411.70" font-size="7.6" text-anchor="middle" stroke="#1e1e1e">(<tspan font-style="italic">N</tspan> = 81)</text>
<text x="376.30" y="411.70" font-size="7.6" text-anchor="middle" stroke="#1e1e1e">(<tspan font-style="italic">N</tspan> = 81)</text>
<line x1="460.00" y1="374.66" x2="495.80" y2="346.09" stroke="#666666" stroke-width="0.62" stroke-dasharray="1.6 0.8"/>
<line x1="460.00" y1="332.68" x2="495.80" y2="356.41" stroke="#666666" stroke-width="0.62" stroke-dasharray="1.6 0.8"/>
<line x1="460.00" y1="362.32" x2="495.80" y2="321.55" stroke="#666666" stroke-width="0.62" stroke-dasharray="1.6 0.8"/>
<line x1="460.00" y1="372.12" x2="495.80" y2="375.61" stroke="#666666" stroke-width="0.62" stroke-dasharray="1.6 0.8"/>
<line x1="460.00" y1="334.40" x2="495.80" y2="336.05" stroke="#666666" stroke-width="0.62" stroke-dasharray="1.6 0.8"/>
<line x1="460.00" y1="352.17" x2="495.80" y2="360.68" stroke="#666666" stroke-width="0.62" stroke-dasharray="1.6 0.8"/>
<line x1="460.00" y1="344.36" x2="495.80" y2="347.19" stroke="#666666" stroke-width="0.62" stroke-dasharray="1.6 0.8"/>
<line x1="460.00" y1="334.02" x2="495.80" y2="371.45" stroke="#666666" stroke-width="0.62" stroke-dasharray="1.6 0.8"/>
<line x1="460.00" y1="335.50" x2="495.80" y2="344.34" stroke="#666666" stroke-width="0.62" stroke-dasharray="1.6 0.8"/>
<line x1="460.00" y1="362.89" x2="495.80" y2="348.33" stroke="#666666" stroke-width="0.62" stroke-dasharray="1.6 0.8"/>
<line x1="460.00" y1="365.71" x2="495.80" y2="310.42" stroke="#666666" stroke-width="0.62" stroke-dasharray="1.6 0.8"/>
<line x1="460.00" y1="333.65" x2="495.80" y2="368.38" stroke="#666666" stroke-width="0.62" stroke-dasharray="1.6 0.8"/>
<line x1="460.00" y1="338.68" x2="495.80" y2="337.71" stroke="#666666" stroke-width="0.62" stroke-dasharray="1.6 0.8"/>
<line x1="460.00" y1="343.51" x2="495.80" y2="365.18" stroke="#666666" stroke-width="0.62" stroke-dasharray="1.6 0.8"/>
<line x1="460.00" y1="340.14" x2="495.80" y2="328.29" stroke="#666666" stroke-width="0.62" stroke-dasharray="1.6 0.8"/>
<line x1="460.00" y1="361.56" x2="495.80" y2="350.68" stroke="#666666" stroke-width="0.62" stroke-dasharray="1.6 0.8"/>
<line x1="460.00" y1="371.63" x2="495.80" y2="344.23" stroke="#666666" stroke-width="0.62" stroke-dasharray="1.6 0.8"/>
<line x1="460.00" y1="343.99" x2="495.80" y2="346.92" stroke="#666666" stroke-width="0.62" stroke-dasharray="1.6 0.8"/>
<line x1="460.00" y1="350.27" x2="495.80" y2="335.84" stroke="#666666" stroke-width="0.62" stroke-dasharray="1.6 0.8"/>
<line x1="460.00" y1="359.01" x2="495.80" y2="358.10" stroke="#666666" stroke-width="0.62" stroke-dasharray="1.6 0.8"/>
<line x1="460.00" y1="374.33" x2="495.80" y2="315.19" stroke="#666666" stroke-width="0.62" stroke-dasharray="1.6 0.8"/>
<line x1="460.00" y1="357.07" x2="495.80" y2="330.84" stroke="#666666" stroke-width="0.62" stroke-dasharray="1.6 0.8"/>
<line x1="460.00" y1="334.00" x2="495.80" y2="342.11" stroke="#666666" stroke-width="0.62" stroke-dasharray="1.6 0.8"/>
<line x1="460.00" y1="340.53" x2="495.80" y2="359.75" stroke="#666666" stroke-width="0.62" stroke-dasharray="1.6 0.8"/>
<line x1="460.00" y1="347.81" x2="495.80" y2="361.44" stroke="#666666" stroke-width="0.62" stroke-dasharray="1.6 0.8"/>
<line x1="460.00" y1="371.77" x2="495.80" y2="330.67" stroke="#666666" stroke-width="0.62" stroke-dasharray="1.6 0.8"/>
<line x1="460.00" y1="353.43" x2="495.80" y2="336.97" stroke="#666666" stroke-width="0.62" stroke-dasharray="1.6 0.8"/>
<line x1="460.00" y1="371.21" x2="495.80" y2="343.17" stroke="#666666" stroke-width="0.62" stroke-dasharray="1.6 0.8"/>
<line x1="460.00" y1="346.27" x2="495.80" y2="368.40" stroke="#666666" stroke-width="0.62" stroke-dasharray="1.6 0.8"/>
<line x1="460.00" y1="335.55" x2="495.80" y2="351.78" stroke="#666666" stroke-width="0.62" stroke-dasharray="1.6 0.8"/>
<line x1="460.00" y1="353.73" x2="495.80" y2="318.37" stroke="#666666" stroke-width="0.62" stroke-dasharray="1.6 0.8"/>
<line x1="460.00" y1="341.95" x2="495.80" y2="337.78" stroke="#666666" stroke-width="0.62" stroke-dasharray="1.6 0.8"/>
<line x1="460.00" y1="358.60" x2="495.80" y2="342.56" stroke="#666666" stroke-width="0.62" stroke-dasharray="1.6 0.8"/>
<line x1="460.00" y1="340.81" x2="495.80" y2="340.78" stroke="#666666" stroke-width="0.62" stroke-dasharray="1.6 0.8"/>
<line x1="460.00" y1="339.41" x2="495.80" y2="334.81" stroke="#666666" stroke-width="0.62" stroke-dasharray="1.6 0.8"/>
<line x1="460.00" y1="363.05" x2="495.80" y2="352.17" stroke="#666666" stroke-width="0.62" stroke-dasharray="1.6 0.8"/>
<line x1="460.00" y1="354.26" x2="495.80" y2="354.48" stroke="#666666" stroke-width="0.62" stroke-dasharray="1.6 0.8"/>
<line x1="460.00" y1="369.55" x2="495.80" y2="361.37" stroke="#666666" stroke-width="0.62" stroke-dasharray="1.6 0.8"/>
<line x1="460.00" y1="369.96" x2="495.80" y2="355.48" stroke="#666666" stroke-width="0.62" stroke-dasharray="1.6 0.8"/>
<line x1="460.00" y1="336.28" x2="495.80" y2="347.40" stroke="#666666" stroke-width="0.62" stroke-dasharray="1.6 0.8"/>
<line x1="460.00" y1="372.30" x2="495.80" y2="323.78" stroke="#666666" stroke-width="0.62" stroke-dasharray="1.6 0.8"/>
<line x1="460.00" y1="354.43" x2="495.80" y2="322.61" stroke="#666666" stroke-width="0.62" stroke-dasharray="1.6 0.8"/>
<line x1="460.00" y1="353.71" x2="495.80" y2="348.83" stroke="#666666" stroke-width="0.62" stroke-dasharray="1.6 0.8"/>
<line x1="460.00" y1="369.09" x2="495.80" y2="343.05" stroke="#666666" stroke-width="0.62" stroke-dasharray="1.6 0.8"/>
<line x1="460.00" y1="335.87" x2="495.80" y2="364.93" stroke="#666666" stroke-width="0.62" stroke-dasharray="1.6 0.8"/>
<line x1="460.00" y1="358.90" x2="495.80" y2="350.75" stroke="#666666" stroke-width="0.62" stroke-dasharray="1.6 0.8"/>
<line x1="460.00" y1="343.83" x2="495.80" y2="375.21" stroke="#666666" stroke-width="0.62" stroke-dasharray="1.6 0.8"/>
<line x1="460.00" y1="348.30" x2="495.80" y2="336.23" stroke="#666666" stroke-width="0.62" stroke-dasharray="1.6 0.8"/>
<line x1="460.00" y1="369.15" x2="495.80" y2="374.47" stroke="#666666" stroke-width="0.62" stroke-dasharray="1.6 0.8"/>
<line x1="460.00" y1="368.48" x2="495.80" y2="334.03" stroke="#666666" stroke-width="0.62" stroke-dasharray="1.6 0.8"/>
<line x1="460.00" y1="349.69" x2="495.80" y2="352.90" stroke="#666666" stroke-width="0.62" stroke-dasharray="1.6 0.8"/>
<line x1="460.00" y1="357.97" x2="495.80" y2="357.49" stroke="#666666" stroke-width="0.62" stroke-dasharray="1.6 0.8"/>
<line x1="460.00" y1="367.11" x2="495.80" y2="336.86" stroke="#666666" stroke-width="0.62" stroke-dasharray="1.6 0.8"/>
<line x1="460.00" y1="374.21" x2="495.80" y2="349.77" stroke="#666666" stroke-width="0.62" stroke-dasharray="1.6 0.8"/>
<line x1="460.00" y1="367.85" x2="495.80" y2="369.80" stroke="#666666" stroke-width="0.62" stroke-dasharray="1.6 0.8"/>
<line x1="460.00" y1="361.60" x2="495.80" y2="352.49" stroke="#666666" stroke-width="0.62" stroke-dasharray="1.6 0.8"/>
<line x1="460.00" y1="362.75" x2="495.80" y2="332.56" stroke="#666666" stroke-width="0.62" stroke-dasharray="1.6 0.8"/>
<line x1="460.00" y1="333.25" x2="495.80" y2="325.90" stroke="#666666" stroke-width="0.62" stroke-dasharray="1.6 0.8"/>
<line x1="460.00" y1="336.01" x2="495.80" y2="331.27" stroke="#666666" stroke-width="0.62" stroke-dasharray="1.6 0.8"/>
<line x1="460.00" y1="338.79" x2="495.80" y2="347.01" stroke="#666666" stroke-width="0.62" stroke-dasharray="1.6 0.8"/>
<line x1="460.00" y1="360.76" x2="495.80" y2="375.09" stroke="#666666" stroke-width="0.62" stroke-dasharray="1.6 0.8"/>
<line x1="460.00" y1="361.92" x2="495.80" y2="339.35" stroke="#666666" stroke-width="0.62" stroke-dasharray="1.6 0.8"/>
<line x1="460.00" y1="333.12" x2="495.80" y2="335.11" stroke="#666666" stroke-width="0.62" stroke-dasharray="1.6 0.8"/>
<line x1="460.00" y1="337.67" x2="495.80" y2="334.46" stroke="#666666" stroke-width="0.62" stroke-dasharray="1.6 0.8"/>
<line x1="460.00" y1="370.86" x2="495.80" y2="351.15" stroke="#666666" stroke-width="0.62" stroke-dasharray="1.6 0.8"/>
<line x1="460.00" y1="352.05" x2="495.80" y2="344.62" stroke="#666666" stroke-width="0.62" stroke-dasharray="1.6 0.8"/>
<line x1="460.00" y1="333.37" x2="495.80" y2="334.24" stroke="#666666" stroke-width="0.62" stroke-dasharray="1.6 0.8"/>
<line x1="460.00" y1="364.34" x2="495.80" y2="364.60" stroke="#666666" stroke-width="0.62" stroke-dasharray="1.6 0.8"/>
<line x1="460.00" y1="345.34" x2="495.80" y2="332.64" stroke="#666666" stroke-width="0.62" stroke-dasharray="1.6 0.8"/>
<line x1="460.00" y1="336.22" x2="495.80" y2="332.50" stroke="#666666" stroke-width="0.62" stroke-dasharray="1.6 0.8"/>
<line x1="460.00" y1="353.12" x2="495.80" y2="349.51" stroke="#666666" stroke-width="0.62" stroke-dasharray="1.6 0.8"/>
<line x1="460.00" y1="338.42" x2="495.80" y2="325.72" stroke="#666666" stroke-width="0.62" stroke-dasharray="1.6 0.8"/>
<line x1="460.00" y1="371.75" x2="495.80" y2="329.55" stroke="#666666" stroke-width="0.62" stroke-dasharray="1.6 0.8"/>
<line x1="460.00" y1="351.66" x2="495.80" y2="346.74" stroke="#666666" stroke-width="0.62" stroke-dasharray="1.6 0.8"/>
<line x1="460.00" y1="354.10" x2="495.80" y2="332.65" stroke="#666666" stroke-width="0.62" stroke-dasharray="1.6 0.8"/>
<line x1="460.00" y1="353.65" x2="495.80" y2="327.81" stroke="#666666" stroke-width="0.62" stroke-dasharray="1.6 0.8"/>
<line x1="460.00" y1="344.48" x2="495.80" y2="351.31" stroke="#666666" stroke-width="0.62" stroke-dasharray="1.6 0.8"/>
<line x1="460.00" y1="345.84" x2="495.80" y2="337.12" stroke="#666666" stroke-width="0.62" stroke-dasharray="1.6 0.8"/>
<line x1="460.00" y1="372.06" x2="495.80" y2="346.93" stroke="#666666" stroke-width="0.62" stroke-dasharray="1.6 0.8"/>
<line x1="460.00" y1="361.01" x2="495.80" y2="359.67" stroke="#666666" stroke-width="0.62" stroke-dasharray="1.6 0.8"/>
<line x1="460.00" y1="333.28" x2="495.80" y2="332.56" stroke="#666666" stroke-width="0.62" stroke-dasharray="1.6 0.8"/>
<circle cx="495.80" cy="346.09" r="2.55" fill="#f8d4d4" stroke="#e79c9c" stroke-width="0.85" fill-opacity="0.7"/>
<circle cx="495.80" cy="356.41" r="2.55" fill="#f8d4d4" stroke="#e79c9c" stroke-width="0.85" fill-opacity="0.7"/>
<circle cx="495.80" cy="321.55" r="2.55" fill="#f8d4d4" stroke="#e79c9c" stroke-width="0.85" fill-opacity="0.7"/>
<circle cx="495.80" cy="375.61" r="2.55" fill="#f8d4d4" stroke="#e79c9c" stroke-width="0.85" fill-opacity="0.7"/>
<circle cx="495.80" cy="336.05" r="2.55" fill="#f8d4d4" stroke="#e79c9c" stroke-width="0.85" fill-opacity="0.7"/>
<circle cx="495.80" cy="360.68" r="2.55" fill="#f8d4d4" stroke="#e79c9c" stroke-width="0.85" fill-opacity="0.7"/>
<circle cx="495.80" cy="347.19" r="2.55" fill="#f8d4d4" stroke="#e79c9c" stroke-width="0.85" fill-opacity="0.7"/>
<circle cx="495.80" cy="371.45" r="2.55" fill="#f8d4d4" stroke="#e79c9c" stroke-width="0.85" fill-opacity="0.7"/>
<circle cx="495.80" cy="344.34" r="2.55" fill="#f8d4d4" stroke="#e79c9c" stroke-width="0.85" fill-opacity="0.7"/>
<circle cx="495.80" cy="348.33" r="2.55" fill="#f8d4d4" stroke="#e79c9c" stroke-width="0.85" fill-opacity="0.7"/>
<circle cx="495.80" cy="310.42" r="2.55" fill="#f8d4d4" stroke="#e79c9c" stroke-width="0.85" fill-opacity="0.7"/>
<circle cx="495.80" cy="368.38" r="2.55" fill="#f8d4d4" stroke="#e79c9c" stroke-width="0.85" fill-opacity="0.7"/>
<circle cx="495.80" cy="337.71" r="2.55" fill="#f8d4d4" stroke="#e79c9c" stroke-width="0.85" fill-opacity="0.7"/>
<circle cx="495.80" cy="365.18" r="2.55" fill="#f8d4d4" stroke="#e79c9c" stroke-width="0.85" fill-opacity="0.7"/>
<circle cx="495.80" cy="328.29" r="2.55" fill="#f8d4d4" stroke="#e79c9c" stroke-width="0.85" fill-opacity="0.7"/>
<circle cx="495.80" cy="350.68" r="2.55" fill="#f8d4d4" stroke="#e79c9c" stroke-width="0.85" fill-opacity="0.7"/>
<circle cx="495.80" cy="344.23" r="2.55" fill="#f8d4d4" stroke="#e79c9c" stroke-width="0.85" fill-opacity="0.7"/>
<circle cx="495.80" cy="346.92" r="2.55" fill="#f8d4d4" stroke="#e79c9c" stroke-width="0.85" fill-opacity="0.7"/>
<circle cx="495.80" cy="335.84" r="2.55" fill="#f8d4d4" stroke="#e79c9c" stroke-width="0.85" fill-opacity="0.7"/>
<circle cx="495.80" cy="358.10" r="2.55" fill="#f8d4d4" stroke="#e79c9c" stroke-width="0.85" fill-opacity="0.7"/>
<circle cx="495.80" cy="315.19" r="2.55" fill="#f8d4d4" stroke="#e79c9c" stroke-width="0.85" fill-opacity="0.7"/>
<circle cx="495.80" cy="330.84" r="2.55" fill="#f8d4d4" stroke="#e79c9c" stroke-width="0.85" fill-opacity="0.7"/>
<circle cx="495.80" cy="342.11" r="2.55" fill="#f8d4d4" stroke="#e79c9c" stroke-width="0.85" fill-opacity="0.7"/>
<circle cx="495.80" cy="359.75" r="2.55" fill="#f8d4d4" stroke="#e79c9c" stroke-width="0.85" fill-opacity="0.7"/>
<circle cx="495.80" cy="361.44" r="2.55" fill="#f8d4d4" stroke="#e79c9c" stroke-width="0.85" fill-opacity="0.7"/>
<circle cx="495.80" cy="330.67" r="2.55" fill="#f8d4d4" stroke="#e79c9c" stroke-width="0.85" fill-opacity="0.7"/>
<circle cx="495.80" cy="336.97" r="2.55" fill="#f8d4d4" stroke="#e79c9c" stroke-width="0.85" fill-opacity="0.7"/>
<circle cx="495.80" cy="343.17" r="2.55" fill="#f8d4d4" stroke="#e79c9c" stroke-width="0.85" fill-opacity="0.7"/>
<circle cx="495.80" cy="368.40" r="2.55" fill="#f8d4d4" stroke="#e79c9c" stroke-width="0.85" fill-opacity="0.7"/>
<circle cx="495.80" cy="351.78" r="2.55" fill="#f8d4d4" stroke="#e79c9c" stroke-width="0.85" fill-opacity="0.7"/>
<circle cx="495.80" cy="318.37" r="2.55" fill="#f8d4d4" stroke="#e79c9c" stroke-width="0.85" fill-opacity="0.7"/>
<circle cx="495.80" cy="337.78" r="2.55" fill="#f8d4d4" stroke="#e79c9c" stroke-width="0.85" fill-opacity="0.7"/>
<circle cx="495.80" cy="342.56" r="2.55" fill="#f8d4d4" stroke="#e79c9c" stroke-width="0.85" fill-opacity="0.7"/>
<circle cx="495.80" cy="340.78" r="2.55" fill="#f8d4d4" stroke="#e79c9c" stroke-width="0.85" fill-opacity="0.7"/>
<circle cx="495.80" cy="334.81" r="2.55" fill="#f8d4d4" stroke="#e79c9c" stroke-width="0.85" fill-opacity="0.7"/>
<circle cx="495.80" cy="352.17" r="2.55" fill="#f8d4d4" stroke="#e79c9c" stroke-width="0.85" fill-opacity="0.7"/>
<circle cx="495.80" cy="354.48" r="2.55" fill="#f8d4d4" stroke="#e79c9c" stroke-width="0.85" fill-opacity="0.7"/>
<circle cx="495.80" cy="361.37" r="2.55" fill="#f8d4d4" stroke="#e79c9c" stroke-width="0.85" fill-opacity="0.7"/>
<circle cx="495.80" cy="355.48" r="2.55" fill="#f8d4d4" stroke="#e79c9c" stroke-width="0.85" fill-opacity="0.7"/>
<circle cx="495.80" cy="347.40" r="2.55" fill="#f8d4d4" stroke="#e79c9c" stroke-width="0.85" fill-opacity="0.7"/>
<circle cx="495.80" cy="323.78" r="2.55" fill="#f8d4d4" stroke="#e79c9c" stroke-width="0.85" fill-opacity="0.7"/>
<circle cx="495.80" cy="322.61" r="2.55" fill="#f8d4d4" stroke="#e79c9c" stroke-width="0.85" fill-opacity="0.7"/>
<circle cx="495.80" cy="348.83" r="2.55" fill="#f8d4d4" stroke="#e79c9c" stroke-width="0.85" fill-opacity="0.7"/>
<circle cx="495.80" cy="343.05" r="2.55" fill="#f8d4d4" stroke="#e79c9c" stroke-width="0.85" fill-opacity="0.7"/>
<circle cx="495.80" cy="364.93" r="2.55" fill="#f8d4d4" stroke="#e79c9c" stroke-width="0.85" fill-opacity="0.7"/>
<circle cx="495.80" cy="350.75" r="2.55" fill="#f8d4d4" stroke="#e79c9c" stroke-width="0.85" fill-opacity="0.7"/>
<circle cx="495.80" cy="375.21" r="2.55" fill="#f8d4d4" stroke="#e79c9c" stroke-width="0.85" fill-opacity="0.7"/>
<circle cx="495.80" cy="336.23" r="2.55" fill="#f8d4d4" stroke="#e79c9c" stroke-width="0.85" fill-opacity="0.7"/>
<circle cx="495.80" cy="374.47" r="2.55" fill="#f8d4d4" stroke="#e79c9c" stroke-width="0.85" fill-opacity="0.7"/>
<circle cx="495.80" cy="334.03" r="2.55" fill="#f8d4d4" stroke="#e79c9c" stroke-width="0.85" fill-opacity="0.7"/>
<circle cx="495.80" cy="352.90" r="2.55" fill="#f8d4d4" stroke="#e79c9c" stroke-width="0.85" fill-opacity="0.7"/>
<circle cx="495.80" cy="357.49" r="2.55" fill="#f8d4d4" stroke="#e79c9c" stroke-width="0.85" fill-opacity="0.7"/>
<circle cx="495.80" cy="336.86" r="2.55" fill="#f8d4d4" stroke="#e79c9c" stroke-width="0.85" fill-opacity="0.7"/>
<circle cx="495.80" cy="349.77" r="2.55" fill="#f8d4d4" stroke="#e79c9c" stroke-width="0.85" fill-opacity="0.7"/>
<circle cx="495.80" cy="369.80" r="2.55" fill="#f8d4d4" stroke="#e79c9c" stroke-width="0.85" fill-opacity="0.7"/>
<circle cx="495.80" cy="352.49" r="2.55" fill="#f8d4d4" stroke="#e79c9c" stroke-width="0.85" fill-opacity="0.7"/>
<circle cx="495.80" cy="332.56" r="2.55" fill="#f8d4d4" stroke="#e79c9c" stroke-width="0.85" fill-opacity="0.7"/>
<circle cx="495.80" cy="325.90" r="2.55" fill="#f8d4d4" stroke="#e79c9c" stroke-width="0.85" fill-opacity="0.7"/>
<circle cx="495.80" cy="331.27" r="2.55" fill="#f8d4d4" stroke="#e79c9c" stroke-width="0.85" fill-opacity="0.7"/>
<circle cx="495.80" cy="347.01" r="2.55" fill="#f8d4d4" stroke="#e79c9c" stroke-width="0.85" fill-opacity="0.7"/>
<circle cx="495.80" cy="375.09" r="2.55" fill="#f8d4d4" stroke="#e79c9c" stroke-width="0.85" fill-opacity="0.7"/>
<circle cx="495.80" cy="339.35" r="2.55" fill="#f8d4d4" stroke="#e79c9c" stroke-width="0.85" fill-opacity="0.7"/>
<circle cx="495.80" cy="335.11" r="2.55" fill="#f8d4d4" stroke="#e79c9c" stroke-width="0.85" fill-opacity="0.7"/>
<circle cx="495.80" cy="334.46" r="2.55" fill="#f8d4d4" stroke="#e79c9c" stroke-width="0.85" fill-opacity="0.7"/>
<circle cx="495.80" cy="351.15" r="2.55" fill="#f8d4d4" stroke="#e79c9c" stroke-width="0.85" fill-opacity="0.7"/>
<circle cx="495.80" cy="344.62" r="2.55" fill="#f8d4d4" stroke="#e79c9c" stroke-width="0.85" fill-opacity="0.7"/>
<circle cx="495.80" cy="334.24" r="2.55" fill="#f8d4d4" stroke="#e79c9c" stroke-width="0.85" fill-opacity="0.7"/>
<circle cx="495.80" cy="364.60" r="2.55" fill="#f8d4d4" stroke="#e79c9c" stroke-width="0.85" fill-opacity="0.7"/>
<circle cx="495.80" cy="332.64" r="2.55" fill="#f8d4d4" stroke="#e79c9c" stroke-width="0.85" fill-opacity="0.7"/>
<circle cx="495.80" cy="332.50" r="2.55" fill="#f8d4d4" stroke="#e79c9c" stroke-width="0.85" fill-opacity="0.7"/>
<circle cx="495.80" cy="349.51" r="2.55" fill="#f8d4d4" stroke="#e79c9c" stroke-width="0.85" fill-opacity="0.7"/>
<circle cx="495.80" cy="325.72" r="2.55" fill="#f8d4d4" stroke="#e79c9c" stroke-width="0.85" fill-opacity="0.7"/>
<circle cx="495.80" cy="329.55" r="2.55" fill="#f8d4d4" stroke="#e79c9c" stroke-width="0.85" fill-opacity="0.7"/>
<circle cx="495.80" cy="346.74" r="2.55" fill="#f8d4d4" stroke="#e79c9c" stroke-width="0.85" fill-opacity="0.7"/>
<circle cx="495.80" cy="332.65" r="2.55" fill="#f8d4d4" stroke="#e79c9c" stroke-width="0.85" fill-opacity="0.7"/>
<circle cx="495.80" cy="327.81" r="2.55" fill="#f8d4d4" stroke="#e79c9c" stroke-width="0.85" fill-opacity="0.7"/>
<circle cx="495.80" cy="351.31" r="2.55" fill="#f8d4d4" stroke="#e79c9c" stroke-width="0.85" fill-opacity="0.7"/>
<circle cx="495.80" cy="337.12" r="2.55" fill="#f8d4d4" stroke="#e79c9c" stroke-width="0.85" fill-opacity="0.7"/>
<circle cx="495.80" cy="346.93" r="2.55" fill="#f8d4d4" stroke="#e79c9c" stroke-width="0.85" fill-opacity="0.7"/>
<circle cx="495.80" cy="359.67" r="2.55" fill="#f8d4d4" stroke="#e79c9c" stroke-width="0.85" fill-opacity="0.7"/>
<circle cx="495.80" cy="332.56" r="2.55" fill="#f8d4d4" stroke="#e79c9c" stroke-width="0.85" fill-opacity="0.7"/>
<circle cx="460.00" cy="374.66" r="2.55" fill="#babaf4" stroke="#9898ea" stroke-width="0.85" fill-opacity="0.7"/>
<circle cx="460.00" cy="332.68" r="2.55" fill="#babaf4" stroke="#9898ea" stroke-width="0.85" fill-opacity="0.7"/>
<circle cx="460.00" cy="362.32" r="2.55" fill="#babaf4" stroke="#9898ea" stroke-width="0.85" fill-opacity="0.7"/>
<circle cx="460.00" cy="372.12" r="2.55" fill="#babaf4" stroke="#9898ea" stroke-width="0.85" fill-opacity="0.7"/>
<circle cx="460.00" cy="334.40" r="2.55" fill="#babaf4" stroke="#9898ea" stroke-width="0.85" fill-opacity="0.7"/>
<circle cx="460.00" cy="352.17" r="2.55" fill="#babaf4" stroke="#9898ea" stroke-width="0.85" fill-opacity="0.7"/>
<circle cx="460.00" cy="344.36" r="2.55" fill="#babaf4" stroke="#9898ea" stroke-width="0.85" fill-opacity="0.7"/>
<circle cx="460.00" cy="334.02" r="2.55" fill="#babaf4" stroke="#9898ea" stroke-width="0.85" fill-opacity="0.7"/>
<circle cx="460.00" cy="335.50" r="2.55" fill="#babaf4" stroke="#9898ea" stroke-width="0.85" fill-opacity="0.7"/>
<circle cx="460.00" cy="362.89" r="2.55" fill="#babaf4" stroke="#9898ea" stroke-width="0.85" fill-opacity="0.7"/>
<circle cx="460.00" cy="365.71" r="2.55" fill="#babaf4" stroke="#9898ea" stroke-width="0.85" fill-opacity="0.7"/>
<circle cx="460.00" cy="333.65" r="2.55" fill="#babaf4" stroke="#9898ea" stroke-width="0.85" fill-opacity="0.7"/>
<circle cx="460.00" cy="338.68" r="2.55" fill="#babaf4" stroke="#9898ea" stroke-width="0.85" fill-opacity="0.7"/>
<circle cx="460.00" cy="343.51" r="2.55" fill="#babaf4" stroke="#9898ea" stroke-width="0.85" fill-opacity="0.7"/>
<circle cx="460.00" cy="340.14" r="2.55" fill="#babaf4" stroke="#9898ea" stroke-width="0.85" fill-opacity="0.7"/>
<circle cx="460.00" cy="361.56" r="2.55" fill="#babaf4" stroke="#9898ea" stroke-width="0.85" fill-opacity="0.7"/>
<circle cx="460.00" cy="371.63" r="2.55" fill="#babaf4" stroke="#9898ea" stroke-width="0.85" fill-opacity="0.7"/>
<circle cx="460.00" cy="343.99" r="2.55" fill="#babaf4" stroke="#9898ea" stroke-width="0.85" fill-opacity="0.7"/>
<circle cx="460.00" cy="350.27" r="2.55" fill="#babaf4" stroke="#9898ea" stroke-width="0.85" fill-opacity="0.7"/>
<circle cx="460.00" cy="359.01" r="2.55" fill="#babaf4" stroke="#9898ea" stroke-width="0.85" fill-opacity="0.7"/>
<circle cx="460.00" cy="374.33" r="2.55" fill="#babaf4" stroke="#9898ea" stroke-width="0.85" fill-opacity="0.7"/>
<circle cx="460.00" cy="357.07" r="2.55" fill="#babaf4" stroke="#9898ea" stroke-width="0.85" fill-opacity="0.7"/>
<circle cx="460.00" cy="334.00" r="2.55" fill="#babaf4" stroke="#9898ea" stroke-width="0.85" fill-opacity="0.7"/>
<circle cx="460.00" cy="340.53" r="2.55" fill="#babaf4" stroke="#9898ea" stroke-width="0.85" fill-opacity="0.7"/>
<circle cx="460.00" cy="347.81" r="2.55" fill="#babaf4" stroke="#9898ea" stroke-width="0.85" fill-opacity="0.7"/>
<circle cx="460.00" cy="371.77" r="2.55" fill="#babaf4" stroke="#9898ea" stroke-width="0.85" fill-opacity="0.7"/>
<circle cx="460.00" cy="353.43" r="2.55" fill="#babaf4" stroke="#9898ea" stroke-width="0.85" fill-opacity="0.7"/>
<circle cx="460.00" cy="371.21" r="2.55" fill="#babaf4" stroke="#9898ea" stroke-width="0.85" fill-opacity="0.7"/>
<circle cx="460.00" cy="346.27" r="2.55" fill="#babaf4" stroke="#9898ea" stroke-width="0.85" fill-opacity="0.7"/>
<circle cx="460.00" cy="335.55" r="2.55" fill="#babaf4" stroke="#9898ea" stroke-width="0.85" fill-opacity="0.7"/>
<circle cx="460.00" cy="353.73" r="2.55" fill="#babaf4" stroke="#9898ea" stroke-width="0.85" fill-opacity="0.7"/>
<circle cx="460.00" cy="341.95" r="2.55" fill="#babaf4" stroke="#9898ea" stroke-width="0.85" fill-opacity="0.7"/>
<circle cx="460.00" cy="358.60" r="2.55" fill="#babaf4" stroke="#9898ea" stroke-width="0.85" fill-opacity="0.7"/>
<circle cx="460.00" cy="340.81" r="2.55" fill="#babaf4" stroke="#9898ea" stroke-width="0.85" fill-opacity="0.7"/>
<circle cx="460.00" cy="339.41" r="2.55" fill="#babaf4" stroke="#9898ea" stroke-width="0.85" fill-opacity="0.7"/>
<circle cx="460.00" cy="363.05" r="2.55" fill="#babaf4" stroke="#9898ea" stroke-width="0.85" fill-opacity="0.7"/>
<circle cx="460.00" cy="354.26" r="2.55" fill="#babaf4" stroke="#9898ea" stroke-width="0.85" fill-opacity="0.7"/>
<circle cx="460.00" cy="369.55" r="2.55" fill="#babaf4" stroke="#9898ea" stroke-width="0.85" fill-opacity="0.7"/>
<circle cx="460.00" cy="369.96" r="2.55" fill="#babaf4" stroke="#9898ea" stroke-width="0.85" fill-opacity="0.7"/>
<circle cx="460.00" cy="336.28" r="2.55" fill="#babaf4" stroke="#9898ea" stroke-width="0.85" fill-opacity="0.7"/>
<circle cx="460.00" cy="372.30" r="2.55" fill="#babaf4" stroke="#9898ea" stroke-width="0.85" fill-opacity="0.7"/>
<circle cx="460.00" cy="354.43" r="2.55" fill="#babaf4" stroke="#9898ea" stroke-width="0.85" fill-opacity="0.7"/>
<circle cx="460.00" cy="353.71" r="2.55" fill="#babaf4" stroke="#9898ea" stroke-width="0.85" fill-opacity="0.7"/>
<circle cx="460.00" cy="369.09" r="2.55" fill="#babaf4" stroke="#9898ea" stroke-width="0.85" fill-opacity="0.7"/>
<circle cx="460.00" cy="335.87" r="2.55" fill="#babaf4" stroke="#9898ea" stroke-width="0.85" fill-opacity="0.7"/>
<circle cx="460.00" cy="358.90" r="2.55" fill="#babaf4" stroke="#9898ea" stroke-width="0.85" fill-opacity="0.7"/>
<circle cx="460.00" cy="343.83" r="2.55" fill="#babaf4" stroke="#9898ea" stroke-width="0.85" fill-opacity="0.7"/>
<circle cx="460.00" cy="348.30" r="2.55" fill="#babaf4" stroke="#9898ea" stroke-width="0.85" fill-opacity="0.7"/>
<circle cx="460.00" cy="369.15" r="2.55" fill="#babaf4" stroke="#9898ea" stroke-width="0.85" fill-opacity="0.7"/>
<circle cx="460.00" cy="368.48" r="2.55" fill="#babaf4" stroke="#9898ea" stroke-width="0.85" fill-opacity="0.7"/>
<circle cx="460.00" cy="349.69" r="2.55" fill="#babaf4" stroke="#9898ea" stroke-width="0.85" fill-opacity="0.7"/>
<circle cx="460.00" cy="357.97" r="2.55" fill="#babaf4" stroke="#9898ea" stroke-width="0.85" fill-opacity="0.7"/>
<circle cx="460.00" cy="367.11" r="2.55" fill="#babaf4" stroke="#9898ea" stroke-width="0.85" fill-opacity="0.7"/>
<circle cx="460.00" cy="374.21" r="2.55" fill="#babaf4" stroke="#9898ea" stroke-width="0.85" fill-opacity="0.7"/>
<circle cx="460.00" cy="367.85" r="2.55" fill="#babaf4" stroke="#9898ea" stroke-width="0.85" fill-opacity="0.7"/>
<circle cx="460.00" cy="361.60" r="2.55" fill="#babaf4" stroke="#9898ea" stroke-width="0.85" fill-opacity="0.7"/>
<circle cx="460.00" cy="362.75" r="2.55" fill="#babaf4" stroke="#9898ea" stroke-width="0.85" fill-opacity="0.7"/>
<circle cx="460.00" cy="333.25" r="2.55" fill="#babaf4" stroke="#9898ea" stroke-width="0.85" fill-opacity="0.7"/>
<circle cx="460.00" cy="336.01" r="2.55" fill="#babaf4" stroke="#9898ea" stroke-width="0.85" fill-opacity="0.7"/>
<circle cx="460.00" cy="338.79" r="2.55" fill="#babaf4" stroke="#9898ea" stroke-width="0.85" fill-opacity="0.7"/>
<circle cx="460.00" cy="360.76" r="2.55" fill="#babaf4" stroke="#9898ea" stroke-width="0.85" fill-opacity="0.7"/>
<circle cx="460.00" cy="361.92" r="2.55" fill="#babaf4" stroke="#9898ea" stroke-width="0.85" fill-opacity="0.7"/>
<circle cx="460.00" cy="333.12" r="2.55" fill="#babaf4" stroke="#9898ea" stroke-width="0.85" fill-opacity="0.7"/>
<circle cx="460.00" cy="337.67" r="2.55" fill="#babaf4" stroke="#9898ea" stroke-width="0.85" fill-opacity="0.7"/>
<circle cx="460.00" cy="370.86" r="2.55" fill="#babaf4" stroke="#9898ea" stroke-width="0.85" fill-opacity="0.7"/>
<circle cx="460.00" cy="352.05" r="2.55" fill="#babaf4" stroke="#9898ea" stroke-width="0.85" fill-opacity="0.7"/>
<circle cx="460.00" cy="333.37" r="2.55" fill="#babaf4" stroke="#9898ea" stroke-width="0.85" fill-opacity="0.7"/>
<circle cx="460.00" cy="364.34" r="2.55" fill="#babaf4" stroke="#9898ea" stroke-width="0.85" fill-opacity="0.7"/>
<circle cx="460.00" cy="345.34" r="2.55" fill="#babaf4" stroke="#9898ea" stroke-width="0.85" fill-opacity="0.7"/>
<circle cx="460.00" cy="336.22" r="2.55" fill="#babaf4" stroke="#9898ea" stroke-width="0.85" fill-opacity="0.7"/>
<circle cx="460.00" cy="353.12" r="2.55" fill="#babaf4" stroke="#9898ea" stroke-width="0.85" fill-opacity="0.7"/>
<circle cx="460.00" cy="338.42" r="2.55" fill="#babaf4" stroke="#9898ea" stroke-width="0.85" fill-opacity="0.7"/>
<circle cx="460.00" cy="371.75" r="2.55" fill="#babaf4" stroke="#9898ea" stroke-width="0.85" fill-opacity="0.7"/>
<circle cx="460.00" cy="351.66" r="2.55" fill="#babaf4" stroke="#9898ea" stroke-width="0.85" fill-opacity="0.7"/>
<circle cx="460.00" cy="354.10" r="2.55" fill="#babaf4" stroke="#9898ea" stroke-width="0.85" fill-opacity="0.7"/>
<circle cx="460.00" cy="353.65" r="2.55" fill="#babaf4" stroke="#9898ea" stroke-width="0.85" fill-opacity="0.7"/>
<circle cx="460.00" cy="344.48" r="2.55" fill="#babaf4" stroke="#9898ea" stroke-width="0.85" fill-opacity="0.7"/>
<circle cx="460.00" cy="345.84" r="2.55" fill="#babaf4" stroke="#9898ea" stroke-width="0.85" fill-opacity="0.7"/>
<circle cx="460.00" cy="372.06" r="2.55" fill="#babaf4" stroke="#9898ea" stroke-width="0.85" fill-opacity="0.7"/>
<circle cx="460.00" cy="361.01" r="2.55" fill="#babaf4" stroke="#9898ea" stroke-width="0.85" fill-opacity="0.7"/>
<circle cx="460.00" cy="333.28" r="2.55" fill="#babaf4" stroke="#9898ea" stroke-width="0.85" fill-opacity="0.7"/>
<rect x="445.50" y="294.20" width="63.40" height="98.30" fill="none" stroke="#2a2a2a" stroke-width="1.05"/>
<line x1="443.50" y1="313.60" x2="445.50" y2="313.60" stroke="#2a2a2a" stroke-width="1"/>
<text x="441.60" y="316.10" font-size="7.0" text-anchor="end" stroke="#1e1e1e">0.02</text>
<line x1="443.50" y1="345.40" x2="445.50" y2="345.40" stroke="#2a2a2a" stroke-width="1"/>
<text x="441.60" y="347.90" font-size="7.0" text-anchor="end" stroke="#1e1e1e">0.01</text>
<line x1="443.50" y1="377.20" x2="445.50" y2="377.20" stroke="#2a2a2a" stroke-width="1"/>
<text x="441.60" y="379.70" font-size="7.0" text-anchor="end" stroke="#1e1e1e">0.00</text>
<line x1="460.00" y1="392.50" x2="460.00" y2="394.50" stroke="#2a2a2a" stroke-width="1"/>
<line x1="495.80" y1="392.50" x2="495.80" y2="394.50" stroke="#2a2a2a" stroke-width="1"/>
<text x="475.60" y="287.50" font-size="7.4" text-anchor="middle" stroke="#1e1e1e">Our own CRC tissues</text>
<text x="459.50" y="303.20" font-size="7.8" stroke="#1e1e1e"><tspan font-style="italic">P</tspan> = 0.014</text>
<text transform="translate(424.40,342.30) rotate(-90)" font-size="7.6" text-anchor="middle" stroke="#1e1e1e">Relative <tspan font-style="italic">AP002754.2</tspan> expression</text>
<text x="461.20" y="402.90" font-size="7.6" text-anchor="middle" stroke="#1e1e1e">Normal</text>
<text x="496.90" y="402.90" font-size="7.6" text-anchor="middle" stroke="#1e1e1e">Tumor</text>
<text x="461.20" y="412.10" font-size="7.6" text-anchor="middle" stroke="#1e1e1e">(<tspan font-style="italic">N</tspan> = 81)</text>
<text x="496.90" y="412.10" font-size="7.6" text-anchor="middle" stroke="#1e1e1e">(<tspan font-style="italic">N</tspan> = 81)</text>
<path d="M30.10,532.42 C36.25,531.50 54.70,529.48 67.00,526.92 C79.30,524.35 91.60,520.68 103.90,517.01 C116.20,513.34 134.65,506.91 140.80,504.90" fill="none" stroke="#7c7c7c" stroke-width="0.8"/>
<line x1="30.10" y1="531.32" x2="30.10" y2="533.52" stroke="#7c7c7c" stroke-width="0.9"/>
<line x1="29.00" y1="531.32" x2="31.20" y2="531.32" stroke="#7c7c7c" stroke-width="0.6"/>
<line x1="29.00" y1="533.52" x2="31.20" y2="533.52" stroke="#7c7c7c" stroke-width="0.6"/>
<circle cx="30.10" cy="532.42" r="1.10" fill="#4a4a4a" stroke="none" stroke-width="1"/>
<line x1="67.00" y1="524.71" x2="67.00" y2="529.12" stroke="#7c7c7c" stroke-width="0.9"/>
<line x1="65.90" y1="524.71" x2="68.10" y2="524.71" stroke="#7c7c7c" stroke-width="0.6"/>
<line x1="65.90" y1="529.12" x2="68.10" y2="529.12" stroke="#7c7c7c" stroke-width="0.6"/>
<circle cx="67.00" cy="526.92" r="1.10" fill="#4a4a4a" stroke="none" stroke-width="1"/>
<line x1="103.90" y1="515.54" x2="103.90" y2="518.48" stroke="#7c7c7c" stroke-width="0.9"/>
<line x1="102.80" y1="515.54" x2="105.00" y2="515.54" stroke="#7c7c7c" stroke-width="0.6"/>
<line x1="102.80" y1="518.48" x2="105.00" y2="518.48" stroke="#7c7c7c" stroke-width="0.6"/>
<circle cx="103.90" cy="517.01" r="1.10" fill="#4a4a4a" stroke="none" stroke-width="1"/>
<line x1="140.80" y1="501.59" x2="140.80" y2="508.20" stroke="#7c7c7c" stroke-width="0.9"/>
<line x1="139.70" y1="501.59" x2="141.90" y2="501.59" stroke="#7c7c7c" stroke-width="0.6"/>
<line x1="139.70" y1="508.20" x2="141.90" y2="508.20" stroke="#7c7c7c" stroke-width="0.6"/>
<circle cx="140.80" cy="504.90" r="1.10" fill="#4a4a4a" stroke="none" stroke-width="1"/>
<path d="M30.10,532.79 C36.25,531.20 54.70,528.08 67.00,523.25 C79.30,518.41 91.60,509.48 103.90,503.80 C116.20,498.11 134.65,491.56 140.80,489.12" fill="none" stroke="#7676d2" stroke-width="0.8"/>
<line x1="30.10" y1="531.69" x2="30.10" y2="533.89" stroke="#7676d2" stroke-width="0.9"/>
<line x1="29.00" y1="531.69" x2="31.20" y2="531.69" stroke="#7676d2" stroke-width="0.6"/>
<line x1="29.00" y1="533.89" x2="31.20" y2="533.89" stroke="#7676d2" stroke-width="0.6"/>
<circle cx="30.10" cy="532.79" r="1.10" fill="#3c3cb4" stroke="none" stroke-width="1"/>
<line x1="67.00" y1="521.41" x2="67.00" y2="525.08" stroke="#7676d2" stroke-width="0.9"/>
<line x1="65.90" y1="521.41" x2="68.10" y2="521.41" stroke="#7676d2" stroke-width="0.6"/>
<line x1="65.90" y1="525.08" x2="68.10" y2="525.08" stroke="#7676d2" stroke-width="0.6"/>
<circle cx="67.00" cy="523.25" r="1.10" fill="#3c3cb4" stroke="none" stroke-width="1"/>
<line x1="103.90" y1="501.23" x2="103.90" y2="506.36" stroke="#7676d2" stroke-width="0.9"/>
<line x1="102.80" y1="501.23" x2="105.00" y2="501.23" stroke="#7676d2" stroke-width="0.6"/>
<line x1="102.80" y1="506.36" x2="105.00" y2="506.36" stroke="#7676d2" stroke-width="0.6"/>
<circle cx="103.90" cy="503.80" r="1.10" fill="#3c3cb4" stroke="none" stroke-width="1"/>
<line x1="140.80" y1="485.81" x2="140.80" y2="492.42" stroke="#7676d2" stroke-width="0.9"/>
<line x1="139.70" y1="485.81" x2="141.90" y2="485.81" stroke="#7676d2" stroke-width="0.6"/>
<line x1="139.70" y1="492.42" x2="141.90" y2="492.42" stroke="#7676d2" stroke-width="0.6"/>
<circle cx="140.80" cy="489.12" r="1.10" fill="#3c3cb4" stroke="none" stroke-width="1"/>
<path d="M30.10,532.79 C36.25,530.83 54.70,526.67 67.00,521.04 C79.30,515.42 91.60,506.18 103.90,499.02 C116.20,491.87 134.65,481.59 140.80,478.11" fill="none" stroke="#d87474" stroke-width="0.8"/>
<line x1="30.10" y1="531.69" x2="30.10" y2="533.89" stroke="#d87474" stroke-width="0.9"/>
<line x1="29.00" y1="531.69" x2="31.20" y2="531.69" stroke="#d87474" stroke-width="0.6"/>
<line x1="29.00" y1="533.89" x2="31.20" y2="533.89" stroke="#d87474" stroke-width="0.6"/>
<circle cx="30.10" cy="532.79" r="1.10" fill="#c03c3c" stroke="none" stroke-width="1"/>
<line x1="67.00" y1="518.84" x2="67.00" y2="523.25" stroke="#d87474" stroke-width="0.9"/>
<line x1="65.90" y1="518.84" x2="68.10" y2="518.84" stroke="#d87474" stroke-width="0.6"/>
<line x1="65.90" y1="523.25" x2="68.10" y2="523.25" stroke="#d87474" stroke-width="0.6"/>
<circle cx="67.00" cy="521.04" r="1.10" fill="#c03c3c" stroke="none" stroke-width="1"/>
<line x1="103.90" y1="496.09" x2="103.90" y2="501.96" stroke="#d87474" stroke-width="0.9"/>
<line x1="102.80" y1="496.09" x2="105.00" y2="496.09" stroke="#d87474" stroke-width="0.6"/>
<line x1="102.80" y1="501.96" x2="105.00" y2="501.96" stroke="#d87474" stroke-width="0.6"/>
<circle cx="103.90" cy="499.02" r="1.10" fill="#c03c3c" stroke="none" stroke-width="1"/>
<line x1="140.80" y1="474.44" x2="140.80" y2="481.77" stroke="#d87474" stroke-width="0.9"/>
<line x1="139.70" y1="474.44" x2="141.90" y2="474.44" stroke="#d87474" stroke-width="0.6"/>
<line x1="139.70" y1="481.77" x2="141.90" y2="481.77" stroke="#d87474" stroke-width="0.6"/>
<circle cx="140.80" cy="478.11" r="1.10" fill="#c03c3c" stroke="none" stroke-width="1"/>
<path d="M30.10,532.79 C36.25,530.22 54.70,524.96 67.00,517.37 C79.30,509.79 91.60,496.09 103.90,487.28 C116.20,478.47 134.65,468.32 140.80,464.53" fill="none" stroke="#d4da5c" stroke-width="0.8"/>
<line x1="30.10" y1="531.69" x2="30.10" y2="533.89" stroke="#d4da5c" stroke-width="0.9"/>
<line x1="29.00" y1="531.69" x2="31.20" y2="531.69" stroke="#d4da5c" stroke-width="0.6"/>
<line x1="29.00" y1="533.89" x2="31.20" y2="533.89" stroke="#d4da5c" stroke-width="0.6"/>
<circle cx="30.10" cy="532.79" r="1.10" fill="#b4bc3c" stroke="none" stroke-width="1"/>
<line x1="67.00" y1="514.44" x2="67.00" y2="520.31" stroke="#d4da5c" stroke-width="0.9"/>
<line x1="65.90" y1="514.44" x2="68.10" y2="514.44" stroke="#d4da5c" stroke-width="0.6"/>
<line x1="65.90" y1="520.31" x2="68.10" y2="520.31" stroke="#d4da5c" stroke-width="0.6"/>
<circle cx="67.00" cy="517.37" r="1.10" fill="#b4bc3c" stroke="none" stroke-width="1"/>
<line x1="103.90" y1="482.88" x2="103.90" y2="491.68" stroke="#d4da5c" stroke-width="0.9"/>
<line x1="102.80" y1="482.88" x2="105.00" y2="482.88" stroke="#d4da5c" stroke-width="0.6"/>
<line x1="102.80" y1="491.68" x2="105.00" y2="491.68" stroke="#d4da5c" stroke-width="0.6"/>
<circle cx="103.90" cy="487.28" r="1.10" fill="#b4bc3c" stroke="none" stroke-width="1"/>
<line x1="140.80" y1="460.86" x2="140.80" y2="468.20" stroke="#d4da5c" stroke-width="0.9"/>
<line x1="139.70" y1="460.86" x2="141.90" y2="460.86" stroke="#d4da5c" stroke-width="0.6"/>
<line x1="139.70" y1="468.20" x2="141.90" y2="468.20" stroke="#d4da5c" stroke-width="0.6"/>
<circle cx="140.80" cy="464.53" r="1.10" fill="#b4bc3c" stroke="none" stroke-width="1"/>
<line x1="25.10" y1="453.50" x2="25.10" y2="546.50" stroke="#2a2a2a" stroke-width="1.1"/>
<line x1="25.10" y1="546.00" x2="143.80" y2="546.00" stroke="#2a2a2a" stroke-width="1.1"/>
<line x1="23.10" y1="546.00" x2="25.10" y2="546.00" stroke="#2a2a2a" stroke-width="1"/>
<text x="20.70" y="548.50" font-size="7.3" text-anchor="end" stroke="#1e1e1e">0.0</text>
<line x1="23.10" y1="527.65" x2="25.10" y2="527.65" stroke="#2a2a2a" stroke-width="1"/>
<text x="20.70" y="530.15" font-size="7.3" text-anchor="end" stroke="#1e1e1e">0.5</text>
<line x1="23.10" y1="509.30" x2="25.10" y2="509.30" stroke="#2a2a2a" stroke-width="1"/>
<text x="20.70" y="511.80" font-size="7.3" text-anchor="end" stroke="#1e1e1e">1.0</text>
<line x1="23.10" y1="490.95" x2="25.10" y2="490.95" stroke="#2a2a2a" stroke-width="1"/>
<text x="20.70" y="493.45" font-size="7.3" text-anchor="end" stroke="#1e1e1e">1.5</text>
<line x1="23.10" y1="472.60" x2="25.10" y2="472.60" stroke="#2a2a2a" stroke-width="1"/>
<text x="20.70" y="475.10" font-size="7.3" text-anchor="end" stroke="#1e1e1e">2.0</text>
<line x1="23.10" y1="454.25" x2="25.10" y2="454.25" stroke="#2a2a2a" stroke-width="1"/>
<text x="20.70" y="456.75" font-size="7.3" text-anchor="end" stroke="#1e1e1e">2.5</text>
<line x1="30.10" y1="546.00" x2="30.10" y2="548.00" stroke="#2a2a2a" stroke-width="1"/>
<text x="30.10" y="556.90" font-size="7.3" text-anchor="middle" stroke="#1e1e1e">24</text>
<line x1="67.00" y1="546.00" x2="67.00" y2="548.00" stroke="#2a2a2a" stroke-width="1"/>
<text x="67.00" y="556.90" font-size="7.3" text-anchor="middle" stroke="#1e1e1e">48</text>
<line x1="103.90" y1="546.00" x2="103.90" y2="548.00" stroke="#2a2a2a" stroke-width="1"/>
<text x="103.90" y="556.90" font-size="7.3" text-anchor="middle" stroke="#1e1e1e">72</text>
<line x1="140.80" y1="546.00" x2="140.80" y2="548.00" stroke="#2a2a2a" stroke-width="1"/>
<text x="140.80" y="556.90" font-size="7.3" text-anchor="middle" stroke="#1e1e1e">96</text>
<text x="84.50" y="568.10" font-size="7.6" text-anchor="middle" stroke="#1e1e1e">Time (h)</text>
<text x="87.40" y="435.20" font-size="7.5" text-anchor="middle" stroke="#1e1e1e">HCT116</text>
<line x1="31.20" y1="448.70" x2="40.70" y2="448.70" stroke="#7c7c7c" stroke-width="0.9"/>
<circle cx="35.95" cy="448.70" r="1.20" fill="#4a4a4a" stroke="none" stroke-width="1"/>
<text x="44.10" y="451.10" font-size="6.7" stroke="#1e1e1e">pcDNA-Control</text>
<line x1="31.20" y1="456.50" x2="40.70" y2="456.50" stroke="#7676d2" stroke-width="0.9"/>
<circle cx="35.95" cy="456.50" r="1.20" fill="#3c3cb4" stroke="none" stroke-width="1"/>
<text x="44.10" y="458.90" font-size="6.7" stroke="#1e1e1e">AP002754.2</text>
<line x1="31.20" y1="464.30" x2="40.70" y2="464.30" stroke="#d87474" stroke-width="0.9"/>
<circle cx="35.95" cy="464.30" r="1.20" fill="#c03c3c" stroke="none" stroke-width="1"/>
<text x="44.10" y="466.70" font-size="6.7" stroke="#1e1e1e">FADS2</text>
<line x1="31.20" y1="472.10" x2="40.70" y2="472.10" stroke="#d4da5c" stroke-width="0.9"/>
<circle cx="35.95" cy="472.10" r="1.20" fill="#b4bc3c" stroke="none" stroke-width="1"/>
<text x="44.10" y="474.50" font-size="6.7" stroke="#1e1e1e">FADS2+AP002754.2</text>
<text transform="translate(6.40,500.80) rotate(-90)" font-size="7.6" text-anchor="middle" stroke="#1e1e1e">Optical density at 450 nm</text>
<polyline points="143.80,461.90 149.30,461.90 149.30,488.40 143.80,488.40" fill="none" stroke="#3a3a3a" stroke-width="0.9"/>
<polyline points="149.30,474.00 154.60,474.00 154.60,504.00 143.80,504.00" fill="none" stroke="#3a3a3a" stroke-width="0.9"/>
<text x="145.70" y="479.19" font-size="8.6" text-anchor="middle" font-weight="bold" fill="#111" stroke="#111" style="stroke-width:0.45px;stroke-linejoin:round">*</text>
<text x="148.70" y="504.29" font-size="8.6" text-anchor="middle" font-weight="bold" fill="#111" stroke="#111" style="stroke-width:0.45px;stroke-linejoin:round">**</text>
<path d="M195.00,528.66 C201.10,525.91 219.40,518.57 231.60,512.14 C243.80,505.71 256.00,496.84 268.20,490.11 C280.40,483.38 298.70,474.81 304.80,471.75" fill="none" stroke="#7c7c7c" stroke-width="0.8"/>
<line x1="195.00" y1="527.44" x2="195.00" y2="529.89" stroke="#7c7c7c" stroke-width="0.9"/>
<line x1="193.90" y1="527.44" x2="196.10" y2="527.44" stroke="#7c7c7c" stroke-width="0.6"/>
<line x1="193.90" y1="529.89" x2="196.10" y2="529.89" stroke="#7c7c7c" stroke-width="0.6"/>
<circle cx="195.00" cy="528.66" r="1.10" fill="#4a4a4a" stroke="none" stroke-width="1"/>
<line x1="231.60" y1="510.92" x2="231.60" y2="513.36" stroke="#7c7c7c" stroke-width="0.9"/>
<line x1="230.50" y1="510.92" x2="232.70" y2="510.92" stroke="#7c7c7c" stroke-width="0.6"/>
<line x1="230.50" y1="513.36" x2="232.70" y2="513.36" stroke="#7c7c7c" stroke-width="0.6"/>
<circle cx="231.60" cy="512.14" r="1.10" fill="#4a4a4a" stroke="none" stroke-width="1"/>
<line x1="268.20" y1="487.66" x2="268.20" y2="492.56" stroke="#7c7c7c" stroke-width="0.9"/>
<line x1="267.10" y1="487.66" x2="269.30" y2="487.66" stroke="#7c7c7c" stroke-width="0.6"/>
<line x1="267.10" y1="492.56" x2="269.30" y2="492.56" stroke="#7c7c7c" stroke-width="0.6"/>
<circle cx="268.20" cy="490.11" r="1.10" fill="#4a4a4a" stroke="none" stroke-width="1"/>
<line x1="304.80" y1="467.46" x2="304.80" y2="476.03" stroke="#7c7c7c" stroke-width="0.9"/>
<line x1="303.70" y1="467.46" x2="305.90" y2="467.46" stroke="#7c7c7c" stroke-width="0.6"/>
<line x1="303.70" y1="476.03" x2="305.90" y2="476.03" stroke="#7c7c7c" stroke-width="0.6"/>
<circle cx="304.80" cy="471.75" r="1.10" fill="#4a4a4a" stroke="none" stroke-width="1"/>
<path d="M195.00,529.28 C201.10,527.03 219.40,520.81 231.60,515.81 C243.80,510.81 256.00,504.18 268.20,499.29 C280.40,494.39 298.70,488.58 304.80,486.44" fill="none" stroke="#7676d2" stroke-width="0.8"/>
<line x1="195.00" y1="528.05" x2="195.00" y2="530.50" stroke="#7676d2" stroke-width="0.9"/>
<line x1="193.90" y1="528.05" x2="196.10" y2="528.05" stroke="#7676d2" stroke-width="0.6"/>
<line x1="193.90" y1="530.50" x2="196.10" y2="530.50" stroke="#7676d2" stroke-width="0.6"/>
<circle cx="195.00" cy="529.28" r="1.10" fill="#3c3cb4" stroke="none" stroke-width="1"/>
<line x1="231.60" y1="513.98" x2="231.60" y2="517.65" stroke="#7676d2" stroke-width="0.9"/>
<line x1="230.50" y1="513.98" x2="232.70" y2="513.98" stroke="#7676d2" stroke-width="0.6"/>
<line x1="230.50" y1="517.65" x2="232.70" y2="517.65" stroke="#7676d2" stroke-width="0.6"/>
<circle cx="231.60" cy="515.81" r="1.10" fill="#3c3cb4" stroke="none" stroke-width="1"/>
<line x1="268.20" y1="496.84" x2="268.20" y2="501.74" stroke="#7676d2" stroke-width="0.9"/>
<line x1="267.10" y1="496.84" x2="269.30" y2="496.84" stroke="#7676d2" stroke-width="0.6"/>
<line x1="267.10" y1="501.74" x2="269.30" y2="501.74" stroke="#7676d2" stroke-width="0.6"/>
<circle cx="268.20" cy="499.29" r="1.10" fill="#3c3cb4" stroke="none" stroke-width="1"/>
<line x1="304.80" y1="482.76" x2="304.80" y2="490.11" stroke="#7676d2" stroke-width="0.9"/>
<line x1="303.70" y1="482.76" x2="305.90" y2="482.76" stroke="#7676d2" stroke-width="0.6"/>
<line x1="303.70" y1="490.11" x2="305.90" y2="490.11" stroke="#7676d2" stroke-width="0.6"/>
<circle cx="304.80" cy="486.44" r="1.10" fill="#3c3cb4" stroke="none" stroke-width="1"/>
<path d="M195.00,529.28 C201.10,527.34 219.40,521.63 231.60,517.65 C243.80,513.67 256.00,508.77 268.20,505.41 C280.40,502.04 298.70,498.78 304.80,497.45" fill="none" stroke="#d87474" stroke-width="0.8"/>
<line x1="195.00" y1="528.05" x2="195.00" y2="530.50" stroke="#d87474" stroke-width="0.9"/>
<line x1="193.90" y1="528.05" x2="196.10" y2="528.05" stroke="#d87474" stroke-width="0.6"/>
<line x1="193.90" y1="530.50" x2="196.10" y2="530.50" stroke="#d87474" stroke-width="0.6"/>
<circle cx="195.00" cy="529.28" r="1.10" fill="#c03c3c" stroke="none" stroke-width="1"/>
<line x1="231.60" y1="515.81" x2="231.60" y2="519.48" stroke="#d87474" stroke-width="0.9"/>
<line x1="230.50" y1="515.81" x2="232.70" y2="515.81" stroke="#d87474" stroke-width="0.6"/>
<line x1="230.50" y1="519.48" x2="232.70" y2="519.48" stroke="#d87474" stroke-width="0.6"/>
<circle cx="231.60" cy="517.65" r="1.10" fill="#c03c3c" stroke="none" stroke-width="1"/>
<line x1="268.20" y1="502.96" x2="268.20" y2="507.86" stroke="#d87474" stroke-width="0.9"/>
<line x1="267.10" y1="502.96" x2="269.30" y2="502.96" stroke="#d87474" stroke-width="0.6"/>
<line x1="267.10" y1="507.86" x2="269.30" y2="507.86" stroke="#d87474" stroke-width="0.6"/>
<circle cx="268.20" cy="505.41" r="1.10" fill="#c03c3c" stroke="none" stroke-width="1"/>
<line x1="304.80" y1="494.39" x2="304.80" y2="500.51" stroke="#d87474" stroke-width="0.9"/>
<line x1="303.70" y1="494.39" x2="305.90" y2="494.39" stroke="#d87474" stroke-width="0.6"/>
<line x1="303.70" y1="500.51" x2="305.90" y2="500.51" stroke="#d87474" stroke-width="0.6"/>
<circle cx="304.80" cy="497.45" r="1.10" fill="#c03c3c" stroke="none" stroke-width="1"/>
<path d="M195.00,529.28 C201.10,527.75 219.40,522.85 231.60,520.10 C243.80,517.34 256.00,515.00 268.20,512.75 C280.40,510.51 298.70,507.65 304.80,506.63" fill="none" stroke="#d4da5c" stroke-width="0.8"/>
<line x1="195.00" y1="528.05" x2="195.00" y2="530.50" stroke="#d4da5c" stroke-width="0.9"/>
<line x1="193.90" y1="528.05" x2="196.10" y2="528.05" stroke="#d4da5c" stroke-width="0.6"/>
<line x1="193.90" y1="530.50" x2="196.10" y2="530.50" stroke="#d4da5c" stroke-width="0.6"/>
<circle cx="195.00" cy="529.28" r="1.10" fill="#b4bc3c" stroke="none" stroke-width="1"/>
<line x1="231.60" y1="518.26" x2="231.60" y2="521.93" stroke="#d4da5c" stroke-width="0.9"/>
<line x1="230.50" y1="518.26" x2="232.70" y2="518.26" stroke="#d4da5c" stroke-width="0.6"/>
<line x1="230.50" y1="521.93" x2="232.70" y2="521.93" stroke="#d4da5c" stroke-width="0.6"/>
<circle cx="231.60" cy="520.10" r="1.10" fill="#b4bc3c" stroke="none" stroke-width="1"/>
<line x1="268.20" y1="510.30" x2="268.20" y2="515.20" stroke="#d4da5c" stroke-width="0.9"/>
<line x1="267.10" y1="510.30" x2="269.30" y2="510.30" stroke="#d4da5c" stroke-width="0.6"/>
<line x1="267.10" y1="515.20" x2="269.30" y2="515.20" stroke="#d4da5c" stroke-width="0.6"/>
<circle cx="268.20" cy="512.75" r="1.10" fill="#b4bc3c" stroke="none" stroke-width="1"/>
<line x1="304.80" y1="503.57" x2="304.80" y2="509.69" stroke="#d4da5c" stroke-width="0.9"/>
<line x1="303.70" y1="503.57" x2="305.90" y2="503.57" stroke="#d4da5c" stroke-width="0.6"/>
<line x1="303.70" y1="509.69" x2="305.90" y2="509.69" stroke="#d4da5c" stroke-width="0.6"/>
<circle cx="304.80" cy="506.63" r="1.10" fill="#b4bc3c" stroke="none" stroke-width="1"/>
<line x1="189.20" y1="453.50" x2="189.20" y2="546.30" stroke="#2a2a2a" stroke-width="1.1"/>
<line x1="189.20" y1="545.80" x2="307.80" y2="545.80" stroke="#2a2a2a" stroke-width="1.1"/>
<line x1="187.20" y1="545.80" x2="189.20" y2="545.80" stroke="#2a2a2a" stroke-width="1"/>
<text x="184.80" y="548.30" font-size="7.3" text-anchor="end" stroke="#1e1e1e">0.0</text>
<line x1="187.20" y1="515.20" x2="189.20" y2="515.20" stroke="#2a2a2a" stroke-width="1"/>
<text x="184.80" y="517.70" font-size="7.3" text-anchor="end" stroke="#1e1e1e">0.5</text>
<line x1="187.20" y1="484.60" x2="189.20" y2="484.60" stroke="#2a2a2a" stroke-width="1"/>
<text x="184.80" y="487.10" font-size="7.3" text-anchor="end" stroke="#1e1e1e">1.0</text>
<line x1="187.20" y1="454.00" x2="189.20" y2="454.00" stroke="#2a2a2a" stroke-width="1"/>
<text x="184.80" y="456.50" font-size="7.3" text-anchor="end" stroke="#1e1e1e">1.5</text>
<line x1="195.00" y1="545.80" x2="195.00" y2="547.80" stroke="#2a2a2a" stroke-width="1"/>
<text x="195.00" y="557.70" font-size="7.3" text-anchor="middle" stroke="#1e1e1e">24</text>
<line x1="231.60" y1="545.80" x2="231.60" y2="547.80" stroke="#2a2a2a" stroke-width="1"/>
<text x="231.60" y="557.70" font-size="7.3" text-anchor="middle" stroke="#1e1e1e">48</text>
<line x1="268.20" y1="545.80" x2="268.20" y2="547.80" stroke="#2a2a2a" stroke-width="1"/>
<text x="268.20" y="557.70" font-size="7.3" text-anchor="middle" stroke="#1e1e1e">72</text>
<line x1="304.80" y1="545.80" x2="304.80" y2="547.80" stroke="#2a2a2a" stroke-width="1"/>
<text x="304.80" y="557.70" font-size="7.3" text-anchor="middle" stroke="#1e1e1e">96</text>
<text x="249.00" y="568.90" font-size="7.6" text-anchor="middle" stroke="#1e1e1e">Time (h)</text>
<text x="250.00" y="435.20" font-size="7.5" text-anchor="middle" stroke="#1e1e1e">HCT116</text>
<line x1="198.50" y1="448.60" x2="208.00" y2="448.60" stroke="#7c7c7c" stroke-width="0.9"/>
<circle cx="203.25" cy="448.60" r="1.20" fill="#4a4a4a" stroke="none" stroke-width="1"/>
<text x="212.30" y="451.00" font-size="6.7" stroke="#1e1e1e">siControl</text>
<line x1="198.50" y1="456.40" x2="208.00" y2="456.40" stroke="#7676d2" stroke-width="0.9"/>
<circle cx="203.25" cy="456.40" r="1.20" fill="#3c3cb4" stroke="none" stroke-width="1"/>
<text x="212.30" y="458.80" font-size="6.7" stroke="#1e1e1e">siAP002754.2</text>
<line x1="198.50" y1="464.20" x2="208.00" y2="464.20" stroke="#d87474" stroke-width="0.9"/>
<circle cx="203.25" cy="464.20" r="1.20" fill="#c03c3c" stroke="none" stroke-width="1"/>
<text x="212.30" y="466.60" font-size="6.7" stroke="#1e1e1e">siFADS2</text>
<line x1="198.50" y1="472.00" x2="208.00" y2="472.00" stroke="#d4da5c" stroke-width="0.9"/>
<circle cx="203.25" cy="472.00" r="1.20" fill="#b4bc3c" stroke="none" stroke-width="1"/>
<text x="212.30" y="474.40" font-size="6.7" stroke="#1e1e1e">siFADS2+siAP002754.2</text>
<text transform="translate(171.90,500.00) rotate(-90)" font-size="7.6" text-anchor="middle" stroke="#1e1e1e">Optical density at 450 nm</text>
<polyline points="309.40,482.30 314.80,482.30 314.80,505.80 309.40,505.80" fill="none" stroke="#3a3a3a" stroke-width="0.9"/>
<polyline points="307.30,470.60 320.40,470.60 320.40,494.20 314.80,494.20" fill="none" stroke="#3a3a3a" stroke-width="0.9"/>
<text x="311.00" y="499.29" font-size="8.6" text-anchor="middle" font-weight="bold" fill="#111" stroke="#111" style="stroke-width:0.45px;stroke-linejoin:round">*</text>
<text x="314.10" y="469.69" font-size="8.6" text-anchor="middle" font-weight="bold" fill="#111" stroke="#111" style="stroke-width:0.45px;stroke-linejoin:round">**</text>
<path d="M371.30,544.80 C375.25,544.77 386.88,544.72 395.00,544.62 C403.12,544.51 412.50,544.43 420.00,544.16 C427.50,543.89 434.67,543.48 440.00,542.97 C445.33,542.47 448.33,541.98 452.00,541.15 C455.67,540.31 459.00,539.17 462.00,537.95 C465.00,536.74 467.50,535.52 470.00,533.84 C472.50,532.17 474.83,530.19 477.00,527.91 C479.17,525.63 481.33,522.81 483.00,520.15 C484.67,517.49 485.83,514.98 487.00,511.93 C488.17,508.89 489.12,505.24 490.00,501.89 C490.88,498.54 491.63,495.65 492.30,491.85 C492.97,488.04 493.33,483.32 494.00,479.06 C494.67,474.80 495.47,469.78 496.30,466.28 C497.13,462.78 497.88,460.20 499.00,458.06 C500.12,455.93 502.33,454.26 503.00,453.50" fill="none" stroke="#f0a838" stroke-width="1.45" stroke-linejoin="round"/>
<path d="M371.30,544.80 C375.25,544.75 386.88,544.66 395.00,544.53 C403.12,544.39 412.50,544.30 420.00,543.98 C427.50,543.66 434.67,543.16 440.00,542.61 C445.33,542.06 448.33,541.54 452.00,540.69 C455.67,539.84 459.00,538.71 462.00,537.50 C465.00,536.28 467.50,534.91 470.00,533.39 C472.50,531.87 474.83,530.42 477.00,528.37 C479.17,526.31 481.25,523.65 483.00,521.06 C484.75,518.48 486.17,515.89 487.50,512.84 C488.83,509.80 489.98,506.15 491.00,502.80 C492.02,499.45 492.80,496.41 493.60,492.76 C494.40,489.11 494.93,485.15 495.80,480.89 C496.67,476.63 497.72,471.00 498.80,467.19 C499.88,463.39 501.13,460.35 502.30,458.06 C503.47,455.78 505.22,454.26 505.80,453.50" fill="none" stroke="#8787e4" stroke-width="1.45" stroke-linejoin="round"/>
<rect x="371.30" y="453.50" width="137.30" height="91.30" fill="none" stroke="#2a2a2a" stroke-width="1.05"/>
<line x1="369.30" y1="544.80" x2="371.30" y2="544.80" stroke="#2a2a2a" stroke-width="1"/>
<text x="366.60" y="547.30" font-size="7.3" text-anchor="end" stroke="#1e1e1e">0.0</text>
<line x1="369.30" y1="526.54" x2="371.30" y2="526.54" stroke="#2a2a2a" stroke-width="1"/>
<text x="366.60" y="529.04" font-size="7.3" text-anchor="end" stroke="#1e1e1e">0.2</text>
<line x1="369.30" y1="508.28" x2="371.30" y2="508.28" stroke="#2a2a2a" stroke-width="1"/>
<text x="366.60" y="510.78" font-size="7.3" text-anchor="end" stroke="#1e1e1e">0.4</text>
<line x1="369.30" y1="490.02" x2="371.30" y2="490.02" stroke="#2a2a2a" stroke-width="1"/>
<text x="366.60" y="492.52" font-size="7.3" text-anchor="end" stroke="#1e1e1e">0.6</text>
<line x1="369.30" y1="471.76" x2="371.30" y2="471.76" stroke="#2a2a2a" stroke-width="1"/>
<text x="366.60" y="474.26" font-size="7.3" text-anchor="end" stroke="#1e1e1e">0.8</text>
<line x1="369.30" y1="453.50" x2="371.30" y2="453.50" stroke="#2a2a2a" stroke-width="1"/>
<text x="366.60" y="456.00" font-size="7.3" text-anchor="end" stroke="#1e1e1e">1.0</text>
<line x1="371.30" y1="544.80" x2="371.30" y2="546.80" stroke="#2a2a2a" stroke-width="1"/>
<text x="371.30" y="557.70" font-size="7.0" text-anchor="middle" stroke="#1e1e1e">0</text>
<line x1="394.18" y1="544.80" x2="394.18" y2="546.80" stroke="#2a2a2a" stroke-width="1"/>
<text x="394.18" y="557.70" font-size="7.0" text-anchor="middle" stroke="#1e1e1e">3,000</text>
<line x1="417.06" y1="544.80" x2="417.06" y2="546.80" stroke="#2a2a2a" stroke-width="1"/>
<text x="417.06" y="557.70" font-size="7.0" text-anchor="middle" stroke="#1e1e1e">6,000</text>
<line x1="439.94" y1="544.80" x2="439.94" y2="546.80" stroke="#2a2a2a" stroke-width="1"/>
<text x="439.94" y="557.70" font-size="7.0" text-anchor="middle" stroke="#1e1e1e">9,000</text>
<line x1="462.82" y1="544.80" x2="462.82" y2="546.80" stroke="#2a2a2a" stroke-width="1"/>
<text x="462.52" y="557.70" font-size="7.0" text-anchor="middle" stroke="#1e1e1e">12,000</text>
<line x1="485.70" y1="544.80" x2="485.70" y2="546.80" stroke="#2a2a2a" stroke-width="1"/>
<text x="484.40" y="557.70" font-size="7.0" text-anchor="middle" stroke="#1e1e1e">15,000</text>
<line x1="508.58" y1="544.80" x2="508.58" y2="546.80" stroke="#2a2a2a" stroke-width="1"/>
<text x="509.08" y="557.70" font-size="7.0" text-anchor="middle" stroke="#1e1e1e">18,000</text>
<text x="439.60" y="568.70" font-size="7.6" text-anchor="middle" stroke="#1e1e1e">Genes list</text>
<text transform="translate(350.20,499.50) rotate(-90)" font-size="7.6" text-anchor="middle" stroke="#1e1e1e">CERES Scores by CRISPR</text>
<circle cx="375.50" cy="430.20" r="2.60" fill="#e52a2a" stroke="none" stroke-width="1"/>
<circle cx="375.50" cy="444.20" r="2.60" fill="#dbe12e" stroke="none" stroke-width="1"/>
<text x="388.80" y="433.00" font-size="7.6" stroke="#1e1e1e"><tspan font-style="italic">FADS2</tspan> in SW403 CRC cell line</text>
<text x="388.80" y="447.20" font-size="7.6" stroke="#1e1e1e"><tspan font-style="italic">FADS2</tspan> in MDST8  CRC cell line</text>
<line x1="464.20" y1="482.70" x2="486.00" y2="474.60" stroke="#d9474f" stroke-width="0.9"/>
<polygon points="486.00,474.60 482.30,478.43 480.70,474.12" fill="#d9474f"/>
<line x1="464.20" y1="486.50" x2="486.00" y2="489.00" stroke="#d9474f" stroke-width="0.9"/>
<polygon points="486.00,489.00 480.97,490.74 481.49,486.17" fill="#d9474f"/>
<circle cx="494.00" cy="476.50" r="3.00" fill="#dde22e" stroke="none" stroke-width="1"/>
<circle cx="495.60" cy="487.70" r="3.10" fill="#e6262a" stroke="none" stroke-width="1"/>
<text x="437.20" y="488.20" font-size="7.6" font-style="italic" fill="#dc5a66" stroke="#dc5a66" style="stroke-width:0.1px">FADS2</text>
<line x1="43.10" y1="614.00" x2="43.10" y2="686.80" stroke="#2a2a2a" stroke-width="1.1"/>
<line x1="43.10" y1="686.30" x2="207.50" y2="686.30" stroke="#2a2a2a" stroke-width="1.1"/>
<line x1="41.10" y1="686.30" x2="43.10" y2="686.30" stroke="#2a2a2a" stroke-width="1"/>
<text x="39.20" y="688.80" font-size="7.2" text-anchor="end" stroke="#1e1e1e">0</text>
<line x1="41.10" y1="668.50" x2="43.10" y2="668.50" stroke="#2a2a2a" stroke-width="1"/>
<text x="39.20" y="671.00" font-size="7.2" text-anchor="end" stroke="#1e1e1e">100</text>
<line x1="41.10" y1="650.70" x2="43.10" y2="650.70" stroke="#2a2a2a" stroke-width="1"/>
<text x="39.20" y="653.20" font-size="7.2" text-anchor="end" stroke="#1e1e1e">200</text>
<line x1="41.10" y1="632.90" x2="43.10" y2="632.90" stroke="#2a2a2a" stroke-width="1"/>
<text x="39.20" y="635.40" font-size="7.2" text-anchor="end" stroke="#1e1e1e">300</text>
<line x1="41.10" y1="615.10" x2="43.10" y2="615.10" stroke="#2a2a2a" stroke-width="1"/>
<text x="39.20" y="617.60" font-size="7.2" text-anchor="end" stroke="#1e1e1e">400</text>
<line x1="62.70" y1="686.30" x2="62.70" y2="688.50" stroke="#2a2a2a" stroke-width="1"/>
<line x1="104.20" y1="686.30" x2="104.20" y2="688.50" stroke="#2a2a2a" stroke-width="1"/>
<line x1="145.60" y1="686.30" x2="145.60" y2="688.50" stroke="#2a2a2a" stroke-width="1"/>
<line x1="187.00" y1="686.30" x2="187.00" y2="688.50" stroke="#2a2a2a" stroke-width="1"/>
<text transform="translate(23.00,651.00) rotate(-90)" font-size="7.3" text-anchor="middle" stroke="#1e1e1e">Relative colony formation ability (%)</text>
<rect x="45.00" y="585.70" width="10.00" height="4.60" fill="#f6f6f6" stroke="#6e6e6e" stroke-width="0.9"/>
<text x="58.80" y="590.70" font-size="7.6" stroke="#1e1e1e">pcDNA-Control</text>
<rect x="45.00" y="597.90" width="10.00" height="4.60" fill="#f2f2fc" stroke="#6767e2" stroke-width="0.9"/>
<text x="58.80" y="602.90" font-size="7.6" stroke="#1e1e1e">AP002754.2</text>
<rect x="119.00" y="585.70" width="10.00" height="4.60" fill="#fdf2f4" stroke="#e98595" stroke-width="0.9"/>
<text x="132.50" y="590.70" font-size="7.6" stroke="#1e1e1e">FADS2</text>
<rect x="119.00" y="597.90" width="10.00" height="4.60" fill="#f8f5e6" stroke="#c6b277" stroke-width="0.9"/>
<text x="132.50" y="602.90" font-size="7.6" stroke="#1e1e1e">FADS2+AP002754.2</text>
<line x1="57.50" y1="617.60" x2="188.80" y2="617.60" stroke="#555" stroke-width="0.95"/>
<text x="117.50" y="615.73" font-size="7.5" text-anchor="middle" font-weight="bold" fill="#111" stroke="#111" style="stroke-width:0.45px;stroke-linejoin:round">**</text>
<text x="188.00" y="673.20" font-size="7.7" text-anchor="middle" stroke="#1e1e1e" style="stroke-width:0.5px">HCT116</text>
<line x1="62.70" y1="663.20" x2="62.70" y2="666.40" stroke="#6e6e6e" stroke-width="0.8"/>
<line x1="62.70" y1="671.50" x2="62.70" y2="674.70" stroke="#6e6e6e" stroke-width="0.8"/>
<line x1="56.15" y1="663.20" x2="69.25" y2="663.20" stroke="#6e6e6e" stroke-width="0.8"/>
<line x1="56.15" y1="674.70" x2="69.25" y2="674.70" stroke="#6e6e6e" stroke-width="0.8"/>
<rect x="49.60" y="666.40" width="26.20" height="5.10" fill="none" stroke="#6e6e6e" stroke-width="0.9"/>
<line x1="49.60" y1="668.60" x2="75.80" y2="668.60" stroke="#6e6e6e" stroke-width="0.8"/>
<circle cx="62.70" cy="663.20" r="1.55" fill="#fff" stroke="#6e6e6e" stroke-width="0.75"/>
<circle cx="62.70" cy="674.70" r="1.55" fill="#fff" stroke="#6e6e6e" stroke-width="0.75"/>
<circle cx="65.98" cy="667.24" r="1.55" fill="#fff" stroke="#6e6e6e" stroke-width="0.75"/>
<circle cx="62.34" cy="669.64" r="1.55" fill="#fff" stroke="#6e6e6e" stroke-width="0.75"/>
<circle cx="67.76" cy="667.50" r="1.55" fill="#fff" stroke="#6e6e6e" stroke-width="0.75"/>
<circle cx="62.92" cy="670.52" r="1.55" fill="#fff" stroke="#6e6e6e" stroke-width="0.75"/>
<circle cx="58.14" cy="668.98" r="1.55" fill="#fff" stroke="#6e6e6e" stroke-width="0.75"/>
<circle cx="60.47" cy="666.42" r="1.55" fill="#fff" stroke="#6e6e6e" stroke-width="0.75"/>
<line x1="104.30" y1="646.10" x2="104.30" y2="651.20" stroke="#6767e2" stroke-width="0.8"/>
<line x1="104.30" y1="663.40" x2="104.30" y2="664.30" stroke="#6767e2" stroke-width="0.8"/>
<line x1="97.65" y1="646.10" x2="110.95" y2="646.10" stroke="#6767e2" stroke-width="0.8"/>
<line x1="97.65" y1="664.30" x2="110.95" y2="664.30" stroke="#6767e2" stroke-width="0.8"/>
<rect x="91.00" y="651.20" width="26.60" height="12.20" fill="none" stroke="#6767e2" stroke-width="0.9"/>
<line x1="91.00" y1="659.50" x2="117.60" y2="659.50" stroke="#6767e2" stroke-width="0.8"/>
<circle cx="104.30" cy="646.10" r="1.55" fill="#fff" stroke="#6767e2" stroke-width="0.75"/>
<circle cx="104.30" cy="664.30" r="1.55" fill="#fff" stroke="#6767e2" stroke-width="0.75"/>
<circle cx="97.99" cy="662.89" r="1.55" fill="#fff" stroke="#6767e2" stroke-width="0.75"/>
<circle cx="113.05" cy="651.49" r="1.55" fill="#fff" stroke="#6767e2" stroke-width="0.75"/>
<circle cx="97.64" cy="653.45" r="1.55" fill="#fff" stroke="#6767e2" stroke-width="0.75"/>
<circle cx="101.59" cy="659.15" r="1.55" fill="#fff" stroke="#6767e2" stroke-width="0.75"/>
<circle cx="99.59" cy="662.05" r="1.55" fill="#fff" stroke="#6767e2" stroke-width="0.75"/>
<circle cx="101.13" cy="662.91" r="1.55" fill="#fff" stroke="#6767e2" stroke-width="0.75"/>
<line x1="145.65" y1="637.00" x2="145.65" y2="643.80" stroke="#e98595" stroke-width="0.8"/>
<line x1="145.65" y1="655.00" x2="145.65" y2="658.80" stroke="#e98595" stroke-width="0.8"/>
<line x1="139.07" y1="637.00" x2="152.23" y2="637.00" stroke="#e98595" stroke-width="0.8"/>
<line x1="139.07" y1="658.80" x2="152.23" y2="658.80" stroke="#e98595" stroke-width="0.8"/>
<rect x="132.50" y="643.80" width="26.30" height="11.20" fill="none" stroke="#e98595" stroke-width="0.9"/>
<line x1="132.50" y1="651.00" x2="158.80" y2="651.00" stroke="#e98595" stroke-width="0.8"/>
<circle cx="145.65" cy="637.00" r="1.55" fill="#fff" stroke="#e98595" stroke-width="0.75"/>
<circle cx="145.65" cy="658.80" r="1.55" fill="#fff" stroke="#e98595" stroke-width="0.75"/>
<circle cx="153.44" cy="654.16" r="1.55" fill="#fff" stroke="#e98595" stroke-width="0.75"/>
<circle cx="138.42" cy="653.80" r="1.55" fill="#fff" stroke="#e98595" stroke-width="0.75"/>
<circle cx="144.33" cy="650.43" r="1.55" fill="#fff" stroke="#e98595" stroke-width="0.75"/>
<circle cx="139.23" cy="649.74" r="1.55" fill="#fff" stroke="#e98595" stroke-width="0.75"/>
<circle cx="144.69" cy="645.95" r="1.55" fill="#fff" stroke="#e98595" stroke-width="0.75"/>
<circle cx="144.87" cy="646.28" r="1.55" fill="#fff" stroke="#e98595" stroke-width="0.75"/>
<line x1="186.90" y1="622.00" x2="186.90" y2="628.80" stroke="#c6b277" stroke-width="0.8"/>
<line x1="186.90" y1="638.80" x2="186.90" y2="643.00" stroke="#c6b277" stroke-width="0.8"/>
<line x1="180.35" y1="622.00" x2="193.45" y2="622.00" stroke="#c6b277" stroke-width="0.8"/>
<line x1="180.35" y1="643.00" x2="193.45" y2="643.00" stroke="#c6b277" stroke-width="0.8"/>
<rect x="173.80" y="628.80" width="26.20" height="10.00" fill="none" stroke="#c6b277" stroke-width="0.9"/>
<line x1="173.80" y1="633.80" x2="200.00" y2="633.80" stroke="#c6b277" stroke-width="0.8"/>
<circle cx="186.90" cy="622.00" r="1.55" fill="#fff" stroke="#c6b277" stroke-width="0.75"/>
<circle cx="186.90" cy="643.00" r="1.55" fill="#fff" stroke="#c6b277" stroke-width="0.75"/>
<circle cx="192.78" cy="635.92" r="1.55" fill="#fff" stroke="#c6b277" stroke-width="0.75"/>
<circle cx="195.52" cy="630.63" r="1.55" fill="#fff" stroke="#c6b277" stroke-width="0.75"/>
<circle cx="189.85" cy="630.74" r="1.55" fill="#fff" stroke="#c6b277" stroke-width="0.75"/>
<circle cx="191.36" cy="629.72" r="1.55" fill="#fff" stroke="#c6b277" stroke-width="0.75"/>
<circle cx="190.47" cy="630.31" r="1.55" fill="#fff" stroke="#c6b277" stroke-width="0.75"/>
<circle cx="191.50" cy="636.04" r="1.55" fill="#fff" stroke="#c6b277" stroke-width="0.75"/>
<line x1="308.00" y1="613.00" x2="308.00" y2="687.50" stroke="#2a2a2a" stroke-width="1.1"/>
<line x1="308.00" y1="687.00" x2="472.00" y2="687.00" stroke="#2a2a2a" stroke-width="1.1"/>
<line x1="306.00" y1="687.00" x2="308.00" y2="687.00" stroke="#2a2a2a" stroke-width="1"/>
<text x="304.20" y="689.50" font-size="7.2" text-anchor="end" stroke="#1e1e1e">0</text>
<line x1="306.00" y1="662.60" x2="308.00" y2="662.60" stroke="#2a2a2a" stroke-width="1"/>
<text x="304.20" y="665.10" font-size="7.2" text-anchor="end" stroke="#1e1e1e">50</text>
<line x1="306.00" y1="638.20" x2="308.00" y2="638.20" stroke="#2a2a2a" stroke-width="1"/>
<text x="304.20" y="640.70" font-size="7.2" text-anchor="end" stroke="#1e1e1e">100</text>
<line x1="306.00" y1="613.80" x2="308.00" y2="613.80" stroke="#2a2a2a" stroke-width="1"/>
<text x="304.20" y="616.30" font-size="7.2" text-anchor="end" stroke="#1e1e1e">150</text>
<line x1="328.20" y1="687.00" x2="328.20" y2="689.20" stroke="#2a2a2a" stroke-width="1"/>
<line x1="369.60" y1="687.00" x2="369.60" y2="689.20" stroke="#2a2a2a" stroke-width="1"/>
<line x1="411.20" y1="687.00" x2="411.20" y2="689.20" stroke="#2a2a2a" stroke-width="1"/>
<line x1="452.40" y1="687.00" x2="452.40" y2="689.20" stroke="#2a2a2a" stroke-width="1"/>
<text transform="translate(284.60,652.00) rotate(-90)" font-size="7.3" text-anchor="middle" stroke="#1e1e1e">Relative colony formation ability (%)</text>
<rect x="310.00" y="585.70" width="10.00" height="4.60" fill="#f6f6f6" stroke="#6e6e6e" stroke-width="0.9"/>
<text x="323.80" y="590.70" font-size="7.6" stroke="#1e1e1e">siControl</text>
<rect x="310.00" y="597.90" width="10.00" height="4.60" fill="#f2f2fc" stroke="#6767e2" stroke-width="0.9"/>
<text x="323.80" y="602.90" font-size="7.6" stroke="#1e1e1e">siAP002754.2</text>
<rect x="384.50" y="585.70" width="10.00" height="4.60" fill="#fdf2f4" stroke="#e98595" stroke-width="0.9"/>
<text x="397.00" y="590.70" font-size="7.6" stroke="#1e1e1e">siFADS2</text>
<rect x="384.50" y="597.90" width="10.00" height="4.60" fill="#f8f5e6" stroke="#c6b277" stroke-width="0.9"/>
<text x="397.00" y="602.90" font-size="7.6" stroke="#1e1e1e">siFADS2+siAP002754.2</text>
<line x1="320.00" y1="622.00" x2="466.30" y2="622.00" stroke="#555" stroke-width="0.95"/>
<text x="390.00" y="619.83" font-size="7.5" text-anchor="middle" font-weight="bold" fill="#111" stroke="#111" style="stroke-width:0.45px;stroke-linejoin:round">**</text>
<text x="436.30" y="641.30" font-size="7.6" text-anchor="middle" stroke="#1e1e1e">HCT116</text>
<line x1="328.15" y1="630.50" x2="328.15" y2="634.50" stroke="#6e6e6e" stroke-width="0.8"/>
<line x1="328.15" y1="642.50" x2="328.15" y2="643.80" stroke="#6e6e6e" stroke-width="0.8"/>
<line x1="321.57" y1="630.50" x2="334.72" y2="630.50" stroke="#6e6e6e" stroke-width="0.8"/>
<line x1="321.57" y1="643.80" x2="334.72" y2="643.80" stroke="#6e6e6e" stroke-width="0.8"/>
<rect x="315.00" y="634.50" width="26.30" height="8.00" fill="none" stroke="#6e6e6e" stroke-width="0.9"/>
<line x1="315.00" y1="637.50" x2="341.30" y2="637.50" stroke="#6e6e6e" stroke-width="0.8"/>
<circle cx="328.15" cy="630.50" r="1.55" fill="#fff" stroke="#6e6e6e" stroke-width="0.75"/>
<circle cx="328.15" cy="643.80" r="1.55" fill="#fff" stroke="#6e6e6e" stroke-width="0.75"/>
<circle cx="321.42" cy="634.60" r="1.55" fill="#fff" stroke="#6e6e6e" stroke-width="0.75"/>
<circle cx="331.34" cy="637.64" r="1.55" fill="#fff" stroke="#6e6e6e" stroke-width="0.75"/>
<circle cx="321.42" cy="635.61" r="1.55" fill="#fff" stroke="#6e6e6e" stroke-width="0.75"/>
<circle cx="332.62" cy="636.35" r="1.55" fill="#fff" stroke="#6e6e6e" stroke-width="0.75"/>
<circle cx="332.33" cy="635.68" r="1.55" fill="#fff" stroke="#6e6e6e" stroke-width="0.75"/>
<circle cx="321.84" cy="639.80" r="1.55" fill="#fff" stroke="#6e6e6e" stroke-width="0.75"/>
<circle cx="327.24" cy="638.79" r="1.55" fill="#fff" stroke="#6e6e6e" stroke-width="0.75"/>
<circle cx="336.77" cy="637.80" r="1.55" fill="#fff" stroke="#6e6e6e" stroke-width="0.75"/>
<line x1="369.40" y1="648.00" x2="369.40" y2="650.00" stroke="#6767e2" stroke-width="0.8"/>
<line x1="369.40" y1="656.30" x2="369.40" y2="661.30" stroke="#6767e2" stroke-width="0.8"/>
<line x1="362.85" y1="648.00" x2="375.95" y2="648.00" stroke="#6767e2" stroke-width="0.8"/>
<line x1="362.85" y1="661.30" x2="375.95" y2="661.30" stroke="#6767e2" stroke-width="0.8"/>
<rect x="356.30" y="650.00" width="26.20" height="6.30" fill="none" stroke="#6767e2" stroke-width="0.9"/>
<line x1="356.30" y1="653.50" x2="382.50" y2="653.50" stroke="#6767e2" stroke-width="0.8"/>
<circle cx="369.40" cy="648.00" r="1.55" fill="#fff" stroke="#6767e2" stroke-width="0.75"/>
<circle cx="369.40" cy="661.30" r="1.55" fill="#fff" stroke="#6767e2" stroke-width="0.75"/>
<circle cx="364.45" cy="650.49" r="1.55" fill="#fff" stroke="#6767e2" stroke-width="0.75"/>
<circle cx="376.32" cy="651.91" r="1.55" fill="#fff" stroke="#6767e2" stroke-width="0.75"/>
<circle cx="373.21" cy="653.13" r="1.55" fill="#fff" stroke="#6767e2" stroke-width="0.75"/>
<circle cx="369.55" cy="650.63" r="1.55" fill="#fff" stroke="#6767e2" stroke-width="0.75"/>
<circle cx="369.79" cy="655.31" r="1.55" fill="#fff" stroke="#6767e2" stroke-width="0.75"/>
<circle cx="376.00" cy="655.95" r="1.55" fill="#fff" stroke="#6767e2" stroke-width="0.75"/>
<circle cx="360.77" cy="652.34" r="1.55" fill="#fff" stroke="#6767e2" stroke-width="0.75"/>
<circle cx="362.94" cy="654.76" r="1.55" fill="#fff" stroke="#6767e2" stroke-width="0.75"/>
<line x1="410.65" y1="654.50" x2="410.65" y2="657.50" stroke="#e98595" stroke-width="0.8"/>
<line x1="410.65" y1="665.00" x2="410.65" y2="667.50" stroke="#e98595" stroke-width="0.8"/>
<line x1="404.07" y1="654.50" x2="417.22" y2="654.50" stroke="#e98595" stroke-width="0.8"/>
<line x1="404.07" y1="667.50" x2="417.22" y2="667.50" stroke="#e98595" stroke-width="0.8"/>
<rect x="397.50" y="657.50" width="26.30" height="7.50" fill="none" stroke="#e98595" stroke-width="0.9"/>
<line x1="397.50" y1="661.00" x2="423.80" y2="661.00" stroke="#e98595" stroke-width="0.8"/>
<circle cx="410.65" cy="654.50" r="1.55" fill="#fff" stroke="#e98595" stroke-width="0.75"/>
<circle cx="410.65" cy="667.50" r="1.55" fill="#fff" stroke="#e98595" stroke-width="0.75"/>
<circle cx="412.95" cy="661.78" r="1.55" fill="#fff" stroke="#e98595" stroke-width="0.75"/>
<circle cx="406.78" cy="663.63" r="1.55" fill="#fff" stroke="#e98595" stroke-width="0.75"/>
<circle cx="417.43" cy="662.39" r="1.55" fill="#fff" stroke="#e98595" stroke-width="0.75"/>
<circle cx="405.21" cy="664.32" r="1.55" fill="#fff" stroke="#e98595" stroke-width="0.75"/>
<circle cx="412.68" cy="662.39" r="1.55" fill="#fff" stroke="#e98595" stroke-width="0.75"/>
<circle cx="418.74" cy="661.28" r="1.55" fill="#fff" stroke="#e98595" stroke-width="0.75"/>
<circle cx="409.70" cy="661.46" r="1.55" fill="#fff" stroke="#e98595" stroke-width="0.75"/>
<circle cx="413.00" cy="664.58" r="1.55" fill="#fff" stroke="#e98595" stroke-width="0.75"/>
<line x1="452.15" y1="668.30" x2="452.15" y2="671.30" stroke="#c6b277" stroke-width="0.8"/>
<line x1="452.15" y1="677.00" x2="452.15" y2="678.80" stroke="#c6b277" stroke-width="0.8"/>
<line x1="445.47" y1="668.30" x2="458.82" y2="668.30" stroke="#c6b277" stroke-width="0.8"/>
<line x1="445.47" y1="678.80" x2="458.82" y2="678.80" stroke="#c6b277" stroke-width="0.8"/>
<rect x="438.80" y="671.30" width="26.70" height="5.70" fill="none" stroke="#c6b277" stroke-width="0.9"/>
<line x1="438.80" y1="674.00" x2="465.50" y2="674.00" stroke="#c6b277" stroke-width="0.8"/>
<circle cx="452.15" cy="668.30" r="1.55" fill="#fff" stroke="#c6b277" stroke-width="0.75"/>
<circle cx="452.15" cy="678.80" r="1.55" fill="#fff" stroke="#c6b277" stroke-width="0.75"/>
<circle cx="453.66" cy="674.31" r="1.55" fill="#fff" stroke="#c6b277" stroke-width="0.75"/>
<circle cx="459.17" cy="676.11" r="1.55" fill="#fff" stroke="#c6b277" stroke-width="0.75"/>
<circle cx="449.77" cy="676.33" r="1.55" fill="#fff" stroke="#c6b277" stroke-width="0.75"/>
<circle cx="450.81" cy="676.71" r="1.55" fill="#fff" stroke="#c6b277" stroke-width="0.75"/>
<circle cx="445.00" cy="673.05" r="1.55" fill="#fff" stroke="#c6b277" stroke-width="0.75"/>
<circle cx="446.07" cy="674.22" r="1.55" fill="#fff" stroke="#c6b277" stroke-width="0.75"/>
<circle cx="454.10" cy="672.86" r="1.55" fill="#fff" stroke="#c6b277" stroke-width="0.75"/>
<circle cx="456.60" cy="675.73" r="1.55" fill="#fff" stroke="#c6b277" stroke-width="0.75"/>
<g clip-path="url(#cl41)">
<circle cx="61.60" cy="714.60" r="19.00" fill="#d2cee6"/>
<g><rect x="42.60" y="695.60" width="38.00" height="38.00" filter="url(#sp410)"/></g>
<g mask="url(#mk411)"><rect x="42.60" y="695.60" width="38.00" height="38.00" filter="url(#sp411)"/></g>
</g>
<circle cx="61.60" cy="714.60" r="18.60" fill="none" stroke="#f4f2fa" stroke-width="1.0" stroke-opacity="0.55"/>
<g clip-path="url(#cl42)">
<circle cx="103.80" cy="714.60" r="19.00" fill="#d8d0f0"/>
<g><rect x="84.80" y="695.60" width="38.00" height="38.00" filter="url(#sp420)"/></g>
<g><rect x="84.80" y="695.60" width="38.00" height="38.00" filter="url(#sp421)"/></g>
</g>
<circle cx="103.80" cy="714.60" r="18.60" fill="none" stroke="#f4f2fa" stroke-width="1.0" stroke-opacity="0.55"/>
<g clip-path="url(#cl43)">
<circle cx="145.40" cy="714.40" r="18.60" fill="#cbbcf2"/>
<g><rect x="126.80" y="695.80" width="37.20" height="37.20" filter="url(#sp430)"/></g>
<g><rect x="126.80" y="695.80" width="37.20" height="37.20" filter="url(#sp431)"/></g>
</g>
<circle cx="145.40" cy="714.40" r="18.20" fill="none" stroke="#f4f2fa" stroke-width="1.0" stroke-opacity="0.55"/>
<g clip-path="url(#cl44)">
<circle cx="187.50" cy="714.40" r="18.80" fill="#c0adf0"/>
<g><rect x="168.70" y="695.60" width="37.60" height="37.60" filter="url(#sp440)"/></g>
<g><rect x="168.70" y="695.60" width="37.60" height="37.60" filter="url(#sp441)"/></g>
</g>
<circle cx="187.50" cy="714.40" r="18.40" fill="none" stroke="#f4f2fa" stroke-width="1.0" stroke-opacity="0.55"/>
<g clip-path="url(#cl45)">
<circle cx="325.40" cy="714.60" r="19.00" fill="#dcd6f2"/>
<g><rect x="306.40" y="695.60" width="38.00" height="38.00" filter="url(#sp450)"/></g>
<g><rect x="306.40" y="695.60" width="38.00" height="38.00" filter="url(#sp451)"/></g>
</g>
<circle cx="325.40" cy="714.60" r="18.60" fill="none" stroke="#f4f2fa" stroke-width="1.0" stroke-opacity="0.55"/>
<g clip-path="url(#cl46)">
<circle cx="368.80" cy="714.60" r="19.00" fill="#e3e0f0"/>
<g><rect x="349.80" y="695.60" width="38.00" height="38.00" filter="url(#sp460)"/></g>
<g><rect x="349.80" y="695.60" width="38.00" height="38.00" filter="url(#sp461)"/></g>
</g>
<circle cx="368.80" cy="714.60" r="18.60" fill="none" stroke="#f4f2fa" stroke-width="1.0" stroke-opacity="0.55"/>
<g clip-path="url(#cl47)">
<circle cx="412.60" cy="714.60" r="19.00" fill="#e1e0e8"/>
<g><rect x="393.60" y="695.60" width="38.00" height="38.00" filter="url(#sp470)"/></g>
<g><rect x="393.60" y="695.60" width="38.00" height="38.00" filter="url(#sp471)"/></g>
</g>
<circle cx="412.60" cy="714.60" r="18.60" fill="none" stroke="#f4f2fa" stroke-width="1.0" stroke-opacity="0.55"/>
<g clip-path="url(#cl48)">
<circle cx="455.00" cy="714.60" r="19.00" fill="#dadadd"/>
<g><rect x="436.00" y="695.60" width="38.00" height="38.00" filter="url(#sp480)"/></g>
<g><rect x="436.00" y="695.60" width="38.00" height="38.00" filter="url(#sp481)"/></g>
</g>
<circle cx="455.00" cy="714.60" r="18.60" fill="none" stroke="#f4f2fa" stroke-width="1.0" stroke-opacity="0.55"/>
<defs><clipPath id="cl41"><circle cx="61.60" cy="714.60" r="19.00"/></clipPath><filter id="sp410" x="0" y="0" width="1" height="1" color-interpolation-filters="sRGB"><feTurbulence type="fractalNoise" baseFrequency="0.8" numOctaves="2" seed="410"/><feColorMatrix type="matrix" values="0 0 0 0 0.604 0 0 0 0 0.573 0 0 0 0 0.769 5.0 0 0 0 -2.350"/><feGaussianBlur stdDeviation="0.6"/></filter><filter id="sp411" x="0" y="0" width="1" height="1" color-interpolation-filters="sRGB"><feTurbulence type="fractalNoise" baseFrequency="0.34" numOctaves="2" seed="411"/><feColorMatrix type="matrix" values="0 0 0 0 0.322 0 0 0 0 0.204 0 0 0 0 0.800 5.0 0 0 0 -2.400"/><feGaussianBlur stdDeviation="0.45"/></filter><radialGradient id="rg411"><stop offset="0" stop-color="#fff" stop-opacity="1"/><stop offset="0.5" stop-color="#fff" stop-opacity="0.8"/><stop offset="1" stop-color="#fff" stop-opacity="0"/></radialGradient><mask id="mk411"><circle cx="60.00" cy="716.50" r="13.00" fill="url(#rg411)"/></mask><clipPath id="cl42"><circle cx="103.80" cy="714.60" r="19.00"/></clipPath><filter id="sp420" x="0" y="0" width="1" height="1" color-interpolation-filters="sRGB"><feTurbulence type="fractalNoise" baseFrequency="0.8" numOctaves="2" seed="420"/><feColorMatrix type="matrix" values="0 0 0 0 0.518 0 0 0 0 0.471 0 0 0 0 0.722 5.0 0 0 0 -2.500"/><feGaussianBlur stdDeviation="0.6"/></filter><filter id="sp421" x="0" y="0" width="1" height="1" color-interpolation-filters="sRGB"><feTurbulence type="fractalNoise" baseFrequency="0.32" numOctaves="2" seed="421"/><feColorMatrix type="matrix" values="0 0 0 0 0.322 0 0 0 0 0.204 0 0 0 0 0.800 5.0 0 0 0 -2.390"/><feGaussianBlur stdDeviation="0.45"/></filter><clipPath id="cl43"><circle cx="145.40" cy="714.40" r="18.60"/></clipPath><filter id="sp430" x="0" y="0" width="1" height="1" color-interpolation-filters="sRGB"><feTurbulence type="fractalNoise" baseFrequency="0.36" numOctaves="2" seed="430"/><feColorMatrix type="matrix" values="0 0 0 0 0.486 0 0 0 0 0.345 0 0 0 0 0.886 5.0 0 0 0 -2.000"/><feGaussianBlur stdDeviation="0.45"/></filter><filter id="sp431" x="0" y="0" width="1" height="1" color-interpolation-filters="sRGB"><feTurbulence type="fractalNoise" baseFrequency="0.32" numOctaves="2" seed="431"/><feColorMatrix type="matrix" values="0 0 0 0 0.322 0 0 0 0 0.204 0 0 0 0 0.800 5.0 0 0 0 -2.325"/><feGaussianBlur stdDeviation="0.45"/></filter><clipPath id="cl44"><circle cx="187.50" cy="714.40" r="18.80"/></clipPath><filter id="sp440" x="0" y="0" width="1" height="1" color-interpolation-filters="sRGB"><feTurbulence type="fractalNoise" baseFrequency="0.36" numOctaves="2" seed="440"/><feColorMatrix type="matrix" values="0 0 0 0 0.486 0 0 0 0 0.345 0 0 0 0 0.886 5.0 0 0 0 -1.700"/><feGaussianBlur stdDeviation="0.45"/></filter><filter id="sp441" x="0" y="0" width="1" height="1" color-interpolation-filters="sRGB"><feTurbulence type="fractalNoise" baseFrequency="0.32" numOctaves="2" seed="441"/><feColorMatrix type="matrix" values="0 0 0 0 0.322 0 0 0 0 0.204 0 0 0 0 0.800 5.0 0 0 0 -2.225"/><feGaussianBlur stdDeviation="0.45"/></filter><clipPath id="cl45"><circle cx="325.40" cy="714.60" r="19.00"/></clipPath><filter id="sp450" x="0" y="0" width="1" height="1" color-interpolation-filters="sRGB"><feTurbulence type="fractalNoise" baseFrequency="0.36" numOctaves="2" seed="450"/><feColorMatrix type="matrix" values="0 0 0 0 0.486 0 0 0 0 0.345 0 0 0 0 0.886 5.0 0 0 0 -2.200"/><feGaussianBlur stdDeviation="0.45"/></filter><filter id="sp451" x="0" y="0" width="1" height="1" color-interpolation-filters="sRGB"><feTurbulence type="fractalNoise" baseFrequency="0.3" numOctaves="2" seed="451"/><feColorMatrix type="matrix" values="0 0 0 0 0.322 0 0 0 0 0.204 0 0 0 0 0.800 5.0 0 0 0 -2.400"/><feGaussianBlur stdDeviation="0.45"/></filter><clipPath id="cl46"><circle cx="368.80" cy="714.60" r="19.00"/></clipPath><filter id="sp460" x="0" y="0" width="1" height="1" color-interpolation-filters="sRGB"><feTurbulence type="fractalNoise" baseFrequency="0.8" numOctaves="2" seed="460"/><feColorMatrix type="matrix" values="0 0 0 0 0.604 0 0 0 0 0.573 0 0 0 0 0.769 5.0 0 0 0 -2.500"/><feGaussianBlur stdDeviation="0.6"/></filter><filter id="sp461" x="0" y="0" width="1" height="1" color-interpolation-filters="sRGB"><feTurbulence type="fractalNoise" baseFrequency="0.34" numOctaves="2" seed="461"/><feColorMatrix type="matrix" values="0 0 0 0 0.322 0 0 0 0 0.204 0 0 0 0 0.800 5.0 0 0 0 -2.725"/><feGaussianBlur stdDeviation="0.45"/></filter><clipPath id="cl47"><circle cx="412.60" cy="714.60" r="19.00"/></clipPath><filter id="sp470" x="0" y="0" width="1" height="1" color-interpolation-filters="sRGB"><feTurbulence type="fractalNoise" baseFrequency="0.8" numOctaves="2" seed="470"/><feColorMatrix type="matrix" values="0 0 0 0 0.604 0 0 0 0 0.573 0 0 0 0 0.769 5.0 0 0 0 -2.650"/><feGaussianBlur stdDeviation="0.6"/></filter><filter id="sp471" x="0" y="0" width="1" height="1" color-interpolation-filters="sRGB"><feTurbulence type="fractalNoise" baseFrequency="0.3" numOctaves="2" seed="471"/><feColorMatrix type="matrix" values="0 0 0 0 0.322 0 0 0 0 0.204 0 0 0 0 0.800 5.0 0 0 0 -2.825"/><feGaussianBlur stdDeviation="0.45"/></filter><clipPath id="cl48"><circle cx="455.00" cy="714.60" r="19.00"/></clipPath><filter id="sp480" x="0" y="0" width="1" height="1" color-interpolation-filters="sRGB"><feTurbulence type="fractalNoise" baseFrequency="0.8" numOctaves="2" seed="480"/><feColorMatrix type="matrix" values="0 0 0 0 0.604 0 0 0 0 0.573 0 0 0 0 0.769 5.0 0 0 0 -2.900"/><feGaussianBlur stdDeviation="0.6"/></filter><filter id="sp481" x="0" y="0" width="1" height="1" color-interpolation-filters="sRGB"><feTurbulence type="fractalNoise" baseFrequency="0.34" numOctaves="2" seed="481"/><feColorMatrix type="matrix" values="0 0 0 0 0.322 0 0 0 0 0.204 0 0 0 0 0.800 5.0 0 0 0 -3.050"/><feGaussianBlur stdDeviation="0.45"/></filter></defs>
</svg>
</body></html>
